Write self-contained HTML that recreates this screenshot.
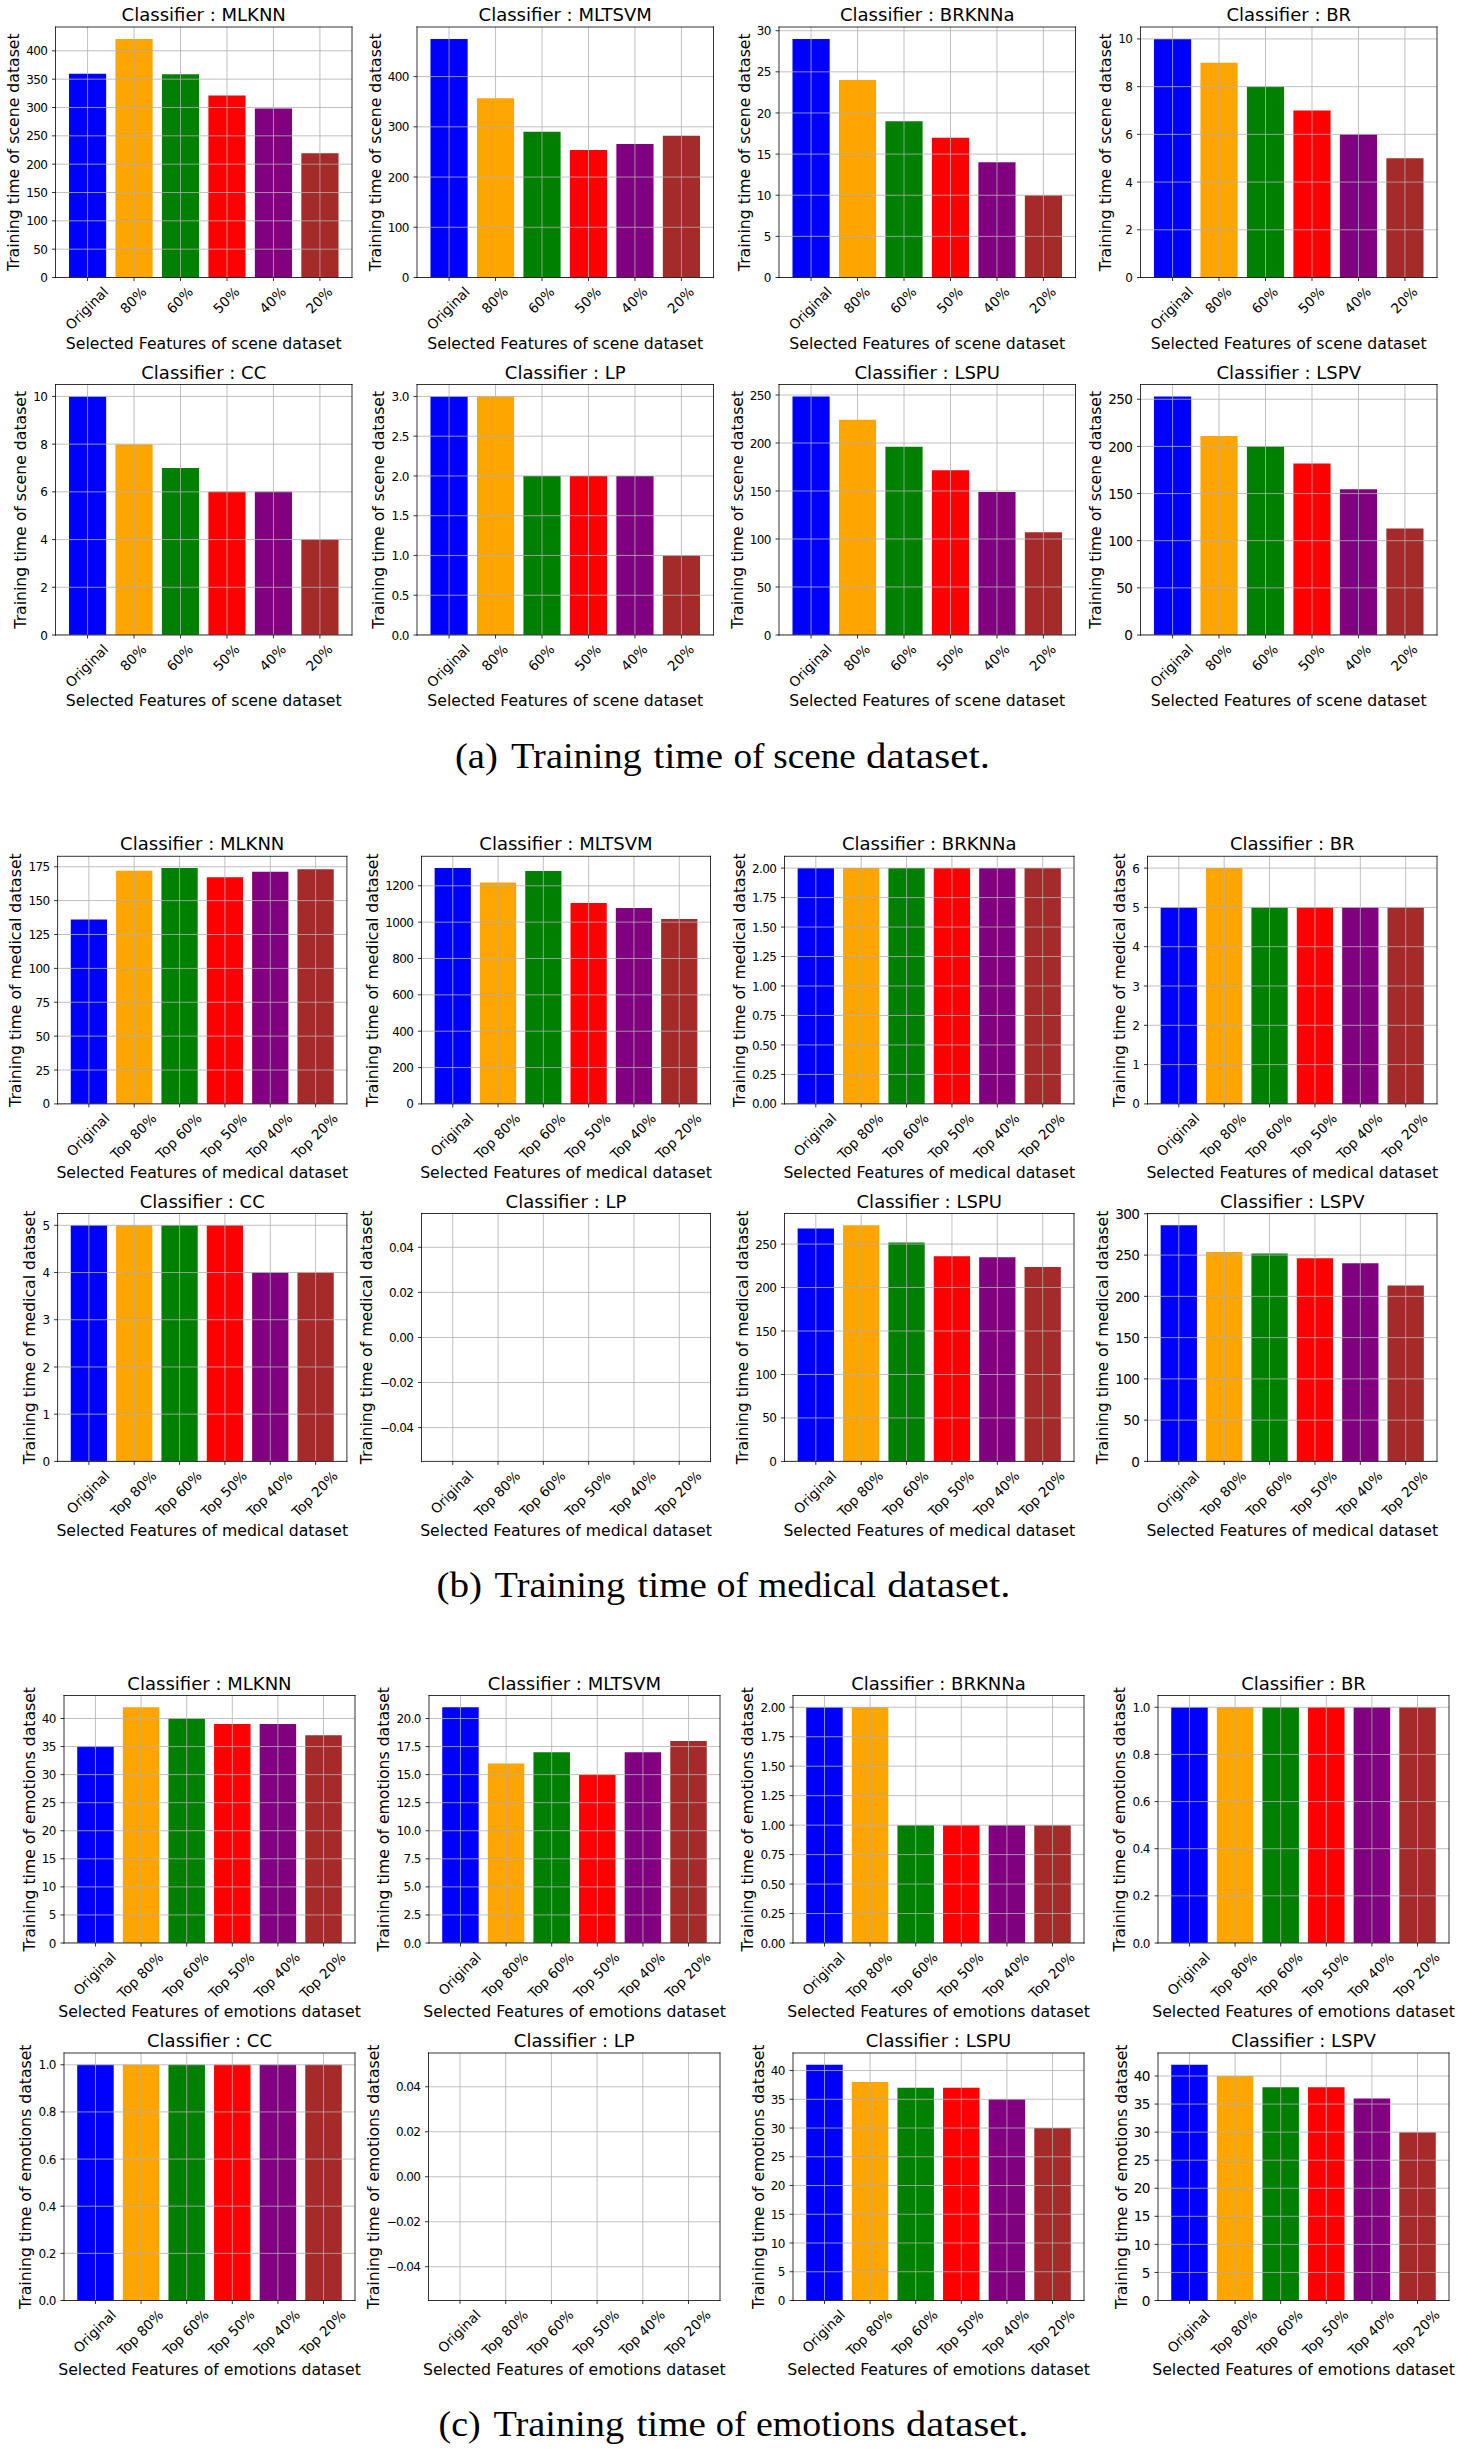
<!DOCTYPE html>
<html><head><meta charset="utf-8"><title>Training time</title>
<style>html,body{margin:0;padding:0;background:#fff;}svg{display:block;}</style>
</head><body>
<svg width="1458" height="2450" viewBox="0 0 1458 2450" version="1.1">
 
 <defs>
  <style type="text/css">*{stroke-linejoin: round; stroke-linecap: butt}</style>
 </defs>
 <g id="figure_1">
  <g id="patch_1">
   <path d="M 0 2450 
L 1458 2450 
L 1458 0 
L 0 0 
z
" style="fill: #ffffff"/>
  </g>
  <g id="axes_1">
   <g id="patch_2">
    <path d="M 55.5 277.5 
L 352 277.5 
L 352 27 
L 55.5 27 
z
" style="fill: #ffffff"/>
   </g>
   <g id="patch_3">
    <path d="M 68.977273 277.5 
L 106.155956 277.5 
L 106.155956 73.722599 
L 68.977273 73.722599 
z
" clip-path="url(#p2f9ace0a03)" style="fill: #0000ff"/>
   </g>
   <g id="patch_4">
    <path d="M 115.450627 277.5 
L 152.62931 277.5 
L 152.62931 38.928571 
L 115.450627 38.928571 
z
" clip-path="url(#p2f9ace0a03)" style="fill: #ffa500"/>
   </g>
   <g id="patch_5">
    <path d="M 161.923981 277.5 
L 199.102665 277.5 
L 199.102665 74.345945 
L 161.923981 74.345945 
z
" clip-path="url(#p2f9ace0a03)" style="fill: #008000"/>
   </g>
   <g id="patch_6">
    <path d="M 208.397335 277.5 
L 245.576019 277.5 
L 245.576019 95.483034 
L 208.397335 95.483034 
z
" clip-path="url(#p2f9ace0a03)" style="fill: #ff0000"/>
   </g>
   <g id="patch_7">
    <path d="M 254.87069 277.5 
L 292.049373 277.5 
L 292.049373 108.573295 
L 254.87069 108.573295 
z
" clip-path="url(#p2f9ace0a03)" style="fill: #800080"/>
   </g>
   <g id="patch_8">
    <path d="M 301.344044 277.5 
L 338.522727 277.5 
L 338.522727 153.340855 
L 301.344044 153.340855 
z
" clip-path="url(#p2f9ace0a03)" style="fill: #a52a2a"/>
   </g>
   <g id="matplotlib.axis_1">
    <g id="xtick_1">
     <g id="line2d_1">
      <path d="M 87.566614 277.5 
L 87.566614 27 
" clip-path="url(#p2f9ace0a03)" style="fill: none; stroke: #b0b0b0; stroke-width: 0.8; stroke-linecap: square"/>
     </g>
     <g id="line2d_2">
      
      <g>
       <path d="M 0 0 
L 0 3.5 
" transform="translate(87.566614 277.5)" style="stroke: #000000; stroke-width: 0.8"/>
      </g>
     </g>
     <g id="text_1">
      <text style="font-size: 13.7px; font-family: 'DejaVu Sans', sans-serif" transform="translate(71.28579 330.768744) rotate(-45)">Original</text>
     </g>
    </g>
    <g id="xtick_2">
     <g id="line2d_3">
      <path d="M 134.039969 277.5 
L 134.039969 27 
" clip-path="url(#p2f9ace0a03)" style="fill: none; stroke: #b0b0b0; stroke-width: 0.8; stroke-linecap: square"/>
     </g>
     <g id="line2d_4">
      <g>
       <path d="M 0 0 
L 0 3.5 
" transform="translate(134.039969 277.5)" style="stroke: #000000; stroke-width: 0.8"/>
      </g>
     </g>
     <g id="text_2">
      <text style="font-size: 13.7px; font-family: 'DejaVu Sans', sans-serif" transform="translate(125.947237 314.39256) rotate(-45)">80%</text>
     </g>
    </g>
    <g id="xtick_3">
     <g id="line2d_5">
      <path d="M 180.513323 277.5 
L 180.513323 27 
" clip-path="url(#p2f9ace0a03)" style="fill: none; stroke: #b0b0b0; stroke-width: 0.8; stroke-linecap: square"/>
     </g>
     <g id="line2d_6">
      <g>
       <path d="M 0 0 
L 0 3.5 
" transform="translate(180.513323 277.5)" style="stroke: #000000; stroke-width: 0.8"/>
      </g>
     </g>
     <g id="text_3">
      <text style="font-size: 13.7px; font-family: 'DejaVu Sans', sans-serif" transform="translate(172.420591 314.39256) rotate(-45)">60%</text>
     </g>
    </g>
    <g id="xtick_4">
     <g id="line2d_7">
      <path d="M 226.986677 277.5 
L 226.986677 27 
" clip-path="url(#p2f9ace0a03)" style="fill: none; stroke: #b0b0b0; stroke-width: 0.8; stroke-linecap: square"/>
     </g>
     <g id="line2d_8">
      <g>
       <path d="M 0 0 
L 0 3.5 
" transform="translate(226.986677 277.5)" style="stroke: #000000; stroke-width: 0.8"/>
      </g>
     </g>
     <g id="text_4">
      <text style="font-size: 13.7px; font-family: 'DejaVu Sans', sans-serif" transform="translate(218.893945 314.39256) rotate(-45)">50%</text>
     </g>
    </g>
    <g id="xtick_5">
     <g id="line2d_9">
      <path d="M 273.460031 277.5 
L 273.460031 27 
" clip-path="url(#p2f9ace0a03)" style="fill: none; stroke: #b0b0b0; stroke-width: 0.8; stroke-linecap: square"/>
     </g>
     <g id="line2d_10">
      <g>
       <path d="M 0 0 
L 0 3.5 
" transform="translate(273.460031 277.5)" style="stroke: #000000; stroke-width: 0.8"/>
      </g>
     </g>
     <g id="text_5">
      <text style="font-size: 13.7px; font-family: 'DejaVu Sans', sans-serif" transform="translate(265.367299 314.39256) rotate(-45)">40%</text>
     </g>
    </g>
    <g id="xtick_6">
     <g id="line2d_11">
      <path d="M 319.933386 277.5 
L 319.933386 27 
" clip-path="url(#p2f9ace0a03)" style="fill: none; stroke: #b0b0b0; stroke-width: 0.8; stroke-linecap: square"/>
     </g>
     <g id="line2d_12">
      <g>
       <path d="M 0 0 
L 0 3.5 
" transform="translate(319.933386 277.5)" style="stroke: #000000; stroke-width: 0.8"/>
      </g>
     </g>
     <g id="text_6">
      <text style="font-size: 13.7px; font-family: 'DejaVu Sans', sans-serif" transform="translate(311.840653 314.39256) rotate(-45)">20%</text>
     </g>
    </g>
    <g id="text_7">
     <text style="font-size: 15.7px; font-family: 'DejaVu Sans', sans-serif; text-anchor: middle" x="203.75" y="348.71296" transform="rotate(-0 203.75 348.71296)">Selected Features of scene dataset</text>
    </g>
   </g>
   <g id="matplotlib.axis_2">
    <g id="ytick_1">
     <g id="line2d_13">
      <path d="M 55.5 277.5 
L 352 277.5 
" clip-path="url(#p2f9ace0a03)" style="fill: none; stroke: #b0b0b0; stroke-width: 0.8; stroke-linecap: square"/>
     </g>
     <g id="line2d_14">
      
      <g>
       <path d="M 0 0 
L -3.5 0 
" transform="translate(55.5 277.5)" style="stroke: #000000; stroke-width: 0.8"/>
      </g>
     </g>
     <g id="text_8">
      <text style="font-size: 12px; font-family: 'DejaVu Sans', sans-serif; text-anchor: end" x="48" y="282.059062" transform="rotate(-0 48 282.059062)">0</text>
     </g>
    </g>
    <g id="ytick_2">
     <g id="line2d_15">
      <path d="M 55.5 249.166101 
L 352 249.166101 
" clip-path="url(#p2f9ace0a03)" style="fill: none; stroke: #b0b0b0; stroke-width: 0.8; stroke-linecap: square"/>
     </g>
     <g id="line2d_16">
      <g>
       <path d="M 0 0 
L -3.5 0 
" transform="translate(55.5 249.166101)" style="stroke: #000000; stroke-width: 0.8"/>
      </g>
     </g>
     <g id="text_9">
      <text style="font-size: 12px; font-family: 'DejaVu Sans', sans-serif; text-anchor: end" x="48" y="253.725164" transform="rotate(-0 48 253.725164)" textLength="14.67" lengthAdjust="spacing">50</text>
     </g>
    </g>
    <g id="ytick_3">
     <g id="line2d_17">
      <path d="M 55.5 220.832202 
L 352 220.832202 
" clip-path="url(#p2f9ace0a03)" style="fill: none; stroke: #b0b0b0; stroke-width: 0.8; stroke-linecap: square"/>
     </g>
     <g id="line2d_18">
      <g>
       <path d="M 0 0 
L -3.5 0 
" transform="translate(55.5 220.832202)" style="stroke: #000000; stroke-width: 0.8"/>
      </g>
     </g>
     <g id="text_10">
      <text style="font-size: 12px; font-family: 'DejaVu Sans', sans-serif; text-anchor: end" x="48" y="225.391265" transform="rotate(-0 48 225.391265)" textLength="21.70" lengthAdjust="spacing">100</text>
     </g>
    </g>
    <g id="ytick_4">
     <g id="line2d_19">
      <path d="M 55.5 192.498303 
L 352 192.498303 
" clip-path="url(#p2f9ace0a03)" style="fill: none; stroke: #b0b0b0; stroke-width: 0.8; stroke-linecap: square"/>
     </g>
     <g id="line2d_20">
      <g>
       <path d="M 0 0 
L -3.5 0 
" transform="translate(55.5 192.498303)" style="stroke: #000000; stroke-width: 0.8"/>
      </g>
     </g>
     <g id="text_11">
      <text style="font-size: 12px; font-family: 'DejaVu Sans', sans-serif; text-anchor: end" x="48" y="197.057366" transform="rotate(-0 48 197.057366)" textLength="21.70" lengthAdjust="spacing">150</text>
     </g>
    </g>
    <g id="ytick_5">
     <g id="line2d_21">
      <path d="M 55.5 164.164404 
L 352 164.164404 
" clip-path="url(#p2f9ace0a03)" style="fill: none; stroke: #b0b0b0; stroke-width: 0.8; stroke-linecap: square"/>
     </g>
     <g id="line2d_22">
      <g>
       <path d="M 0 0 
L -3.5 0 
" transform="translate(55.5 164.164404)" style="stroke: #000000; stroke-width: 0.8"/>
      </g>
     </g>
     <g id="text_12">
      <text style="font-size: 12px; font-family: 'DejaVu Sans', sans-serif; text-anchor: end" x="48" y="168.723467" transform="rotate(-0 48 168.723467)" textLength="21.70" lengthAdjust="spacing">200</text>
     </g>
    </g>
    <g id="ytick_6">
     <g id="line2d_23">
      <path d="M 55.5 135.830506 
L 352 135.830506 
" clip-path="url(#p2f9ace0a03)" style="fill: none; stroke: #b0b0b0; stroke-width: 0.8; stroke-linecap: square"/>
     </g>
     <g id="line2d_24">
      <g>
       <path d="M 0 0 
L -3.5 0 
" transform="translate(55.5 135.830506)" style="stroke: #000000; stroke-width: 0.8"/>
      </g>
     </g>
     <g id="text_13">
      <text style="font-size: 12px; font-family: 'DejaVu Sans', sans-serif; text-anchor: end" x="48" y="140.389568" transform="rotate(-0 48 140.389568)" textLength="21.70" lengthAdjust="spacing">250</text>
     </g>
    </g>
    <g id="ytick_7">
     <g id="line2d_25">
      <path d="M 55.5 107.496607 
L 352 107.496607 
" clip-path="url(#p2f9ace0a03)" style="fill: none; stroke: #b0b0b0; stroke-width: 0.8; stroke-linecap: square"/>
     </g>
     <g id="line2d_26">
      <g>
       <path d="M 0 0 
L -3.5 0 
" transform="translate(55.5 107.496607)" style="stroke: #000000; stroke-width: 0.8"/>
      </g>
     </g>
     <g id="text_14">
      <text style="font-size: 12px; font-family: 'DejaVu Sans', sans-serif; text-anchor: end" x="48" y="112.055669" transform="rotate(-0 48 112.055669)" textLength="21.70" lengthAdjust="spacing">300</text>
     </g>
    </g>
    <g id="ytick_8">
     <g id="line2d_27">
      <path d="M 55.5 79.162708 
L 352 79.162708 
" clip-path="url(#p2f9ace0a03)" style="fill: none; stroke: #b0b0b0; stroke-width: 0.8; stroke-linecap: square"/>
     </g>
     <g id="line2d_28">
      <g>
       <path d="M 0 0 
L -3.5 0 
" transform="translate(55.5 79.162708)" style="stroke: #000000; stroke-width: 0.8"/>
      </g>
     </g>
     <g id="text_15">
      <text style="font-size: 12px; font-family: 'DejaVu Sans', sans-serif; text-anchor: end" x="48" y="83.72177" transform="rotate(-0 48 83.72177)" textLength="21.70" lengthAdjust="spacing">350</text>
     </g>
    </g>
    <g id="ytick_9">
     <g id="line2d_29">
      <path d="M 55.5 50.828809 
L 352 50.828809 
" clip-path="url(#p2f9ace0a03)" style="fill: none; stroke: #b0b0b0; stroke-width: 0.8; stroke-linecap: square"/>
     </g>
     <g id="line2d_30">
      <g>
       <path d="M 0 0 
L -3.5 0 
" transform="translate(55.5 50.828809)" style="stroke: #000000; stroke-width: 0.8"/>
      </g>
     </g>
     <g id="text_16">
      <text style="font-size: 12px; font-family: 'DejaVu Sans', sans-serif; text-anchor: end" x="48" y="55.387871" transform="rotate(-0 48 55.387871)" textLength="21.70" lengthAdjust="spacing">400</text>
     </g>
    </g>
    <g id="text_17">
     <text style="font-size: 15.7px; font-family: 'DejaVu Sans', sans-serif; text-anchor: middle" x="19.029891" y="152.25" transform="rotate(-90 19.029891 152.25)">Training time of scene dataset</text>
    </g>
   </g>
   <g id="patch_9">
    <path d="M 55.5 277.5 
L 55.5 27 
" style="fill: none; stroke: #000000; stroke-width: 0.8; stroke-linejoin: miter; stroke-linecap: square"/>
   </g>
   <g id="patch_10">
    <path d="M 352 277.5 
L 352 27 
" style="fill: none; stroke: #000000; stroke-width: 0.8; stroke-linejoin: miter; stroke-linecap: square"/>
   </g>
   <g id="patch_11">
    <path d="M 55.5 277.5 
L 352 277.5 
" style="fill: none; stroke: #000000; stroke-width: 0.8; stroke-linejoin: miter; stroke-linecap: square"/>
   </g>
   <g id="patch_12">
    <path d="M 55.5 27 
L 352 27 
" style="fill: none; stroke: #000000; stroke-width: 0.8; stroke-linejoin: miter; stroke-linecap: square"/>
   </g>
   <g id="text_18">
    <text style="font-size: 18.05px; font-family: 'DejaVu Sans', sans-serif; text-anchor: middle" x="203.75" y="21" transform="rotate(-0 203.75 21)">Classifier : MLKNN</text>
   </g>
  </g>
  <g id="axes_2">
   <g id="patch_13">
    <path d="M 417 277.5 
L 713.5 277.5 
L 713.5 27 
L 417 27 
z
" style="fill: #ffffff"/>
   </g>
   <g id="patch_14">
    <path d="M 430.477273 277.5 
L 467.655956 277.5 
L 467.655956 38.928571 
L 430.477273 38.928571 
z
" clip-path="url(#p5b43a1395b)" style="fill: #0000ff"/>
   </g>
   <g id="patch_15">
    <path d="M 476.950627 277.5 
L 514.12931 277.5 
L 514.12931 98.194737 
L 476.950627 98.194737 
z
" clip-path="url(#p5b43a1395b)" style="fill: #ffa500"/>
   </g>
   <g id="patch_16">
    <path d="M 523.423981 277.5 
L 560.602665 277.5 
L 560.602665 131.845865 
L 523.423981 131.845865 
z
" clip-path="url(#p5b43a1395b)" style="fill: #008000"/>
   </g>
   <g id="patch_17">
    <path d="M 569.897335 277.5 
L 607.076019 277.5 
L 607.076019 149.927068 
L 569.897335 149.927068 
z
" clip-path="url(#p5b43a1395b)" style="fill: #ff0000"/>
   </g>
   <g id="patch_18">
    <path d="M 616.37069 277.5 
L 653.549373 277.5 
L 653.549373 143.9 
L 616.37069 143.9 
z
" clip-path="url(#p5b43a1395b)" style="fill: #800080"/>
   </g>
   <g id="patch_19">
    <path d="M 662.844044 277.5 
L 700.022727 277.5 
L 700.022727 135.86391 
L 662.844044 135.86391 
z
" clip-path="url(#p5b43a1395b)" style="fill: #a52a2a"/>
   </g>
   <g id="matplotlib.axis_3">
    <g id="xtick_7">
     <g id="line2d_31">
      <path d="M 449.066614 277.5 
L 449.066614 27 
" clip-path="url(#p5b43a1395b)" style="fill: none; stroke: #b0b0b0; stroke-width: 0.8; stroke-linecap: square"/>
     </g>
     <g id="line2d_32">
      <g>
       <path d="M 0 0 
L 0 3.5 
" transform="translate(449.066614 277.5)" style="stroke: #000000; stroke-width: 0.8"/>
      </g>
     </g>
     <g id="text_19">
      <text style="font-size: 13.7px; font-family: 'DejaVu Sans', sans-serif" transform="translate(432.78579 330.768744) rotate(-45)">Original</text>
     </g>
    </g>
    <g id="xtick_8">
     <g id="line2d_33">
      <path d="M 495.539969 277.5 
L 495.539969 27 
" clip-path="url(#p5b43a1395b)" style="fill: none; stroke: #b0b0b0; stroke-width: 0.8; stroke-linecap: square"/>
     </g>
     <g id="line2d_34">
      <g>
       <path d="M 0 0 
L 0 3.5 
" transform="translate(495.539969 277.5)" style="stroke: #000000; stroke-width: 0.8"/>
      </g>
     </g>
     <g id="text_20">
      <text style="font-size: 13.7px; font-family: 'DejaVu Sans', sans-serif" transform="translate(487.447237 314.39256) rotate(-45)">80%</text>
     </g>
    </g>
    <g id="xtick_9">
     <g id="line2d_35">
      <path d="M 542.013323 277.5 
L 542.013323 27 
" clip-path="url(#p5b43a1395b)" style="fill: none; stroke: #b0b0b0; stroke-width: 0.8; stroke-linecap: square"/>
     </g>
     <g id="line2d_36">
      <g>
       <path d="M 0 0 
L 0 3.5 
" transform="translate(542.013323 277.5)" style="stroke: #000000; stroke-width: 0.8"/>
      </g>
     </g>
     <g id="text_21">
      <text style="font-size: 13.7px; font-family: 'DejaVu Sans', sans-serif" transform="translate(533.920591 314.39256) rotate(-45)">60%</text>
     </g>
    </g>
    <g id="xtick_10">
     <g id="line2d_37">
      <path d="M 588.486677 277.5 
L 588.486677 27 
" clip-path="url(#p5b43a1395b)" style="fill: none; stroke: #b0b0b0; stroke-width: 0.8; stroke-linecap: square"/>
     </g>
     <g id="line2d_38">
      <g>
       <path d="M 0 0 
L 0 3.5 
" transform="translate(588.486677 277.5)" style="stroke: #000000; stroke-width: 0.8"/>
      </g>
     </g>
     <g id="text_22">
      <text style="font-size: 13.7px; font-family: 'DejaVu Sans', sans-serif" transform="translate(580.393945 314.39256) rotate(-45)">50%</text>
     </g>
    </g>
    <g id="xtick_11">
     <g id="line2d_39">
      <path d="M 634.960031 277.5 
L 634.960031 27 
" clip-path="url(#p5b43a1395b)" style="fill: none; stroke: #b0b0b0; stroke-width: 0.8; stroke-linecap: square"/>
     </g>
     <g id="line2d_40">
      <g>
       <path d="M 0 0 
L 0 3.5 
" transform="translate(634.960031 277.5)" style="stroke: #000000; stroke-width: 0.8"/>
      </g>
     </g>
     <g id="text_23">
      <text style="font-size: 13.7px; font-family: 'DejaVu Sans', sans-serif" transform="translate(626.867299 314.39256) rotate(-45)">40%</text>
     </g>
    </g>
    <g id="xtick_12">
     <g id="line2d_41">
      <path d="M 681.433386 277.5 
L 681.433386 27 
" clip-path="url(#p5b43a1395b)" style="fill: none; stroke: #b0b0b0; stroke-width: 0.8; stroke-linecap: square"/>
     </g>
     <g id="line2d_42">
      <g>
       <path d="M 0 0 
L 0 3.5 
" transform="translate(681.433386 277.5)" style="stroke: #000000; stroke-width: 0.8"/>
      </g>
     </g>
     <g id="text_24">
      <text style="font-size: 13.7px; font-family: 'DejaVu Sans', sans-serif" transform="translate(673.340653 314.39256) rotate(-45)">20%</text>
     </g>
    </g>
    <g id="text_25">
     <text style="font-size: 15.7px; font-family: 'DejaVu Sans', sans-serif; text-anchor: middle" x="565.25" y="348.71296" transform="rotate(-0 565.25 348.71296)">Selected Features of scene dataset</text>
    </g>
   </g>
   <g id="matplotlib.axis_4">
    <g id="ytick_10">
     <g id="line2d_43">
      <path d="M 417 277.5 
L 713.5 277.5 
" clip-path="url(#p5b43a1395b)" style="fill: none; stroke: #b0b0b0; stroke-width: 0.8; stroke-linecap: square"/>
     </g>
     <g id="line2d_44">
      <g>
       <path d="M 0 0 
L -3.5 0 
" transform="translate(417 277.5)" style="stroke: #000000; stroke-width: 0.8"/>
      </g>
     </g>
     <g id="text_26">
      <text style="font-size: 12px; font-family: 'DejaVu Sans', sans-serif; text-anchor: end" x="409.5" y="282.059062" transform="rotate(-0 409.5 282.059062)">0</text>
     </g>
    </g>
    <g id="ytick_11">
     <g id="line2d_45">
      <path d="M 417 227.274436 
L 713.5 227.274436 
" clip-path="url(#p5b43a1395b)" style="fill: none; stroke: #b0b0b0; stroke-width: 0.8; stroke-linecap: square"/>
     </g>
     <g id="line2d_46">
      <g>
       <path d="M 0 0 
L -3.5 0 
" transform="translate(417 227.274436)" style="stroke: #000000; stroke-width: 0.8"/>
      </g>
     </g>
     <g id="text_27">
      <text style="font-size: 12px; font-family: 'DejaVu Sans', sans-serif; text-anchor: end" x="409.5" y="231.833499" transform="rotate(-0 409.5 231.833499)" textLength="21.70" lengthAdjust="spacing">100</text>
     </g>
    </g>
    <g id="ytick_12">
     <g id="line2d_47">
      <path d="M 417 177.048872 
L 713.5 177.048872 
" clip-path="url(#p5b43a1395b)" style="fill: none; stroke: #b0b0b0; stroke-width: 0.8; stroke-linecap: square"/>
     </g>
     <g id="line2d_48">
      <g>
       <path d="M 0 0 
L -3.5 0 
" transform="translate(417 177.048872)" style="stroke: #000000; stroke-width: 0.8"/>
      </g>
     </g>
     <g id="text_28">
      <text style="font-size: 12px; font-family: 'DejaVu Sans', sans-serif; text-anchor: end" x="409.5" y="181.607935" transform="rotate(-0 409.5 181.607935)" textLength="21.70" lengthAdjust="spacing">200</text>
     </g>
    </g>
    <g id="ytick_13">
     <g id="line2d_49">
      <path d="M 417 126.823308 
L 713.5 126.823308 
" clip-path="url(#p5b43a1395b)" style="fill: none; stroke: #b0b0b0; stroke-width: 0.8; stroke-linecap: square"/>
     </g>
     <g id="line2d_50">
      <g>
       <path d="M 0 0 
L -3.5 0 
" transform="translate(417 126.823308)" style="stroke: #000000; stroke-width: 0.8"/>
      </g>
     </g>
     <g id="text_29">
      <text style="font-size: 12px; font-family: 'DejaVu Sans', sans-serif; text-anchor: end" x="409.5" y="131.382371" transform="rotate(-0 409.5 131.382371)" textLength="21.70" lengthAdjust="spacing">300</text>
     </g>
    </g>
    <g id="ytick_14">
     <g id="line2d_51">
      <path d="M 417 76.597744 
L 713.5 76.597744 
" clip-path="url(#p5b43a1395b)" style="fill: none; stroke: #b0b0b0; stroke-width: 0.8; stroke-linecap: square"/>
     </g>
     <g id="line2d_52">
      <g>
       <path d="M 0 0 
L -3.5 0 
" transform="translate(417 76.597744)" style="stroke: #000000; stroke-width: 0.8"/>
      </g>
     </g>
     <g id="text_30">
      <text style="font-size: 12px; font-family: 'DejaVu Sans', sans-serif; text-anchor: end" x="409.5" y="81.156807" transform="rotate(-0 409.5 81.156807)" textLength="21.70" lengthAdjust="spacing">400</text>
     </g>
    </g>
    <g id="text_31">
     <text style="font-size: 15.7px; font-family: 'DejaVu Sans', sans-serif; text-anchor: middle" x="380.529891" y="152.25" transform="rotate(-90 380.529891 152.25)">Training time of scene dataset</text>
    </g>
   </g>
   <g id="patch_20">
    <path d="M 417 277.5 
L 417 27 
" style="fill: none; stroke: #000000; stroke-width: 0.8; stroke-linejoin: miter; stroke-linecap: square"/>
   </g>
   <g id="patch_21">
    <path d="M 713.5 277.5 
L 713.5 27 
" style="fill: none; stroke: #000000; stroke-width: 0.8; stroke-linejoin: miter; stroke-linecap: square"/>
   </g>
   <g id="patch_22">
    <path d="M 417 277.5 
L 713.5 277.5 
" style="fill: none; stroke: #000000; stroke-width: 0.8; stroke-linejoin: miter; stroke-linecap: square"/>
   </g>
   <g id="patch_23">
    <path d="M 417 27 
L 713.5 27 
" style="fill: none; stroke: #000000; stroke-width: 0.8; stroke-linejoin: miter; stroke-linecap: square"/>
   </g>
   <g id="text_32">
    <text style="font-size: 18.05px; font-family: 'DejaVu Sans', sans-serif; text-anchor: middle" x="565.25" y="21" transform="rotate(-0 565.25 21)">Classifier : MLTSVM</text>
   </g>
  </g>
  <g id="axes_3">
   <g id="patch_24">
    <path d="M 779 277.5 
L 1075.5 277.5 
L 1075.5 27 
L 779 27 
z
" style="fill: #ffffff"/>
   </g>
   <g id="patch_25">
    <path d="M 792.477273 277.5 
L 829.655956 277.5 
L 829.655956 38.928571 
L 792.477273 38.928571 
z
" clip-path="url(#p67e2372275)" style="fill: #0000ff"/>
   </g>
   <g id="patch_26">
    <path d="M 838.950627 277.5 
L 876.12931 277.5 
L 876.12931 80.061576 
L 838.950627 80.061576 
z
" clip-path="url(#p67e2372275)" style="fill: #ffa500"/>
   </g>
   <g id="patch_27">
    <path d="M 885.423981 277.5 
L 922.602665 277.5 
L 922.602665 121.194581 
L 885.423981 121.194581 
z
" clip-path="url(#p67e2372275)" style="fill: #008000"/>
   </g>
   <g id="patch_28">
    <path d="M 931.897335 277.5 
L 969.076019 277.5 
L 969.076019 137.647783 
L 931.897335 137.647783 
z
" clip-path="url(#p67e2372275)" style="fill: #ff0000"/>
   </g>
   <g id="patch_29">
    <path d="M 978.37069 277.5 
L 1015.549373 277.5 
L 1015.549373 162.327586 
L 978.37069 162.327586 
z
" clip-path="url(#p67e2372275)" style="fill: #800080"/>
   </g>
   <g id="patch_30">
    <path d="M 1024.844044 277.5 
L 1062.022727 277.5 
L 1062.022727 195.23399 
L 1024.844044 195.23399 
z
" clip-path="url(#p67e2372275)" style="fill: #a52a2a"/>
   </g>
   <g id="matplotlib.axis_5">
    <g id="xtick_13">
     <g id="line2d_53">
      <path d="M 811.066614 277.5 
L 811.066614 27 
" clip-path="url(#p67e2372275)" style="fill: none; stroke: #b0b0b0; stroke-width: 0.8; stroke-linecap: square"/>
     </g>
     <g id="line2d_54">
      <g>
       <path d="M 0 0 
L 0 3.5 
" transform="translate(811.066614 277.5)" style="stroke: #000000; stroke-width: 0.8"/>
      </g>
     </g>
     <g id="text_33">
      <text style="font-size: 13.7px; font-family: 'DejaVu Sans', sans-serif" transform="translate(794.78579 330.768744) rotate(-45)">Original</text>
     </g>
    </g>
    <g id="xtick_14">
     <g id="line2d_55">
      <path d="M 857.539969 277.5 
L 857.539969 27 
" clip-path="url(#p67e2372275)" style="fill: none; stroke: #b0b0b0; stroke-width: 0.8; stroke-linecap: square"/>
     </g>
     <g id="line2d_56">
      <g>
       <path d="M 0 0 
L 0 3.5 
" transform="translate(857.539969 277.5)" style="stroke: #000000; stroke-width: 0.8"/>
      </g>
     </g>
     <g id="text_34">
      <text style="font-size: 13.7px; font-family: 'DejaVu Sans', sans-serif" transform="translate(849.447237 314.39256) rotate(-45)">80%</text>
     </g>
    </g>
    <g id="xtick_15">
     <g id="line2d_57">
      <path d="M 904.013323 277.5 
L 904.013323 27 
" clip-path="url(#p67e2372275)" style="fill: none; stroke: #b0b0b0; stroke-width: 0.8; stroke-linecap: square"/>
     </g>
     <g id="line2d_58">
      <g>
       <path d="M 0 0 
L 0 3.5 
" transform="translate(904.013323 277.5)" style="stroke: #000000; stroke-width: 0.8"/>
      </g>
     </g>
     <g id="text_35">
      <text style="font-size: 13.7px; font-family: 'DejaVu Sans', sans-serif" transform="translate(895.920591 314.39256) rotate(-45)">60%</text>
     </g>
    </g>
    <g id="xtick_16">
     <g id="line2d_59">
      <path d="M 950.486677 277.5 
L 950.486677 27 
" clip-path="url(#p67e2372275)" style="fill: none; stroke: #b0b0b0; stroke-width: 0.8; stroke-linecap: square"/>
     </g>
     <g id="line2d_60">
      <g>
       <path d="M 0 0 
L 0 3.5 
" transform="translate(950.486677 277.5)" style="stroke: #000000; stroke-width: 0.8"/>
      </g>
     </g>
     <g id="text_36">
      <text style="font-size: 13.7px; font-family: 'DejaVu Sans', sans-serif" transform="translate(942.393945 314.39256) rotate(-45)">50%</text>
     </g>
    </g>
    <g id="xtick_17">
     <g id="line2d_61">
      <path d="M 996.960031 277.5 
L 996.960031 27 
" clip-path="url(#p67e2372275)" style="fill: none; stroke: #b0b0b0; stroke-width: 0.8; stroke-linecap: square"/>
     </g>
     <g id="line2d_62">
      <g>
       <path d="M 0 0 
L 0 3.5 
" transform="translate(996.960031 277.5)" style="stroke: #000000; stroke-width: 0.8"/>
      </g>
     </g>
     <g id="text_37">
      <text style="font-size: 13.7px; font-family: 'DejaVu Sans', sans-serif" transform="translate(988.867299 314.39256) rotate(-45)">40%</text>
     </g>
    </g>
    <g id="xtick_18">
     <g id="line2d_63">
      <path d="M 1043.433386 277.5 
L 1043.433386 27 
" clip-path="url(#p67e2372275)" style="fill: none; stroke: #b0b0b0; stroke-width: 0.8; stroke-linecap: square"/>
     </g>
     <g id="line2d_64">
      <g>
       <path d="M 0 0 
L 0 3.5 
" transform="translate(1043.433386 277.5)" style="stroke: #000000; stroke-width: 0.8"/>
      </g>
     </g>
     <g id="text_38">
      <text style="font-size: 13.7px; font-family: 'DejaVu Sans', sans-serif" transform="translate(1035.340653 314.39256) rotate(-45)">20%</text>
     </g>
    </g>
    <g id="text_39">
     <text style="font-size: 15.7px; font-family: 'DejaVu Sans', sans-serif; text-anchor: middle" x="927.25" y="348.71296" transform="rotate(-0 927.25 348.71296)">Selected Features of scene dataset</text>
    </g>
   </g>
   <g id="matplotlib.axis_6">
    <g id="ytick_15">
     <g id="line2d_65">
      <path d="M 779 277.5 
L 1075.5 277.5 
" clip-path="url(#p67e2372275)" style="fill: none; stroke: #b0b0b0; stroke-width: 0.8; stroke-linecap: square"/>
     </g>
     <g id="line2d_66">
      <g>
       <path d="M 0 0 
L -3.5 0 
" transform="translate(779 277.5)" style="stroke: #000000; stroke-width: 0.8"/>
      </g>
     </g>
     <g id="text_40">
      <text style="font-size: 12px; font-family: 'DejaVu Sans', sans-serif; text-anchor: end" x="771.5" y="282.059062" transform="rotate(-0 771.5 282.059062)">0</text>
     </g>
    </g>
    <g id="ytick_16">
     <g id="line2d_67">
      <path d="M 779 236.366995 
L 1075.5 236.366995 
" clip-path="url(#p67e2372275)" style="fill: none; stroke: #b0b0b0; stroke-width: 0.8; stroke-linecap: square"/>
     </g>
     <g id="line2d_68">
      <g>
       <path d="M 0 0 
L -3.5 0 
" transform="translate(779 236.366995)" style="stroke: #000000; stroke-width: 0.8"/>
      </g>
     </g>
     <g id="text_41">
      <text style="font-size: 12px; font-family: 'DejaVu Sans', sans-serif; text-anchor: end" x="771.5" y="240.926058" transform="rotate(-0 771.5 240.926058)">5</text>
     </g>
    </g>
    <g id="ytick_17">
     <g id="line2d_69">
      <path d="M 779 195.23399 
L 1075.5 195.23399 
" clip-path="url(#p67e2372275)" style="fill: none; stroke: #b0b0b0; stroke-width: 0.8; stroke-linecap: square"/>
     </g>
     <g id="line2d_70">
      <g>
       <path d="M 0 0 
L -3.5 0 
" transform="translate(779 195.23399)" style="stroke: #000000; stroke-width: 0.8"/>
      </g>
     </g>
     <g id="text_42">
      <text style="font-size: 12px; font-family: 'DejaVu Sans', sans-serif; text-anchor: end" x="771.5" y="199.793053" transform="rotate(-0 771.5 199.793053)" textLength="14.67" lengthAdjust="spacing">10</text>
     </g>
    </g>
    <g id="ytick_18">
     <g id="line2d_71">
      <path d="M 779 154.100985 
L 1075.5 154.100985 
" clip-path="url(#p67e2372275)" style="fill: none; stroke: #b0b0b0; stroke-width: 0.8; stroke-linecap: square"/>
     </g>
     <g id="line2d_72">
      <g>
       <path d="M 0 0 
L -3.5 0 
" transform="translate(779 154.100985)" style="stroke: #000000; stroke-width: 0.8"/>
      </g>
     </g>
     <g id="text_43">
      <text style="font-size: 12px; font-family: 'DejaVu Sans', sans-serif; text-anchor: end" x="771.5" y="158.660048" transform="rotate(-0 771.5 158.660048)" textLength="14.67" lengthAdjust="spacing">15</text>
     </g>
    </g>
    <g id="ytick_19">
     <g id="line2d_73">
      <path d="M 779 112.96798 
L 1075.5 112.96798 
" clip-path="url(#p67e2372275)" style="fill: none; stroke: #b0b0b0; stroke-width: 0.8; stroke-linecap: square"/>
     </g>
     <g id="line2d_74">
      <g>
       <path d="M 0 0 
L -3.5 0 
" transform="translate(779 112.96798)" style="stroke: #000000; stroke-width: 0.8"/>
      </g>
     </g>
     <g id="text_44">
      <text style="font-size: 12px; font-family: 'DejaVu Sans', sans-serif; text-anchor: end" x="771.5" y="117.527043" transform="rotate(-0 771.5 117.527043)" textLength="14.67" lengthAdjust="spacing">20</text>
     </g>
    </g>
    <g id="ytick_20">
     <g id="line2d_75">
      <path d="M 779 71.834975 
L 1075.5 71.834975 
" clip-path="url(#p67e2372275)" style="fill: none; stroke: #b0b0b0; stroke-width: 0.8; stroke-linecap: square"/>
     </g>
     <g id="line2d_76">
      <g>
       <path d="M 0 0 
L -3.5 0 
" transform="translate(779 71.834975)" style="stroke: #000000; stroke-width: 0.8"/>
      </g>
     </g>
     <g id="text_45">
      <text style="font-size: 12px; font-family: 'DejaVu Sans', sans-serif; text-anchor: end" x="771.5" y="76.394038" transform="rotate(-0 771.5 76.394038)" textLength="14.67" lengthAdjust="spacing">25</text>
     </g>
    </g>
    <g id="ytick_21">
     <g id="line2d_77">
      <path d="M 779 30.70197 
L 1075.5 30.70197 
" clip-path="url(#p67e2372275)" style="fill: none; stroke: #b0b0b0; stroke-width: 0.8; stroke-linecap: square"/>
     </g>
     <g id="line2d_78">
      <g>
       <path d="M 0 0 
L -3.5 0 
" transform="translate(779 30.70197)" style="stroke: #000000; stroke-width: 0.8"/>
      </g>
     </g>
     <g id="text_46">
      <text style="font-size: 12px; font-family: 'DejaVu Sans', sans-serif; text-anchor: end" x="771.5" y="35.261033" transform="rotate(-0 771.5 35.261033)" textLength="14.67" lengthAdjust="spacing">30</text>
     </g>
    </g>
    <g id="text_47">
     <text style="font-size: 15.7px; font-family: 'DejaVu Sans', sans-serif; text-anchor: middle" x="749.564891" y="152.25" transform="rotate(-90 749.564891 152.25)">Training time of scene dataset</text>
    </g>
   </g>
   <g id="patch_31">
    <path d="M 779 277.5 
L 779 27 
" style="fill: none; stroke: #000000; stroke-width: 0.8; stroke-linejoin: miter; stroke-linecap: square"/>
   </g>
   <g id="patch_32">
    <path d="M 1075.5 277.5 
L 1075.5 27 
" style="fill: none; stroke: #000000; stroke-width: 0.8; stroke-linejoin: miter; stroke-linecap: square"/>
   </g>
   <g id="patch_33">
    <path d="M 779 277.5 
L 1075.5 277.5 
" style="fill: none; stroke: #000000; stroke-width: 0.8; stroke-linejoin: miter; stroke-linecap: square"/>
   </g>
   <g id="patch_34">
    <path d="M 779 27 
L 1075.5 27 
" style="fill: none; stroke: #000000; stroke-width: 0.8; stroke-linejoin: miter; stroke-linecap: square"/>
   </g>
   <g id="text_48">
    <text style="font-size: 18.05px; font-family: 'DejaVu Sans', sans-serif; text-anchor: middle" x="927.25" y="21" transform="rotate(-0 927.25 21)">Classifier : BRKNNa</text>
   </g>
  </g>
  <g id="axes_4">
   <g id="patch_35">
    <path d="M 1140.5 277.5 
L 1437 277.5 
L 1437 27 
L 1140.5 27 
z
" style="fill: #ffffff"/>
   </g>
   <g id="patch_36">
    <path d="M 1153.977273 277.5 
L 1191.155956 277.5 
L 1191.155956 38.928571 
L 1153.977273 38.928571 
z
" clip-path="url(#pfdc6907113)" style="fill: #0000ff"/>
   </g>
   <g id="patch_37">
    <path d="M 1200.450627 277.5 
L 1237.62931 277.5 
L 1237.62931 62.785714 
L 1200.450627 62.785714 
z
" clip-path="url(#pfdc6907113)" style="fill: #ffa500"/>
   </g>
   <g id="patch_38">
    <path d="M 1246.923981 277.5 
L 1284.102665 277.5 
L 1284.102665 86.642857 
L 1246.923981 86.642857 
z
" clip-path="url(#pfdc6907113)" style="fill: #008000"/>
   </g>
   <g id="patch_39">
    <path d="M 1293.397335 277.5 
L 1330.576019 277.5 
L 1330.576019 110.5 
L 1293.397335 110.5 
z
" clip-path="url(#pfdc6907113)" style="fill: #ff0000"/>
   </g>
   <g id="patch_40">
    <path d="M 1339.87069 277.5 
L 1377.049373 277.5 
L 1377.049373 134.357143 
L 1339.87069 134.357143 
z
" clip-path="url(#pfdc6907113)" style="fill: #800080"/>
   </g>
   <g id="patch_41">
    <path d="M 1386.344044 277.5 
L 1423.522727 277.5 
L 1423.522727 158.214286 
L 1386.344044 158.214286 
z
" clip-path="url(#pfdc6907113)" style="fill: #a52a2a"/>
   </g>
   <g id="matplotlib.axis_7">
    <g id="xtick_19">
     <g id="line2d_79">
      <path d="M 1172.566614 277.5 
L 1172.566614 27 
" clip-path="url(#pfdc6907113)" style="fill: none; stroke: #b0b0b0; stroke-width: 0.8; stroke-linecap: square"/>
     </g>
     <g id="line2d_80">
      <g>
       <path d="M 0 0 
L 0 3.5 
" transform="translate(1172.566614 277.5)" style="stroke: #000000; stroke-width: 0.8"/>
      </g>
     </g>
     <g id="text_49">
      <text style="font-size: 13.7px; font-family: 'DejaVu Sans', sans-serif" transform="translate(1156.28579 330.768744) rotate(-45)">Original</text>
     </g>
    </g>
    <g id="xtick_20">
     <g id="line2d_81">
      <path d="M 1219.039969 277.5 
L 1219.039969 27 
" clip-path="url(#pfdc6907113)" style="fill: none; stroke: #b0b0b0; stroke-width: 0.8; stroke-linecap: square"/>
     </g>
     <g id="line2d_82">
      <g>
       <path d="M 0 0 
L 0 3.5 
" transform="translate(1219.039969 277.5)" style="stroke: #000000; stroke-width: 0.8"/>
      </g>
     </g>
     <g id="text_50">
      <text style="font-size: 13.7px; font-family: 'DejaVu Sans', sans-serif" transform="translate(1210.947237 314.39256) rotate(-45)">80%</text>
     </g>
    </g>
    <g id="xtick_21">
     <g id="line2d_83">
      <path d="M 1265.513323 277.5 
L 1265.513323 27 
" clip-path="url(#pfdc6907113)" style="fill: none; stroke: #b0b0b0; stroke-width: 0.8; stroke-linecap: square"/>
     </g>
     <g id="line2d_84">
      <g>
       <path d="M 0 0 
L 0 3.5 
" transform="translate(1265.513323 277.5)" style="stroke: #000000; stroke-width: 0.8"/>
      </g>
     </g>
     <g id="text_51">
      <text style="font-size: 13.7px; font-family: 'DejaVu Sans', sans-serif" transform="translate(1257.420591 314.39256) rotate(-45)">60%</text>
     </g>
    </g>
    <g id="xtick_22">
     <g id="line2d_85">
      <path d="M 1311.986677 277.5 
L 1311.986677 27 
" clip-path="url(#pfdc6907113)" style="fill: none; stroke: #b0b0b0; stroke-width: 0.8; stroke-linecap: square"/>
     </g>
     <g id="line2d_86">
      <g>
       <path d="M 0 0 
L 0 3.5 
" transform="translate(1311.986677 277.5)" style="stroke: #000000; stroke-width: 0.8"/>
      </g>
     </g>
     <g id="text_52">
      <text style="font-size: 13.7px; font-family: 'DejaVu Sans', sans-serif" transform="translate(1303.893945 314.39256) rotate(-45)">50%</text>
     </g>
    </g>
    <g id="xtick_23">
     <g id="line2d_87">
      <path d="M 1358.460031 277.5 
L 1358.460031 27 
" clip-path="url(#pfdc6907113)" style="fill: none; stroke: #b0b0b0; stroke-width: 0.8; stroke-linecap: square"/>
     </g>
     <g id="line2d_88">
      <g>
       <path d="M 0 0 
L 0 3.5 
" transform="translate(1358.460031 277.5)" style="stroke: #000000; stroke-width: 0.8"/>
      </g>
     </g>
     <g id="text_53">
      <text style="font-size: 13.7px; font-family: 'DejaVu Sans', sans-serif" transform="translate(1350.367299 314.39256) rotate(-45)">40%</text>
     </g>
    </g>
    <g id="xtick_24">
     <g id="line2d_89">
      <path d="M 1404.933386 277.5 
L 1404.933386 27 
" clip-path="url(#pfdc6907113)" style="fill: none; stroke: #b0b0b0; stroke-width: 0.8; stroke-linecap: square"/>
     </g>
     <g id="line2d_90">
      <g>
       <path d="M 0 0 
L 0 3.5 
" transform="translate(1404.933386 277.5)" style="stroke: #000000; stroke-width: 0.8"/>
      </g>
     </g>
     <g id="text_54">
      <text style="font-size: 13.7px; font-family: 'DejaVu Sans', sans-serif" transform="translate(1396.840653 314.39256) rotate(-45)">20%</text>
     </g>
    </g>
    <g id="text_55">
     <text style="font-size: 15.7px; font-family: 'DejaVu Sans', sans-serif; text-anchor: middle" x="1288.75" y="348.71296" transform="rotate(-0 1288.75 348.71296)">Selected Features of scene dataset</text>
    </g>
   </g>
   <g id="matplotlib.axis_8">
    <g id="ytick_22">
     <g id="line2d_91">
      <path d="M 1140.5 277.5 
L 1437 277.5 
" clip-path="url(#pfdc6907113)" style="fill: none; stroke: #b0b0b0; stroke-width: 0.8; stroke-linecap: square"/>
     </g>
     <g id="line2d_92">
      <g>
       <path d="M 0 0 
L -3.5 0 
" transform="translate(1140.5 277.5)" style="stroke: #000000; stroke-width: 0.8"/>
      </g>
     </g>
     <g id="text_56">
      <text style="font-size: 12px; font-family: 'DejaVu Sans', sans-serif; text-anchor: end" x="1133" y="282.059062" transform="rotate(-0 1133 282.059062)">0</text>
     </g>
    </g>
    <g id="ytick_23">
     <g id="line2d_93">
      <path d="M 1140.5 229.785714 
L 1437 229.785714 
" clip-path="url(#pfdc6907113)" style="fill: none; stroke: #b0b0b0; stroke-width: 0.8; stroke-linecap: square"/>
     </g>
     <g id="line2d_94">
      <g>
       <path d="M 0 0 
L -3.5 0 
" transform="translate(1140.5 229.785714)" style="stroke: #000000; stroke-width: 0.8"/>
      </g>
     </g>
     <g id="text_57">
      <text style="font-size: 12px; font-family: 'DejaVu Sans', sans-serif; text-anchor: end" x="1133" y="234.344777" transform="rotate(-0 1133 234.344777)">2</text>
     </g>
    </g>
    <g id="ytick_24">
     <g id="line2d_95">
      <path d="M 1140.5 182.071429 
L 1437 182.071429 
" clip-path="url(#pfdc6907113)" style="fill: none; stroke: #b0b0b0; stroke-width: 0.8; stroke-linecap: square"/>
     </g>
     <g id="line2d_96">
      <g>
       <path d="M 0 0 
L -3.5 0 
" transform="translate(1140.5 182.071429)" style="stroke: #000000; stroke-width: 0.8"/>
      </g>
     </g>
     <g id="text_58">
      <text style="font-size: 12px; font-family: 'DejaVu Sans', sans-serif; text-anchor: end" x="1133" y="186.630491" transform="rotate(-0 1133 186.630491)">4</text>
     </g>
    </g>
    <g id="ytick_25">
     <g id="line2d_97">
      <path d="M 1140.5 134.357143 
L 1437 134.357143 
" clip-path="url(#pfdc6907113)" style="fill: none; stroke: #b0b0b0; stroke-width: 0.8; stroke-linecap: square"/>
     </g>
     <g id="line2d_98">
      <g>
       <path d="M 0 0 
L -3.5 0 
" transform="translate(1140.5 134.357143)" style="stroke: #000000; stroke-width: 0.8"/>
      </g>
     </g>
     <g id="text_59">
      <text style="font-size: 12px; font-family: 'DejaVu Sans', sans-serif; text-anchor: end" x="1133" y="138.916205" transform="rotate(-0 1133 138.916205)">6</text>
     </g>
    </g>
    <g id="ytick_26">
     <g id="line2d_99">
      <path d="M 1140.5 86.642857 
L 1437 86.642857 
" clip-path="url(#pfdc6907113)" style="fill: none; stroke: #b0b0b0; stroke-width: 0.8; stroke-linecap: square"/>
     </g>
     <g id="line2d_100">
      <g>
       <path d="M 0 0 
L -3.5 0 
" transform="translate(1140.5 86.642857)" style="stroke: #000000; stroke-width: 0.8"/>
      </g>
     </g>
     <g id="text_60">
      <text style="font-size: 12px; font-family: 'DejaVu Sans', sans-serif; text-anchor: end" x="1133" y="91.20192" transform="rotate(-0 1133 91.20192)">8</text>
     </g>
    </g>
    <g id="ytick_27">
     <g id="line2d_101">
      <path d="M 1140.5 38.928571 
L 1437 38.928571 
" clip-path="url(#pfdc6907113)" style="fill: none; stroke: #b0b0b0; stroke-width: 0.8; stroke-linecap: square"/>
     </g>
     <g id="line2d_102">
      <g>
       <path d="M 0 0 
L -3.5 0 
" transform="translate(1140.5 38.928571)" style="stroke: #000000; stroke-width: 0.8"/>
      </g>
     </g>
     <g id="text_61">
      <text style="font-size: 12px; font-family: 'DejaVu Sans', sans-serif; text-anchor: end" x="1133" y="43.487634" transform="rotate(-0 1133 43.487634)" textLength="14.67" lengthAdjust="spacing">10</text>
     </g>
    </g>
    <g id="text_62">
     <text style="font-size: 15.7px; font-family: 'DejaVu Sans', sans-serif; text-anchor: middle" x="1111.064891" y="152.25" transform="rotate(-90 1111.064891 152.25)">Training time of scene dataset</text>
    </g>
   </g>
   <g id="patch_42">
    <path d="M 1140.5 277.5 
L 1140.5 27 
" style="fill: none; stroke: #000000; stroke-width: 0.8; stroke-linejoin: miter; stroke-linecap: square"/>
   </g>
   <g id="patch_43">
    <path d="M 1437 277.5 
L 1437 27 
" style="fill: none; stroke: #000000; stroke-width: 0.8; stroke-linejoin: miter; stroke-linecap: square"/>
   </g>
   <g id="patch_44">
    <path d="M 1140.5 277.5 
L 1437 277.5 
" style="fill: none; stroke: #000000; stroke-width: 0.8; stroke-linejoin: miter; stroke-linecap: square"/>
   </g>
   <g id="patch_45">
    <path d="M 1140.5 27 
L 1437 27 
" style="fill: none; stroke: #000000; stroke-width: 0.8; stroke-linejoin: miter; stroke-linecap: square"/>
   </g>
   <g id="text_63">
    <text style="font-size: 18.05px; font-family: 'DejaVu Sans', sans-serif; text-anchor: middle" x="1288.75" y="21" transform="rotate(-0 1288.75 21)">Classifier : BR</text>
   </g>
  </g>
  <g id="axes_5">
   <g id="patch_46">
    <path d="M 55.5 635 
L 352 635 
L 352 384.5 
L 55.5 384.5 
z
" style="fill: #ffffff"/>
   </g>
   <g id="patch_47">
    <path d="M 68.977273 635 
L 106.155956 635 
L 106.155956 396.428571 
L 68.977273 396.428571 
z
" clip-path="url(#pc8a797bce1)" style="fill: #0000ff"/>
   </g>
   <g id="patch_48">
    <path d="M 115.450627 635 
L 152.62931 635 
L 152.62931 444.142857 
L 115.450627 444.142857 
z
" clip-path="url(#pc8a797bce1)" style="fill: #ffa500"/>
   </g>
   <g id="patch_49">
    <path d="M 161.923981 635 
L 199.102665 635 
L 199.102665 468 
L 161.923981 468 
z
" clip-path="url(#pc8a797bce1)" style="fill: #008000"/>
   </g>
   <g id="patch_50">
    <path d="M 208.397335 635 
L 245.576019 635 
L 245.576019 491.857143 
L 208.397335 491.857143 
z
" clip-path="url(#pc8a797bce1)" style="fill: #ff0000"/>
   </g>
   <g id="patch_51">
    <path d="M 254.87069 635 
L 292.049373 635 
L 292.049373 491.857143 
L 254.87069 491.857143 
z
" clip-path="url(#pc8a797bce1)" style="fill: #800080"/>
   </g>
   <g id="patch_52">
    <path d="M 301.344044 635 
L 338.522727 635 
L 338.522727 539.571429 
L 301.344044 539.571429 
z
" clip-path="url(#pc8a797bce1)" style="fill: #a52a2a"/>
   </g>
   <g id="matplotlib.axis_9">
    <g id="xtick_25">
     <g id="line2d_103">
      <path d="M 87.566614 635 
L 87.566614 384.5 
" clip-path="url(#pc8a797bce1)" style="fill: none; stroke: #b0b0b0; stroke-width: 0.8; stroke-linecap: square"/>
     </g>
     <g id="line2d_104">
      <g>
       <path d="M 0 0 
L 0 3.5 
" transform="translate(87.566614 635)" style="stroke: #000000; stroke-width: 0.8"/>
      </g>
     </g>
     <g id="text_64">
      <text style="font-size: 13.7px; font-family: 'DejaVu Sans', sans-serif" transform="translate(71.28579 688.268744) rotate(-45)">Original</text>
     </g>
    </g>
    <g id="xtick_26">
     <g id="line2d_105">
      <path d="M 134.039969 635 
L 134.039969 384.5 
" clip-path="url(#pc8a797bce1)" style="fill: none; stroke: #b0b0b0; stroke-width: 0.8; stroke-linecap: square"/>
     </g>
     <g id="line2d_106">
      <g>
       <path d="M 0 0 
L 0 3.5 
" transform="translate(134.039969 635)" style="stroke: #000000; stroke-width: 0.8"/>
      </g>
     </g>
     <g id="text_65">
      <text style="font-size: 13.7px; font-family: 'DejaVu Sans', sans-serif" transform="translate(125.947237 671.89256) rotate(-45)">80%</text>
     </g>
    </g>
    <g id="xtick_27">
     <g id="line2d_107">
      <path d="M 180.513323 635 
L 180.513323 384.5 
" clip-path="url(#pc8a797bce1)" style="fill: none; stroke: #b0b0b0; stroke-width: 0.8; stroke-linecap: square"/>
     </g>
     <g id="line2d_108">
      <g>
       <path d="M 0 0 
L 0 3.5 
" transform="translate(180.513323 635)" style="stroke: #000000; stroke-width: 0.8"/>
      </g>
     </g>
     <g id="text_66">
      <text style="font-size: 13.7px; font-family: 'DejaVu Sans', sans-serif" transform="translate(172.420591 671.89256) rotate(-45)">60%</text>
     </g>
    </g>
    <g id="xtick_28">
     <g id="line2d_109">
      <path d="M 226.986677 635 
L 226.986677 384.5 
" clip-path="url(#pc8a797bce1)" style="fill: none; stroke: #b0b0b0; stroke-width: 0.8; stroke-linecap: square"/>
     </g>
     <g id="line2d_110">
      <g>
       <path d="M 0 0 
L 0 3.5 
" transform="translate(226.986677 635)" style="stroke: #000000; stroke-width: 0.8"/>
      </g>
     </g>
     <g id="text_67">
      <text style="font-size: 13.7px; font-family: 'DejaVu Sans', sans-serif" transform="translate(218.893945 671.89256) rotate(-45)">50%</text>
     </g>
    </g>
    <g id="xtick_29">
     <g id="line2d_111">
      <path d="M 273.460031 635 
L 273.460031 384.5 
" clip-path="url(#pc8a797bce1)" style="fill: none; stroke: #b0b0b0; stroke-width: 0.8; stroke-linecap: square"/>
     </g>
     <g id="line2d_112">
      <g>
       <path d="M 0 0 
L 0 3.5 
" transform="translate(273.460031 635)" style="stroke: #000000; stroke-width: 0.8"/>
      </g>
     </g>
     <g id="text_68">
      <text style="font-size: 13.7px; font-family: 'DejaVu Sans', sans-serif" transform="translate(265.367299 671.89256) rotate(-45)">40%</text>
     </g>
    </g>
    <g id="xtick_30">
     <g id="line2d_113">
      <path d="M 319.933386 635 
L 319.933386 384.5 
" clip-path="url(#pc8a797bce1)" style="fill: none; stroke: #b0b0b0; stroke-width: 0.8; stroke-linecap: square"/>
     </g>
     <g id="line2d_114">
      <g>
       <path d="M 0 0 
L 0 3.5 
" transform="translate(319.933386 635)" style="stroke: #000000; stroke-width: 0.8"/>
      </g>
     </g>
     <g id="text_69">
      <text style="font-size: 13.7px; font-family: 'DejaVu Sans', sans-serif" transform="translate(311.840653 671.89256) rotate(-45)">20%</text>
     </g>
    </g>
    <g id="text_70">
     <text style="font-size: 15.7px; font-family: 'DejaVu Sans', sans-serif; text-anchor: middle" x="203.75" y="706.21296" transform="rotate(-0 203.75 706.21296)">Selected Features of scene dataset</text>
    </g>
   </g>
   <g id="matplotlib.axis_10">
    <g id="ytick_28">
     <g id="line2d_115">
      <path d="M 55.5 635 
L 352 635 
" clip-path="url(#pc8a797bce1)" style="fill: none; stroke: #b0b0b0; stroke-width: 0.8; stroke-linecap: square"/>
     </g>
     <g id="line2d_116">
      <g>
       <path d="M 0 0 
L -3.5 0 
" transform="translate(55.5 635)" style="stroke: #000000; stroke-width: 0.8"/>
      </g>
     </g>
     <g id="text_71">
      <text style="font-size: 12px; font-family: 'DejaVu Sans', sans-serif; text-anchor: end" x="48" y="639.559062" transform="rotate(-0 48 639.559062)">0</text>
     </g>
    </g>
    <g id="ytick_29">
     <g id="line2d_117">
      <path d="M 55.5 587.285714 
L 352 587.285714 
" clip-path="url(#pc8a797bce1)" style="fill: none; stroke: #b0b0b0; stroke-width: 0.8; stroke-linecap: square"/>
     </g>
     <g id="line2d_118">
      <g>
       <path d="M 0 0 
L -3.5 0 
" transform="translate(55.5 587.285714)" style="stroke: #000000; stroke-width: 0.8"/>
      </g>
     </g>
     <g id="text_72">
      <text style="font-size: 12px; font-family: 'DejaVu Sans', sans-serif; text-anchor: end" x="48" y="591.844777" transform="rotate(-0 48 591.844777)">2</text>
     </g>
    </g>
    <g id="ytick_30">
     <g id="line2d_119">
      <path d="M 55.5 539.571429 
L 352 539.571429 
" clip-path="url(#pc8a797bce1)" style="fill: none; stroke: #b0b0b0; stroke-width: 0.8; stroke-linecap: square"/>
     </g>
     <g id="line2d_120">
      <g>
       <path d="M 0 0 
L -3.5 0 
" transform="translate(55.5 539.571429)" style="stroke: #000000; stroke-width: 0.8"/>
      </g>
     </g>
     <g id="text_73">
      <text style="font-size: 12px; font-family: 'DejaVu Sans', sans-serif; text-anchor: end" x="48" y="544.130491" transform="rotate(-0 48 544.130491)">4</text>
     </g>
    </g>
    <g id="ytick_31">
     <g id="line2d_121">
      <path d="M 55.5 491.857143 
L 352 491.857143 
" clip-path="url(#pc8a797bce1)" style="fill: none; stroke: #b0b0b0; stroke-width: 0.8; stroke-linecap: square"/>
     </g>
     <g id="line2d_122">
      <g>
       <path d="M 0 0 
L -3.5 0 
" transform="translate(55.5 491.857143)" style="stroke: #000000; stroke-width: 0.8"/>
      </g>
     </g>
     <g id="text_74">
      <text style="font-size: 12px; font-family: 'DejaVu Sans', sans-serif; text-anchor: end" x="48" y="496.416205" transform="rotate(-0 48 496.416205)">6</text>
     </g>
    </g>
    <g id="ytick_32">
     <g id="line2d_123">
      <path d="M 55.5 444.142857 
L 352 444.142857 
" clip-path="url(#pc8a797bce1)" style="fill: none; stroke: #b0b0b0; stroke-width: 0.8; stroke-linecap: square"/>
     </g>
     <g id="line2d_124">
      <g>
       <path d="M 0 0 
L -3.5 0 
" transform="translate(55.5 444.142857)" style="stroke: #000000; stroke-width: 0.8"/>
      </g>
     </g>
     <g id="text_75">
      <text style="font-size: 12px; font-family: 'DejaVu Sans', sans-serif; text-anchor: end" x="48" y="448.70192" transform="rotate(-0 48 448.70192)">8</text>
     </g>
    </g>
    <g id="ytick_33">
     <g id="line2d_125">
      <path d="M 55.5 396.428571 
L 352 396.428571 
" clip-path="url(#pc8a797bce1)" style="fill: none; stroke: #b0b0b0; stroke-width: 0.8; stroke-linecap: square"/>
     </g>
     <g id="line2d_126">
      <g>
       <path d="M 0 0 
L -3.5 0 
" transform="translate(55.5 396.428571)" style="stroke: #000000; stroke-width: 0.8"/>
      </g>
     </g>
     <g id="text_76">
      <text style="font-size: 12px; font-family: 'DejaVu Sans', sans-serif; text-anchor: end" x="48" y="400.987634" transform="rotate(-0 48 400.987634)" textLength="14.67" lengthAdjust="spacing">10</text>
     </g>
    </g>
    <g id="text_77">
     <text style="font-size: 15.7px; font-family: 'DejaVu Sans', sans-serif; text-anchor: middle" x="26.064891" y="509.75" transform="rotate(-90 26.064891 509.75)">Training time of scene dataset</text>
    </g>
   </g>
   <g id="patch_53">
    <path d="M 55.5 635 
L 55.5 384.5 
" style="fill: none; stroke: #000000; stroke-width: 0.8; stroke-linejoin: miter; stroke-linecap: square"/>
   </g>
   <g id="patch_54">
    <path d="M 352 635 
L 352 384.5 
" style="fill: none; stroke: #000000; stroke-width: 0.8; stroke-linejoin: miter; stroke-linecap: square"/>
   </g>
   <g id="patch_55">
    <path d="M 55.5 635 
L 352 635 
" style="fill: none; stroke: #000000; stroke-width: 0.8; stroke-linejoin: miter; stroke-linecap: square"/>
   </g>
   <g id="patch_56">
    <path d="M 55.5 384.5 
L 352 384.5 
" style="fill: none; stroke: #000000; stroke-width: 0.8; stroke-linejoin: miter; stroke-linecap: square"/>
   </g>
   <g id="text_78">
    <text style="font-size: 18.05px; font-family: 'DejaVu Sans', sans-serif; text-anchor: middle" x="203.75" y="378.5" transform="rotate(-0 203.75 378.5)">Classifier : CC</text>
   </g>
  </g>
  <g id="axes_6">
   <g id="patch_57">
    <path d="M 417 635 
L 713.5 635 
L 713.5 384.5 
L 417 384.5 
z
" style="fill: #ffffff"/>
   </g>
   <g id="patch_58">
    <path d="M 430.477273 635 
L 467.655956 635 
L 467.655956 396.428571 
L 430.477273 396.428571 
z
" clip-path="url(#pc3d3b605e2)" style="fill: #0000ff"/>
   </g>
   <g id="patch_59">
    <path d="M 476.950627 635 
L 514.12931 635 
L 514.12931 396.428571 
L 476.950627 396.428571 
z
" clip-path="url(#pc3d3b605e2)" style="fill: #ffa500"/>
   </g>
   <g id="patch_60">
    <path d="M 523.423981 635 
L 560.602665 635 
L 560.602665 475.952381 
L 523.423981 475.952381 
z
" clip-path="url(#pc3d3b605e2)" style="fill: #008000"/>
   </g>
   <g id="patch_61">
    <path d="M 569.897335 635 
L 607.076019 635 
L 607.076019 475.952381 
L 569.897335 475.952381 
z
" clip-path="url(#pc3d3b605e2)" style="fill: #ff0000"/>
   </g>
   <g id="patch_62">
    <path d="M 616.37069 635 
L 653.549373 635 
L 653.549373 475.952381 
L 616.37069 475.952381 
z
" clip-path="url(#pc3d3b605e2)" style="fill: #800080"/>
   </g>
   <g id="patch_63">
    <path d="M 662.844044 635 
L 700.022727 635 
L 700.022727 555.47619 
L 662.844044 555.47619 
z
" clip-path="url(#pc3d3b605e2)" style="fill: #a52a2a"/>
   </g>
   <g id="matplotlib.axis_11">
    <g id="xtick_31">
     <g id="line2d_127">
      <path d="M 449.066614 635 
L 449.066614 384.5 
" clip-path="url(#pc3d3b605e2)" style="fill: none; stroke: #b0b0b0; stroke-width: 0.8; stroke-linecap: square"/>
     </g>
     <g id="line2d_128">
      <g>
       <path d="M 0 0 
L 0 3.5 
" transform="translate(449.066614 635)" style="stroke: #000000; stroke-width: 0.8"/>
      </g>
     </g>
     <g id="text_79">
      <text style="font-size: 13.7px; font-family: 'DejaVu Sans', sans-serif" transform="translate(432.78579 688.268744) rotate(-45)">Original</text>
     </g>
    </g>
    <g id="xtick_32">
     <g id="line2d_129">
      <path d="M 495.539969 635 
L 495.539969 384.5 
" clip-path="url(#pc3d3b605e2)" style="fill: none; stroke: #b0b0b0; stroke-width: 0.8; stroke-linecap: square"/>
     </g>
     <g id="line2d_130">
      <g>
       <path d="M 0 0 
L 0 3.5 
" transform="translate(495.539969 635)" style="stroke: #000000; stroke-width: 0.8"/>
      </g>
     </g>
     <g id="text_80">
      <text style="font-size: 13.7px; font-family: 'DejaVu Sans', sans-serif" transform="translate(487.447237 671.89256) rotate(-45)">80%</text>
     </g>
    </g>
    <g id="xtick_33">
     <g id="line2d_131">
      <path d="M 542.013323 635 
L 542.013323 384.5 
" clip-path="url(#pc3d3b605e2)" style="fill: none; stroke: #b0b0b0; stroke-width: 0.8; stroke-linecap: square"/>
     </g>
     <g id="line2d_132">
      <g>
       <path d="M 0 0 
L 0 3.5 
" transform="translate(542.013323 635)" style="stroke: #000000; stroke-width: 0.8"/>
      </g>
     </g>
     <g id="text_81">
      <text style="font-size: 13.7px; font-family: 'DejaVu Sans', sans-serif" transform="translate(533.920591 671.89256) rotate(-45)">60%</text>
     </g>
    </g>
    <g id="xtick_34">
     <g id="line2d_133">
      <path d="M 588.486677 635 
L 588.486677 384.5 
" clip-path="url(#pc3d3b605e2)" style="fill: none; stroke: #b0b0b0; stroke-width: 0.8; stroke-linecap: square"/>
     </g>
     <g id="line2d_134">
      <g>
       <path d="M 0 0 
L 0 3.5 
" transform="translate(588.486677 635)" style="stroke: #000000; stroke-width: 0.8"/>
      </g>
     </g>
     <g id="text_82">
      <text style="font-size: 13.7px; font-family: 'DejaVu Sans', sans-serif" transform="translate(580.393945 671.89256) rotate(-45)">50%</text>
     </g>
    </g>
    <g id="xtick_35">
     <g id="line2d_135">
      <path d="M 634.960031 635 
L 634.960031 384.5 
" clip-path="url(#pc3d3b605e2)" style="fill: none; stroke: #b0b0b0; stroke-width: 0.8; stroke-linecap: square"/>
     </g>
     <g id="line2d_136">
      <g>
       <path d="M 0 0 
L 0 3.5 
" transform="translate(634.960031 635)" style="stroke: #000000; stroke-width: 0.8"/>
      </g>
     </g>
     <g id="text_83">
      <text style="font-size: 13.7px; font-family: 'DejaVu Sans', sans-serif" transform="translate(626.867299 671.89256) rotate(-45)">40%</text>
     </g>
    </g>
    <g id="xtick_36">
     <g id="line2d_137">
      <path d="M 681.433386 635 
L 681.433386 384.5 
" clip-path="url(#pc3d3b605e2)" style="fill: none; stroke: #b0b0b0; stroke-width: 0.8; stroke-linecap: square"/>
     </g>
     <g id="line2d_138">
      <g>
       <path d="M 0 0 
L 0 3.5 
" transform="translate(681.433386 635)" style="stroke: #000000; stroke-width: 0.8"/>
      </g>
     </g>
     <g id="text_84">
      <text style="font-size: 13.7px; font-family: 'DejaVu Sans', sans-serif" transform="translate(673.340653 671.89256) rotate(-45)">20%</text>
     </g>
    </g>
    <g id="text_85">
     <text style="font-size: 15.7px; font-family: 'DejaVu Sans', sans-serif; text-anchor: middle" x="565.25" y="706.21296" transform="rotate(-0 565.25 706.21296)">Selected Features of scene dataset</text>
    </g>
   </g>
   <g id="matplotlib.axis_12">
    <g id="ytick_34">
     <g id="line2d_139">
      <path d="M 417 635 
L 713.5 635 
" clip-path="url(#pc3d3b605e2)" style="fill: none; stroke: #b0b0b0; stroke-width: 0.8; stroke-linecap: square"/>
     </g>
     <g id="line2d_140">
      <g>
       <path d="M 0 0 
L -3.5 0 
" transform="translate(417 635)" style="stroke: #000000; stroke-width: 0.8"/>
      </g>
     </g>
     <g id="text_86">
      <text style="font-size: 12px; font-family: 'DejaVu Sans', sans-serif; text-anchor: end" x="409.5" y="639.559062" transform="rotate(-0 409.5 639.559062)" textLength="17.88" lengthAdjust="spacing">0.0</text>
     </g>
    </g>
    <g id="ytick_35">
     <g id="line2d_141">
      <path d="M 417 595.238095 
L 713.5 595.238095 
" clip-path="url(#pc3d3b605e2)" style="fill: none; stroke: #b0b0b0; stroke-width: 0.8; stroke-linecap: square"/>
     </g>
     <g id="line2d_142">
      <g>
       <path d="M 0 0 
L -3.5 0 
" transform="translate(417 595.238095)" style="stroke: #000000; stroke-width: 0.8"/>
      </g>
     </g>
     <g id="text_87">
      <text style="font-size: 12px; font-family: 'DejaVu Sans', sans-serif; text-anchor: end" x="409.5" y="599.797158" transform="rotate(-0 409.5 599.797158)" textLength="17.88" lengthAdjust="spacing">0.5</text>
     </g>
    </g>
    <g id="ytick_36">
     <g id="line2d_143">
      <path d="M 417 555.47619 
L 713.5 555.47619 
" clip-path="url(#pc3d3b605e2)" style="fill: none; stroke: #b0b0b0; stroke-width: 0.8; stroke-linecap: square"/>
     </g>
     <g id="line2d_144">
      <g>
       <path d="M 0 0 
L -3.5 0 
" transform="translate(417 555.47619)" style="stroke: #000000; stroke-width: 0.8"/>
      </g>
     </g>
     <g id="text_88">
      <text style="font-size: 12px; font-family: 'DejaVu Sans', sans-serif; text-anchor: end" x="409.5" y="560.035253" transform="rotate(-0 409.5 560.035253)" textLength="17.88" lengthAdjust="spacing">1.0</text>
     </g>
    </g>
    <g id="ytick_37">
     <g id="line2d_145">
      <path d="M 417 515.714286 
L 713.5 515.714286 
" clip-path="url(#pc3d3b605e2)" style="fill: none; stroke: #b0b0b0; stroke-width: 0.8; stroke-linecap: square"/>
     </g>
     <g id="line2d_146">
      <g>
       <path d="M 0 0 
L -3.5 0 
" transform="translate(417 515.714286)" style="stroke: #000000; stroke-width: 0.8"/>
      </g>
     </g>
     <g id="text_89">
      <text style="font-size: 12px; font-family: 'DejaVu Sans', sans-serif; text-anchor: end" x="409.5" y="520.273348" transform="rotate(-0 409.5 520.273348)" textLength="17.88" lengthAdjust="spacing">1.5</text>
     </g>
    </g>
    <g id="ytick_38">
     <g id="line2d_147">
      <path d="M 417 475.952381 
L 713.5 475.952381 
" clip-path="url(#pc3d3b605e2)" style="fill: none; stroke: #b0b0b0; stroke-width: 0.8; stroke-linecap: square"/>
     </g>
     <g id="line2d_148">
      <g>
       <path d="M 0 0 
L -3.5 0 
" transform="translate(417 475.952381)" style="stroke: #000000; stroke-width: 0.8"/>
      </g>
     </g>
     <g id="text_90">
      <text style="font-size: 12px; font-family: 'DejaVu Sans', sans-serif; text-anchor: end" x="409.5" y="480.511443" transform="rotate(-0 409.5 480.511443)" textLength="17.88" lengthAdjust="spacing">2.0</text>
     </g>
    </g>
    <g id="ytick_39">
     <g id="line2d_149">
      <path d="M 417 436.190476 
L 713.5 436.190476 
" clip-path="url(#pc3d3b605e2)" style="fill: none; stroke: #b0b0b0; stroke-width: 0.8; stroke-linecap: square"/>
     </g>
     <g id="line2d_150">
      <g>
       <path d="M 0 0 
L -3.5 0 
" transform="translate(417 436.190476)" style="stroke: #000000; stroke-width: 0.8"/>
      </g>
     </g>
     <g id="text_91">
      <text style="font-size: 12px; font-family: 'DejaVu Sans', sans-serif; text-anchor: end" x="409.5" y="440.749539" transform="rotate(-0 409.5 440.749539)" textLength="17.88" lengthAdjust="spacing">2.5</text>
     </g>
    </g>
    <g id="ytick_40">
     <g id="line2d_151">
      <path d="M 417 396.428571 
L 713.5 396.428571 
" clip-path="url(#pc3d3b605e2)" style="fill: none; stroke: #b0b0b0; stroke-width: 0.8; stroke-linecap: square"/>
     </g>
     <g id="line2d_152">
      <g>
       <path d="M 0 0 
L -3.5 0 
" transform="translate(417 396.428571)" style="stroke: #000000; stroke-width: 0.8"/>
      </g>
     </g>
     <g id="text_92">
      <text style="font-size: 12px; font-family: 'DejaVu Sans', sans-serif; text-anchor: end" x="409.5" y="400.987634" transform="rotate(-0 409.5 400.987634)" textLength="17.88" lengthAdjust="spacing">3.0</text>
     </g>
    </g>
    <g id="text_93">
     <text style="font-size: 15.7px; font-family: 'DejaVu Sans', sans-serif; text-anchor: middle" x="384.351141" y="509.75" transform="rotate(-90 384.351141 509.75)">Training time of scene dataset</text>
    </g>
   </g>
   <g id="patch_64">
    <path d="M 417 635 
L 417 384.5 
" style="fill: none; stroke: #000000; stroke-width: 0.8; stroke-linejoin: miter; stroke-linecap: square"/>
   </g>
   <g id="patch_65">
    <path d="M 713.5 635 
L 713.5 384.5 
" style="fill: none; stroke: #000000; stroke-width: 0.8; stroke-linejoin: miter; stroke-linecap: square"/>
   </g>
   <g id="patch_66">
    <path d="M 417 635 
L 713.5 635 
" style="fill: none; stroke: #000000; stroke-width: 0.8; stroke-linejoin: miter; stroke-linecap: square"/>
   </g>
   <g id="patch_67">
    <path d="M 417 384.5 
L 713.5 384.5 
" style="fill: none; stroke: #000000; stroke-width: 0.8; stroke-linejoin: miter; stroke-linecap: square"/>
   </g>
   <g id="text_94">
    <text style="font-size: 18.05px; font-family: 'DejaVu Sans', sans-serif; text-anchor: middle" x="565.25" y="378.5" transform="rotate(-0 565.25 378.5)">Classifier : LP</text>
   </g>
  </g>
  <g id="axes_7">
   <g id="patch_68">
    <path d="M 779 635 
L 1075.5 635 
L 1075.5 384.5 
L 779 384.5 
z
" style="fill: #ffffff"/>
   </g>
   <g id="patch_69">
    <path d="M 792.477273 635 
L 829.655956 635 
L 829.655956 396.428571 
L 792.477273 396.428571 
z
" clip-path="url(#p0c5371c3d8)" style="fill: #0000ff"/>
   </g>
   <g id="patch_70">
    <path d="M 838.950627 635 
L 876.12931 635 
L 876.12931 419.757689 
L 838.950627 419.757689 
z
" clip-path="url(#p0c5371c3d8)" style="fill: #ffa500"/>
   </g>
   <g id="patch_71">
    <path d="M 885.423981 635 
L 922.602665 635 
L 922.602665 446.830986 
L 885.423981 446.830986 
z
" clip-path="url(#p0c5371c3d8)" style="fill: #008000"/>
   </g>
   <g id="patch_72">
    <path d="M 931.897335 635 
L 969.076019 635 
L 969.076019 470.352113 
L 931.897335 470.352113 
z
" clip-path="url(#p0c5371c3d8)" style="fill: #ff0000"/>
   </g>
   <g id="patch_73">
    <path d="M 978.37069 635 
L 1015.549373 635 
L 1015.549373 491.953147 
L 978.37069 491.953147 
z
" clip-path="url(#p0c5371c3d8)" style="fill: #800080"/>
   </g>
   <g id="patch_74">
    <path d="M 1024.844044 635 
L 1062.022727 635 
L 1062.022727 532.371084 
L 1024.844044 532.371084 
z
" clip-path="url(#p0c5371c3d8)" style="fill: #a52a2a"/>
   </g>
   <g id="matplotlib.axis_13">
    <g id="xtick_37">
     <g id="line2d_153">
      <path d="M 811.066614 635 
L 811.066614 384.5 
" clip-path="url(#p0c5371c3d8)" style="fill: none; stroke: #b0b0b0; stroke-width: 0.8; stroke-linecap: square"/>
     </g>
     <g id="line2d_154">
      <g>
       <path d="M 0 0 
L 0 3.5 
" transform="translate(811.066614 635)" style="stroke: #000000; stroke-width: 0.8"/>
      </g>
     </g>
     <g id="text_95">
      <text style="font-size: 13.7px; font-family: 'DejaVu Sans', sans-serif" transform="translate(794.78579 688.268744) rotate(-45)">Original</text>
     </g>
    </g>
    <g id="xtick_38">
     <g id="line2d_155">
      <path d="M 857.539969 635 
L 857.539969 384.5 
" clip-path="url(#p0c5371c3d8)" style="fill: none; stroke: #b0b0b0; stroke-width: 0.8; stroke-linecap: square"/>
     </g>
     <g id="line2d_156">
      <g>
       <path d="M 0 0 
L 0 3.5 
" transform="translate(857.539969 635)" style="stroke: #000000; stroke-width: 0.8"/>
      </g>
     </g>
     <g id="text_96">
      <text style="font-size: 13.7px; font-family: 'DejaVu Sans', sans-serif" transform="translate(849.447237 671.89256) rotate(-45)">80%</text>
     </g>
    </g>
    <g id="xtick_39">
     <g id="line2d_157">
      <path d="M 904.013323 635 
L 904.013323 384.5 
" clip-path="url(#p0c5371c3d8)" style="fill: none; stroke: #b0b0b0; stroke-width: 0.8; stroke-linecap: square"/>
     </g>
     <g id="line2d_158">
      <g>
       <path d="M 0 0 
L 0 3.5 
" transform="translate(904.013323 635)" style="stroke: #000000; stroke-width: 0.8"/>
      </g>
     </g>
     <g id="text_97">
      <text style="font-size: 13.7px; font-family: 'DejaVu Sans', sans-serif" transform="translate(895.920591 671.89256) rotate(-45)">60%</text>
     </g>
    </g>
    <g id="xtick_40">
     <g id="line2d_159">
      <path d="M 950.486677 635 
L 950.486677 384.5 
" clip-path="url(#p0c5371c3d8)" style="fill: none; stroke: #b0b0b0; stroke-width: 0.8; stroke-linecap: square"/>
     </g>
     <g id="line2d_160">
      <g>
       <path d="M 0 0 
L 0 3.5 
" transform="translate(950.486677 635)" style="stroke: #000000; stroke-width: 0.8"/>
      </g>
     </g>
     <g id="text_98">
      <text style="font-size: 13.7px; font-family: 'DejaVu Sans', sans-serif" transform="translate(942.393945 671.89256) rotate(-45)">50%</text>
     </g>
    </g>
    <g id="xtick_41">
     <g id="line2d_161">
      <path d="M 996.960031 635 
L 996.960031 384.5 
" clip-path="url(#p0c5371c3d8)" style="fill: none; stroke: #b0b0b0; stroke-width: 0.8; stroke-linecap: square"/>
     </g>
     <g id="line2d_162">
      <g>
       <path d="M 0 0 
L 0 3.5 
" transform="translate(996.960031 635)" style="stroke: #000000; stroke-width: 0.8"/>
      </g>
     </g>
     <g id="text_99">
      <text style="font-size: 13.7px; font-family: 'DejaVu Sans', sans-serif" transform="translate(988.867299 671.89256) rotate(-45)">40%</text>
     </g>
    </g>
    <g id="xtick_42">
     <g id="line2d_163">
      <path d="M 1043.433386 635 
L 1043.433386 384.5 
" clip-path="url(#p0c5371c3d8)" style="fill: none; stroke: #b0b0b0; stroke-width: 0.8; stroke-linecap: square"/>
     </g>
     <g id="line2d_164">
      <g>
       <path d="M 0 0 
L 0 3.5 
" transform="translate(1043.433386 635)" style="stroke: #000000; stroke-width: 0.8"/>
      </g>
     </g>
     <g id="text_100">
      <text style="font-size: 13.7px; font-family: 'DejaVu Sans', sans-serif" transform="translate(1035.340653 671.89256) rotate(-45)">20%</text>
     </g>
    </g>
    <g id="text_101">
     <text style="font-size: 15.7px; font-family: 'DejaVu Sans', sans-serif; text-anchor: middle" x="927.25" y="706.21296" transform="rotate(-0 927.25 706.21296)">Selected Features of scene dataset</text>
    </g>
   </g>
   <g id="matplotlib.axis_14">
    <g id="ytick_41">
     <g id="line2d_165">
      <path d="M 779 635 
L 1075.5 635 
" clip-path="url(#p0c5371c3d8)" style="fill: none; stroke: #b0b0b0; stroke-width: 0.8; stroke-linecap: square"/>
     </g>
     <g id="line2d_166">
      <g>
       <path d="M 0 0 
L -3.5 0 
" transform="translate(779 635)" style="stroke: #000000; stroke-width: 0.8"/>
      </g>
     </g>
     <g id="text_102">
      <text style="font-size: 12px; font-family: 'DejaVu Sans', sans-serif; text-anchor: end" x="771.5" y="639.559062" transform="rotate(-0 771.5 639.559062)">0</text>
     </g>
    </g>
    <g id="ytick_42">
     <g id="line2d_167">
      <path d="M 779 586.9977 
L 1075.5 586.9977 
" clip-path="url(#p0c5371c3d8)" style="fill: none; stroke: #b0b0b0; stroke-width: 0.8; stroke-linecap: square"/>
     </g>
     <g id="line2d_168">
      <g>
       <path d="M 0 0 
L -3.5 0 
" transform="translate(779 586.9977)" style="stroke: #000000; stroke-width: 0.8"/>
      </g>
     </g>
     <g id="text_103">
      <text style="font-size: 12px; font-family: 'DejaVu Sans', sans-serif; text-anchor: end" x="771.5" y="591.556763" transform="rotate(-0 771.5 591.556763)" textLength="14.67" lengthAdjust="spacing">50</text>
     </g>
    </g>
    <g id="ytick_43">
     <g id="line2d_169">
      <path d="M 779 538.995401 
L 1075.5 538.995401 
" clip-path="url(#p0c5371c3d8)" style="fill: none; stroke: #b0b0b0; stroke-width: 0.8; stroke-linecap: square"/>
     </g>
     <g id="line2d_170">
      <g>
       <path d="M 0 0 
L -3.5 0 
" transform="translate(779 538.995401)" style="stroke: #000000; stroke-width: 0.8"/>
      </g>
     </g>
     <g id="text_104">
      <text style="font-size: 12px; font-family: 'DejaVu Sans', sans-serif; text-anchor: end" x="771.5" y="543.554463" transform="rotate(-0 771.5 543.554463)" textLength="21.70" lengthAdjust="spacing">100</text>
     </g>
    </g>
    <g id="ytick_44">
     <g id="line2d_171">
      <path d="M 779 490.993101 
L 1075.5 490.993101 
" clip-path="url(#p0c5371c3d8)" style="fill: none; stroke: #b0b0b0; stroke-width: 0.8; stroke-linecap: square"/>
     </g>
     <g id="line2d_172">
      <g>
       <path d="M 0 0 
L -3.5 0 
" transform="translate(779 490.993101)" style="stroke: #000000; stroke-width: 0.8"/>
      </g>
     </g>
     <g id="text_105">
      <text style="font-size: 12px; font-family: 'DejaVu Sans', sans-serif; text-anchor: end" x="771.5" y="495.552164" transform="rotate(-0 771.5 495.552164)" textLength="21.70" lengthAdjust="spacing">150</text>
     </g>
    </g>
    <g id="ytick_45">
     <g id="line2d_173">
      <path d="M 779 442.990802 
L 1075.5 442.990802 
" clip-path="url(#p0c5371c3d8)" style="fill: none; stroke: #b0b0b0; stroke-width: 0.8; stroke-linecap: square"/>
     </g>
     <g id="line2d_174">
      <g>
       <path d="M 0 0 
L -3.5 0 
" transform="translate(779 442.990802)" style="stroke: #000000; stroke-width: 0.8"/>
      </g>
     </g>
     <g id="text_106">
      <text style="font-size: 12px; font-family: 'DejaVu Sans', sans-serif; text-anchor: end" x="771.5" y="447.549864" transform="rotate(-0 771.5 447.549864)" textLength="21.70" lengthAdjust="spacing">200</text>
     </g>
    </g>
    <g id="ytick_46">
     <g id="line2d_175">
      <path d="M 779 394.988502 
L 1075.5 394.988502 
" clip-path="url(#p0c5371c3d8)" style="fill: none; stroke: #b0b0b0; stroke-width: 0.8; stroke-linecap: square"/>
     </g>
     <g id="line2d_176">
      <g>
       <path d="M 0 0 
L -3.5 0 
" transform="translate(779 394.988502)" style="stroke: #000000; stroke-width: 0.8"/>
      </g>
     </g>
     <g id="text_107">
      <text style="font-size: 12px; font-family: 'DejaVu Sans', sans-serif; text-anchor: end" x="771.5" y="399.547565" transform="rotate(-0 771.5 399.547565)" textLength="21.70" lengthAdjust="spacing">250</text>
     </g>
    </g>
    <g id="text_108">
     <text style="font-size: 15.7px; font-family: 'DejaVu Sans', sans-serif; text-anchor: middle" x="742.529891" y="509.75" transform="rotate(-90 742.529891 509.75)">Training time of scene dataset</text>
    </g>
   </g>
   <g id="patch_75">
    <path d="M 779 635 
L 779 384.5 
" style="fill: none; stroke: #000000; stroke-width: 0.8; stroke-linejoin: miter; stroke-linecap: square"/>
   </g>
   <g id="patch_76">
    <path d="M 1075.5 635 
L 1075.5 384.5 
" style="fill: none; stroke: #000000; stroke-width: 0.8; stroke-linejoin: miter; stroke-linecap: square"/>
   </g>
   <g id="patch_77">
    <path d="M 779 635 
L 1075.5 635 
" style="fill: none; stroke: #000000; stroke-width: 0.8; stroke-linejoin: miter; stroke-linecap: square"/>
   </g>
   <g id="patch_78">
    <path d="M 779 384.5 
L 1075.5 384.5 
" style="fill: none; stroke: #000000; stroke-width: 0.8; stroke-linejoin: miter; stroke-linecap: square"/>
   </g>
   <g id="text_109">
    <text style="font-size: 18.05px; font-family: 'DejaVu Sans', sans-serif; text-anchor: middle" x="927.25" y="378.5" transform="rotate(-0 927.25 378.5)">Classifier : LSPU</text>
   </g>
  </g>
  <g id="axes_8">
   <g id="patch_79">
    <path d="M 1140.5 635 
L 1437 635 
L 1437 384.5 
L 1140.5 384.5 
z
" style="fill: #ffffff"/>
   </g>
   <g id="patch_80">
    <path d="M 1153.977273 635 
L 1191.155956 635 
L 1191.155956 396.428571 
L 1153.977273 396.428571 
z
" clip-path="url(#pc8f1f481cc)" style="fill: #0000ff"/>
   </g>
   <g id="patch_81">
    <path d="M 1200.450627 635 
L 1237.62931 635 
L 1237.62931 436.033315 
L 1200.450627 436.033315 
z
" clip-path="url(#pc8f1f481cc)" style="fill: #ffa500"/>
   </g>
   <g id="patch_82">
    <path d="M 1246.923981 635 
L 1284.102665 635 
L 1284.102665 446.405985 
L 1246.923981 446.405985 
z
" clip-path="url(#pc8f1f481cc)" style="fill: #008000"/>
   </g>
   <g id="patch_83">
    <path d="M 1293.397335 635 
L 1330.576019 635 
L 1330.576019 463.379447 
L 1293.397335 463.379447 
z
" clip-path="url(#pc8f1f481cc)" style="fill: #ff0000"/>
   </g>
   <g id="patch_84">
    <path d="M 1339.87069 635 
L 1377.049373 635 
L 1377.049373 489.311124 
L 1339.87069 489.311124 
z
" clip-path="url(#pc8f1f481cc)" style="fill: #800080"/>
   </g>
   <g id="patch_85">
    <path d="M 1386.344044 635 
L 1423.522727 635 
L 1423.522727 528.444382 
L 1386.344044 528.444382 
z
" clip-path="url(#pc8f1f481cc)" style="fill: #a52a2a"/>
   </g>
   <g id="matplotlib.axis_15">
    <g id="xtick_43">
     <g id="line2d_177">
      <path d="M 1172.566614 635 
L 1172.566614 384.5 
" clip-path="url(#pc8f1f481cc)" style="fill: none; stroke: #b0b0b0; stroke-width: 0.8; stroke-linecap: square"/>
     </g>
     <g id="line2d_178">
      <g>
       <path d="M 0 0 
L 0 3.5 
" transform="translate(1172.566614 635)" style="stroke: #000000; stroke-width: 0.8"/>
      </g>
     </g>
     <g id="text_110">
      <text style="font-size: 13.7px; font-family: 'DejaVu Sans', sans-serif" transform="translate(1156.28579 688.268744) rotate(-45)">Original</text>
     </g>
    </g>
    <g id="xtick_44">
     <g id="line2d_179">
      <path d="M 1219.039969 635 
L 1219.039969 384.5 
" clip-path="url(#pc8f1f481cc)" style="fill: none; stroke: #b0b0b0; stroke-width: 0.8; stroke-linecap: square"/>
     </g>
     <g id="line2d_180">
      <g>
       <path d="M 0 0 
L 0 3.5 
" transform="translate(1219.039969 635)" style="stroke: #000000; stroke-width: 0.8"/>
      </g>
     </g>
     <g id="text_111">
      <text style="font-size: 13.7px; font-family: 'DejaVu Sans', sans-serif" transform="translate(1210.947237 671.89256) rotate(-45)">80%</text>
     </g>
    </g>
    <g id="xtick_45">
     <g id="line2d_181">
      <path d="M 1265.513323 635 
L 1265.513323 384.5 
" clip-path="url(#pc8f1f481cc)" style="fill: none; stroke: #b0b0b0; stroke-width: 0.8; stroke-linecap: square"/>
     </g>
     <g id="line2d_182">
      <g>
       <path d="M 0 0 
L 0 3.5 
" transform="translate(1265.513323 635)" style="stroke: #000000; stroke-width: 0.8"/>
      </g>
     </g>
     <g id="text_112">
      <text style="font-size: 13.7px; font-family: 'DejaVu Sans', sans-serif" transform="translate(1257.420591 671.89256) rotate(-45)">60%</text>
     </g>
    </g>
    <g id="xtick_46">
     <g id="line2d_183">
      <path d="M 1311.986677 635 
L 1311.986677 384.5 
" clip-path="url(#pc8f1f481cc)" style="fill: none; stroke: #b0b0b0; stroke-width: 0.8; stroke-linecap: square"/>
     </g>
     <g id="line2d_184">
      <g>
       <path d="M 0 0 
L 0 3.5 
" transform="translate(1311.986677 635)" style="stroke: #000000; stroke-width: 0.8"/>
      </g>
     </g>
     <g id="text_113">
      <text style="font-size: 13.7px; font-family: 'DejaVu Sans', sans-serif" transform="translate(1303.893945 671.89256) rotate(-45)">50%</text>
     </g>
    </g>
    <g id="xtick_47">
     <g id="line2d_185">
      <path d="M 1358.460031 635 
L 1358.460031 384.5 
" clip-path="url(#pc8f1f481cc)" style="fill: none; stroke: #b0b0b0; stroke-width: 0.8; stroke-linecap: square"/>
     </g>
     <g id="line2d_186">
      <g>
       <path d="M 0 0 
L 0 3.5 
" transform="translate(1358.460031 635)" style="stroke: #000000; stroke-width: 0.8"/>
      </g>
     </g>
     <g id="text_114">
      <text style="font-size: 13.7px; font-family: 'DejaVu Sans', sans-serif" transform="translate(1350.367299 671.89256) rotate(-45)">40%</text>
     </g>
    </g>
    <g id="xtick_48">
     <g id="line2d_187">
      <path d="M 1404.933386 635 
L 1404.933386 384.5 
" clip-path="url(#pc8f1f481cc)" style="fill: none; stroke: #b0b0b0; stroke-width: 0.8; stroke-linecap: square"/>
     </g>
     <g id="line2d_188">
      <g>
       <path d="M 0 0 
L 0 3.5 
" transform="translate(1404.933386 635)" style="stroke: #000000; stroke-width: 0.8"/>
      </g>
     </g>
     <g id="text_115">
      <text style="font-size: 13.7px; font-family: 'DejaVu Sans', sans-serif" transform="translate(1396.840653 671.89256) rotate(-45)">20%</text>
     </g>
    </g>
    <g id="text_116">
     <text style="font-size: 15.7px; font-family: 'DejaVu Sans', sans-serif; text-anchor: middle" x="1288.75" y="706.21296" transform="rotate(-0 1288.75 706.21296)">Selected Features of scene dataset</text>
    </g>
   </g>
   <g id="matplotlib.axis_16">
    <g id="ytick_47">
     <g id="line2d_189">
      <path d="M 1140.5 635 
L 1437 635 
" clip-path="url(#pc8f1f481cc)" style="fill: none; stroke: #b0b0b0; stroke-width: 0.8; stroke-linecap: square"/>
     </g>
     <g id="line2d_190">
      <g>
       <path d="M 0 0 
L -3.5 0 
" transform="translate(1140.5 635)" style="stroke: #000000; stroke-width: 0.8"/>
      </g>
     </g>
     <g id="text_117">
      <text style="font-size: 13.6px; font-family: 'DejaVu Sans', sans-serif; text-anchor: end" x="1133" y="640.166937" transform="rotate(-0 1133 640.166937)">0</text>
     </g>
    </g>
    <g id="ytick_48">
     <g id="line2d_191">
      <path d="M 1140.5 587.851496 
L 1437 587.851496 
" clip-path="url(#pc8f1f481cc)" style="fill: none; stroke: #b0b0b0; stroke-width: 0.8; stroke-linecap: square"/>
     </g>
     <g id="line2d_192">
      <g>
       <path d="M 0 0 
L -3.5 0 
" transform="translate(1140.5 587.851496)" style="stroke: #000000; stroke-width: 0.8"/>
      </g>
     </g>
     <g id="text_118">
      <text style="font-size: 13.6px; font-family: 'DejaVu Sans', sans-serif; text-anchor: end" x="1133" y="593.018434" transform="rotate(-0 1133 593.018434)" textLength="16.71" lengthAdjust="spacing">50</text>
     </g>
    </g>
    <g id="ytick_49">
     <g id="line2d_193">
      <path d="M 1140.5 540.702993 
L 1437 540.702993 
" clip-path="url(#pc8f1f481cc)" style="fill: none; stroke: #b0b0b0; stroke-width: 0.8; stroke-linecap: square"/>
     </g>
     <g id="line2d_194">
      <g>
       <path d="M 0 0 
L -3.5 0 
" transform="translate(1140.5 540.702993)" style="stroke: #000000; stroke-width: 0.8"/>
      </g>
     </g>
     <g id="text_119">
      <text style="font-size: 13.6px; font-family: 'DejaVu Sans', sans-serif; text-anchor: end" x="1133" y="545.86993" transform="rotate(-0 1133 545.86993)" textLength="24.76" lengthAdjust="spacing">100</text>
     </g>
    </g>
    <g id="ytick_50">
     <g id="line2d_195">
      <path d="M 1140.5 493.554489 
L 1437 493.554489 
" clip-path="url(#pc8f1f481cc)" style="fill: none; stroke: #b0b0b0; stroke-width: 0.8; stroke-linecap: square"/>
     </g>
     <g id="line2d_196">
      <g>
       <path d="M 0 0 
L -3.5 0 
" transform="translate(1140.5 493.554489)" style="stroke: #000000; stroke-width: 0.8"/>
      </g>
     </g>
     <g id="text_120">
      <text style="font-size: 13.6px; font-family: 'DejaVu Sans', sans-serif; text-anchor: end" x="1133" y="498.721426" transform="rotate(-0 1133 498.721426)" textLength="24.76" lengthAdjust="spacing">150</text>
     </g>
    </g>
    <g id="ytick_51">
     <g id="line2d_197">
      <path d="M 1140.5 446.405985 
L 1437 446.405985 
" clip-path="url(#pc8f1f481cc)" style="fill: none; stroke: #b0b0b0; stroke-width: 0.8; stroke-linecap: square"/>
     </g>
     <g id="line2d_198">
      <g>
       <path d="M 0 0 
L -3.5 0 
" transform="translate(1140.5 446.405985)" style="stroke: #000000; stroke-width: 0.8"/>
      </g>
     </g>
     <g id="text_121">
      <text style="font-size: 13.6px; font-family: 'DejaVu Sans', sans-serif; text-anchor: end" x="1133" y="451.572923" transform="rotate(-0 1133 451.572923)" textLength="24.76" lengthAdjust="spacing">200</text>
     </g>
    </g>
    <g id="ytick_52">
     <g id="line2d_199">
      <path d="M 1140.5 399.257482 
L 1437 399.257482 
" clip-path="url(#pc8f1f481cc)" style="fill: none; stroke: #b0b0b0; stroke-width: 0.8; stroke-linecap: square"/>
     </g>
     <g id="line2d_200">
      <g>
       <path d="M 0 0 
L -3.5 0 
" transform="translate(1140.5 399.257482)" style="stroke: #000000; stroke-width: 0.8"/>
      </g>
     </g>
     <g id="text_122">
      <text style="font-size: 13.6px; font-family: 'DejaVu Sans', sans-serif; text-anchor: end" x="1133" y="404.424419" transform="rotate(-0 1133 404.424419)" textLength="24.76" lengthAdjust="spacing">250</text>
     </g>
    </g>
    <g id="text_123">
     <text style="font-size: 15.7px; font-family: 'DejaVu Sans', sans-serif; text-anchor: middle" x="1100.975891" y="509.75" transform="rotate(-90 1100.975891 509.75)">Training time of scene dataset</text>
    </g>
   </g>
   <g id="patch_86">
    <path d="M 1140.5 635 
L 1140.5 384.5 
" style="fill: none; stroke: #000000; stroke-width: 0.8; stroke-linejoin: miter; stroke-linecap: square"/>
   </g>
   <g id="patch_87">
    <path d="M 1437 635 
L 1437 384.5 
" style="fill: none; stroke: #000000; stroke-width: 0.8; stroke-linejoin: miter; stroke-linecap: square"/>
   </g>
   <g id="patch_88">
    <path d="M 1140.5 635 
L 1437 635 
" style="fill: none; stroke: #000000; stroke-width: 0.8; stroke-linejoin: miter; stroke-linecap: square"/>
   </g>
   <g id="patch_89">
    <path d="M 1140.5 384.5 
L 1437 384.5 
" style="fill: none; stroke: #000000; stroke-width: 0.8; stroke-linejoin: miter; stroke-linecap: square"/>
   </g>
   <g id="text_124">
    <text style="font-size: 18.05px; font-family: 'DejaVu Sans', sans-serif; text-anchor: middle" x="1288.75" y="378.5" transform="rotate(-0 1288.75 378.5)">Classifier : LSPV</text>
   </g>
  </g>
  <g id="axes_9">
   <g id="patch_90">
    <path d="M 57.6 1103.9 
L 346.9 1103.9 
L 346.9 856.3 
L 57.6 856.3 
z
" style="fill: #ffffff"/>
   </g>
   <g id="patch_91">
    <path d="M 70.75 1103.9 
L 107.025862 1103.9 
L 107.025862 919.453585 
L 70.75 919.453585 
z
" clip-path="url(#p3e0d250ede)" style="fill: #0000ff"/>
   </g>
   <g id="patch_92">
    <path d="M 116.094828 1103.9 
L 152.37069 1103.9 
L 152.37069 870.80093 
L 116.094828 870.80093 
z
" clip-path="url(#p3e0d250ede)" style="fill: #ffa500"/>
   </g>
   <g id="patch_93">
    <path d="M 161.439655 1103.9 
L 197.715517 1103.9 
L 197.715517 868.090476 
L 161.439655 868.090476 
z
" clip-path="url(#p3e0d250ede)" style="fill: #008000"/>
   </g>
   <g id="patch_94">
    <path d="M 206.784483 1103.9 
L 243.060345 1103.9 
L 243.060345 877.306021 
L 206.784483 877.306021 
z
" clip-path="url(#p3e0d250ede)" style="fill: #ff0000"/>
   </g>
   <g id="patch_95">
    <path d="M 252.12931 1103.9 
L 288.405172 1103.9 
L 288.405172 871.749589 
L 252.12931 871.749589 
z
" clip-path="url(#p3e0d250ede)" style="fill: #800080"/>
   </g>
   <g id="patch_96">
    <path d="M 297.474138 1103.9 
L 333.75 1103.9 
L 333.75 869.310181 
L 297.474138 869.310181 
z
" clip-path="url(#p3e0d250ede)" style="fill: #a52a2a"/>
   </g>
   <g id="matplotlib.axis_17">
    <g id="xtick_49">
     <g id="line2d_201">
      <path d="M 88.887931 1103.9 
L 88.887931 856.3 
" clip-path="url(#p3e0d250ede)" style="fill: none; stroke: #b0b0b0; stroke-width: 0.8; stroke-linecap: square"/>
     </g>
     <g id="line2d_202">
      <g>
       <path d="M 0 0 
L 0 3.5 
" transform="translate(88.887931 1103.9)" style="stroke: #000000; stroke-width: 0.8"/>
      </g>
     </g>
     <g id="text_125">
      <text style="font-size: 13.7px; font-family: 'DejaVu Sans', sans-serif" transform="translate(72.607107 1157.168744) rotate(-45)">Original</text>
     </g>
    </g>
    <g id="xtick_50">
     <g id="line2d_203">
      <path d="M 134.232759 1103.9 
L 134.232759 856.3 
" clip-path="url(#p3e0d250ede)" style="fill: none; stroke: #b0b0b0; stroke-width: 0.8; stroke-linecap: square"/>
     </g>
     <g id="line2d_204">
      <g>
       <path d="M 0 0 
L 0 3.5 
" transform="translate(134.232759 1103.9)" style="stroke: #000000; stroke-width: 0.8"/>
      </g>
     </g>
     <g id="text_126">
      <text style="font-size: 13.7px; font-family: 'DejaVu Sans', sans-serif" transform="translate(116.426932 1160.21875) rotate(-45)">Top 80%</text>
     </g>
    </g>
    <g id="xtick_51">
     <g id="line2d_205">
      <path d="M 179.577586 1103.9 
L 179.577586 856.3 
" clip-path="url(#p3e0d250ede)" style="fill: none; stroke: #b0b0b0; stroke-width: 0.8; stroke-linecap: square"/>
     </g>
     <g id="line2d_206">
      <g>
       <path d="M 0 0 
L 0 3.5 
" transform="translate(179.577586 1103.9)" style="stroke: #000000; stroke-width: 0.8"/>
      </g>
     </g>
     <g id="text_127">
      <text style="font-size: 13.7px; font-family: 'DejaVu Sans', sans-serif" transform="translate(161.771759 1160.21875) rotate(-45)">Top 60%</text>
     </g>
    </g>
    <g id="xtick_52">
     <g id="line2d_207">
      <path d="M 224.922414 1103.9 
L 224.922414 856.3 
" clip-path="url(#p3e0d250ede)" style="fill: none; stroke: #b0b0b0; stroke-width: 0.8; stroke-linecap: square"/>
     </g>
     <g id="line2d_208">
      <g>
       <path d="M 0 0 
L 0 3.5 
" transform="translate(224.922414 1103.9)" style="stroke: #000000; stroke-width: 0.8"/>
      </g>
     </g>
     <g id="text_128">
      <text style="font-size: 13.7px; font-family: 'DejaVu Sans', sans-serif" transform="translate(207.116587 1160.21875) rotate(-45)">Top 50%</text>
     </g>
    </g>
    <g id="xtick_53">
     <g id="line2d_209">
      <path d="M 270.267241 1103.9 
L 270.267241 856.3 
" clip-path="url(#p3e0d250ede)" style="fill: none; stroke: #b0b0b0; stroke-width: 0.8; stroke-linecap: square"/>
     </g>
     <g id="line2d_210">
      <g>
       <path d="M 0 0 
L 0 3.5 
" transform="translate(270.267241 1103.9)" style="stroke: #000000; stroke-width: 0.8"/>
      </g>
     </g>
     <g id="text_129">
      <text style="font-size: 13.7px; font-family: 'DejaVu Sans', sans-serif" transform="translate(252.461414 1160.21875) rotate(-45)">Top 40%</text>
     </g>
    </g>
    <g id="xtick_54">
     <g id="line2d_211">
      <path d="M 315.612069 1103.9 
L 315.612069 856.3 
" clip-path="url(#p3e0d250ede)" style="fill: none; stroke: #b0b0b0; stroke-width: 0.8; stroke-linecap: square"/>
     </g>
     <g id="line2d_212">
      <g>
       <path d="M 0 0 
L 0 3.5 
" transform="translate(315.612069 1103.9)" style="stroke: #000000; stroke-width: 0.8"/>
      </g>
     </g>
     <g id="text_130">
      <text style="font-size: 13.7px; font-family: 'DejaVu Sans', sans-serif" transform="translate(297.806242 1160.21875) rotate(-45)">Top 20%</text>
     </g>
    </g>
    <g id="text_131">
     <text style="font-size: 15.7px; font-family: 'DejaVu Sans', sans-serif; text-anchor: middle" x="202.25" y="1178.162965" transform="rotate(-0 202.25 1178.162965)">Selected Features of medical dataset</text>
    </g>
   </g>
   <g id="matplotlib.axis_18">
    <g id="ytick_53">
     <g id="line2d_213">
      <path d="M 57.6 1103.9 
L 346.9 1103.9 
" clip-path="url(#p3e0d250ede)" style="fill: none; stroke: #b0b0b0; stroke-width: 0.8; stroke-linecap: square"/>
     </g>
     <g id="line2d_214">
      <g>
       <path d="M 0 0 
L -3.5 0 
" transform="translate(57.6 1103.9)" style="stroke: #000000; stroke-width: 0.8"/>
      </g>
     </g>
     <g id="text_132">
      <text style="font-size: 12px; font-family: 'DejaVu Sans', sans-serif; text-anchor: end" x="50.1" y="1108.459063" transform="rotate(-0 50.1 1108.459063)">0</text>
     </g>
    </g>
    <g id="ytick_54">
     <g id="line2d_215">
      <path d="M 57.6 1070.019321 
L 346.9 1070.019321 
" clip-path="url(#p3e0d250ede)" style="fill: none; stroke: #b0b0b0; stroke-width: 0.8; stroke-linecap: square"/>
     </g>
     <g id="line2d_216">
      <g>
       <path d="M 0 0 
L -3.5 0 
" transform="translate(57.6 1070.019321)" style="stroke: #000000; stroke-width: 0.8"/>
      </g>
     </g>
     <g id="text_133">
      <text style="font-size: 12px; font-family: 'DejaVu Sans', sans-serif; text-anchor: end" x="50.1" y="1074.578384" transform="rotate(-0 50.1 1074.578384)" textLength="14.67" lengthAdjust="spacing">25</text>
     </g>
    </g>
    <g id="ytick_55">
     <g id="line2d_217">
      <path d="M 57.6 1036.138643 
L 346.9 1036.138643 
" clip-path="url(#p3e0d250ede)" style="fill: none; stroke: #b0b0b0; stroke-width: 0.8; stroke-linecap: square"/>
     </g>
     <g id="line2d_218">
      <g>
       <path d="M 0 0 
L -3.5 0 
" transform="translate(57.6 1036.138643)" style="stroke: #000000; stroke-width: 0.8"/>
      </g>
     </g>
     <g id="text_134">
      <text style="font-size: 12px; font-family: 'DejaVu Sans', sans-serif; text-anchor: end" x="50.1" y="1040.697705" transform="rotate(-0 50.1 1040.697705)" textLength="14.67" lengthAdjust="spacing">50</text>
     </g>
    </g>
    <g id="ytick_56">
     <g id="line2d_219">
      <path d="M 57.6 1002.257964 
L 346.9 1002.257964 
" clip-path="url(#p3e0d250ede)" style="fill: none; stroke: #b0b0b0; stroke-width: 0.8; stroke-linecap: square"/>
     </g>
     <g id="line2d_220">
      <g>
       <path d="M 0 0 
L -3.5 0 
" transform="translate(57.6 1002.257964)" style="stroke: #000000; stroke-width: 0.8"/>
      </g>
     </g>
     <g id="text_135">
      <text style="font-size: 12px; font-family: 'DejaVu Sans', sans-serif; text-anchor: end" x="50.1" y="1006.817026" transform="rotate(-0 50.1 1006.817026)" textLength="14.67" lengthAdjust="spacing">75</text>
     </g>
    </g>
    <g id="ytick_57">
     <g id="line2d_221">
      <path d="M 57.6 968.377285 
L 346.9 968.377285 
" clip-path="url(#p3e0d250ede)" style="fill: none; stroke: #b0b0b0; stroke-width: 0.8; stroke-linecap: square"/>
     </g>
     <g id="line2d_222">
      <g>
       <path d="M 0 0 
L -3.5 0 
" transform="translate(57.6 968.377285)" style="stroke: #000000; stroke-width: 0.8"/>
      </g>
     </g>
     <g id="text_136">
      <text style="font-size: 12px; font-family: 'DejaVu Sans', sans-serif; text-anchor: end" x="50.1" y="972.936348" transform="rotate(-0 50.1 972.936348)" textLength="21.70" lengthAdjust="spacing">100</text>
     </g>
    </g>
    <g id="ytick_58">
     <g id="line2d_223">
      <path d="M 57.6 934.496606 
L 346.9 934.496606 
" clip-path="url(#p3e0d250ede)" style="fill: none; stroke: #b0b0b0; stroke-width: 0.8; stroke-linecap: square"/>
     </g>
     <g id="line2d_224">
      <g>
       <path d="M 0 0 
L -3.5 0 
" transform="translate(57.6 934.496606)" style="stroke: #000000; stroke-width: 0.8"/>
      </g>
     </g>
     <g id="text_137">
      <text style="font-size: 12px; font-family: 'DejaVu Sans', sans-serif; text-anchor: end" x="50.1" y="939.055669" transform="rotate(-0 50.1 939.055669)" textLength="21.70" lengthAdjust="spacing">125</text>
     </g>
    </g>
    <g id="ytick_59">
     <g id="line2d_225">
      <path d="M 57.6 900.615928 
L 346.9 900.615928 
" clip-path="url(#p3e0d250ede)" style="fill: none; stroke: #b0b0b0; stroke-width: 0.8; stroke-linecap: square"/>
     </g>
     <g id="line2d_226">
      <g>
       <path d="M 0 0 
L -3.5 0 
" transform="translate(57.6 900.615928)" style="stroke: #000000; stroke-width: 0.8"/>
      </g>
     </g>
     <g id="text_138">
      <text style="font-size: 12px; font-family: 'DejaVu Sans', sans-serif; text-anchor: end" x="50.1" y="905.17499" transform="rotate(-0 50.1 905.17499)" textLength="21.70" lengthAdjust="spacing">150</text>
     </g>
    </g>
    <g id="ytick_60">
     <g id="line2d_227">
      <path d="M 57.6 866.735249 
L 346.9 866.735249 
" clip-path="url(#p3e0d250ede)" style="fill: none; stroke: #b0b0b0; stroke-width: 0.8; stroke-linecap: square"/>
     </g>
     <g id="line2d_228">
      <g>
       <path d="M 0 0 
L -3.5 0 
" transform="translate(57.6 866.735249)" style="stroke: #000000; stroke-width: 0.8"/>
      </g>
     </g>
     <g id="text_139">
      <text style="font-size: 12px; font-family: 'DejaVu Sans', sans-serif; text-anchor: end" x="50.1" y="871.294312" transform="rotate(-0 50.1 871.294312)" textLength="21.70" lengthAdjust="spacing">175</text>
     </g>
    </g>
    <g id="text_140">
     <text style="font-size: 15.7px; font-family: 'DejaVu Sans', sans-serif; text-anchor: middle" x="21.129891" y="980.1" transform="rotate(-90 21.129891 980.1)">Training time of medical dataset</text>
    </g>
   </g>
   <g id="patch_97">
    <path d="M 57.6 1103.9 
L 57.6 856.3 
" style="fill: none; stroke: #000000; stroke-width: 0.8; stroke-linejoin: miter; stroke-linecap: square"/>
   </g>
   <g id="patch_98">
    <path d="M 346.9 1103.9 
L 346.9 856.3 
" style="fill: none; stroke: #000000; stroke-width: 0.8; stroke-linejoin: miter; stroke-linecap: square"/>
   </g>
   <g id="patch_99">
    <path d="M 57.6 1103.9 
L 346.9 1103.9 
" style="fill: none; stroke: #000000; stroke-width: 0.8; stroke-linejoin: miter; stroke-linecap: square"/>
   </g>
   <g id="patch_100">
    <path d="M 57.6 856.3 
L 346.9 856.3 
" style="fill: none; stroke: #000000; stroke-width: 0.8; stroke-linejoin: miter; stroke-linecap: square"/>
   </g>
   <g id="text_141">
    <text style="font-size: 18.05px; font-family: 'DejaVu Sans', sans-serif; text-anchor: middle" x="202.25" y="850.3" transform="rotate(-0 202.25 850.3)">Classifier : MLKNN</text>
   </g>
  </g>
  <g id="axes_10">
   <g id="patch_101">
    <path d="M 421.5 1103.9 
L 710.5 1103.9 
L 710.5 856.3 
L 421.5 856.3 
z
" style="fill: #ffffff"/>
   </g>
   <g id="patch_102">
    <path d="M 434.636364 1103.9 
L 470.874608 1103.9 
L 470.874608 868.090476 
L 434.636364 868.090476 
z
" clip-path="url(#pe4eb801323)" style="fill: #0000ff"/>
   </g>
   <g id="patch_103">
    <path d="M 479.934169 1103.9 
L 516.172414 1103.9 
L 516.172414 882.485508 
L 479.934169 882.485508 
z
" clip-path="url(#pe4eb801323)" style="fill: #ffa500"/>
   </g>
   <g id="patch_104">
    <path d="M 525.231975 1103.9 
L 561.470219 1103.9 
L 561.470219 870.998563 
L 525.231975 870.998563 
z
" clip-path="url(#pe4eb801323)" style="fill: #008000"/>
   </g>
   <g id="patch_105">
    <path d="M 570.529781 1103.9 
L 606.768025 1103.9 
L 606.768025 903.096576 
L 570.529781 903.096576 
z
" clip-path="url(#pe4eb801323)" style="fill: #ff0000"/>
   </g>
   <g id="patch_106">
    <path d="M 615.827586 1103.9 
L 652.065831 1103.9 
L 652.065831 907.985798 
L 615.827586 907.985798 
z
" clip-path="url(#pe4eb801323)" style="fill: #800080"/>
   </g>
   <g id="patch_107">
    <path d="M 661.125392 1103.9 
L 697.363636 1103.9 
L 697.363636 919.091056 
L 661.125392 919.091056 
z
" clip-path="url(#pe4eb801323)" style="fill: #a52a2a"/>
   </g>
   <g id="matplotlib.axis_19">
    <g id="xtick_55">
     <g id="line2d_229">
      <path d="M 452.755486 1103.9 
L 452.755486 856.3 
" clip-path="url(#pe4eb801323)" style="fill: none; stroke: #b0b0b0; stroke-width: 0.8; stroke-linecap: square"/>
     </g>
     <g id="line2d_230">
      <g>
       <path d="M 0 0 
L 0 3.5 
" transform="translate(452.755486 1103.9)" style="stroke: #000000; stroke-width: 0.8"/>
      </g>
     </g>
     <g id="text_142">
      <text style="font-size: 13.7px; font-family: 'DejaVu Sans', sans-serif" transform="translate(436.474662 1157.168744) rotate(-45)">Original</text>
     </g>
    </g>
    <g id="xtick_56">
     <g id="line2d_231">
      <path d="M 498.053292 1103.9 
L 498.053292 856.3 
" clip-path="url(#pe4eb801323)" style="fill: none; stroke: #b0b0b0; stroke-width: 0.8; stroke-linecap: square"/>
     </g>
     <g id="line2d_232">
      <g>
       <path d="M 0 0 
L 0 3.5 
" transform="translate(498.053292 1103.9)" style="stroke: #000000; stroke-width: 0.8"/>
      </g>
     </g>
     <g id="text_143">
      <text style="font-size: 13.7px; font-family: 'DejaVu Sans', sans-serif" transform="translate(480.247464 1160.21875) rotate(-45)">Top 80%</text>
     </g>
    </g>
    <g id="xtick_57">
     <g id="line2d_233">
      <path d="M 543.351097 1103.9 
L 543.351097 856.3 
" clip-path="url(#pe4eb801323)" style="fill: none; stroke: #b0b0b0; stroke-width: 0.8; stroke-linecap: square"/>
     </g>
     <g id="line2d_234">
      <g>
       <path d="M 0 0 
L 0 3.5 
" transform="translate(543.351097 1103.9)" style="stroke: #000000; stroke-width: 0.8"/>
      </g>
     </g>
     <g id="text_144">
      <text style="font-size: 13.7px; font-family: 'DejaVu Sans', sans-serif" transform="translate(525.54527 1160.21875) rotate(-45)">Top 60%</text>
     </g>
    </g>
    <g id="xtick_58">
     <g id="line2d_235">
      <path d="M 588.648903 1103.9 
L 588.648903 856.3 
" clip-path="url(#pe4eb801323)" style="fill: none; stroke: #b0b0b0; stroke-width: 0.8; stroke-linecap: square"/>
     </g>
     <g id="line2d_236">
      <g>
       <path d="M 0 0 
L 0 3.5 
" transform="translate(588.648903 1103.9)" style="stroke: #000000; stroke-width: 0.8"/>
      </g>
     </g>
     <g id="text_145">
      <text style="font-size: 13.7px; font-family: 'DejaVu Sans', sans-serif" transform="translate(570.843076 1160.21875) rotate(-45)">Top 50%</text>
     </g>
    </g>
    <g id="xtick_59">
     <g id="line2d_237">
      <path d="M 633.946708 1103.9 
L 633.946708 856.3 
" clip-path="url(#pe4eb801323)" style="fill: none; stroke: #b0b0b0; stroke-width: 0.8; stroke-linecap: square"/>
     </g>
     <g id="line2d_238">
      <g>
       <path d="M 0 0 
L 0 3.5 
" transform="translate(633.946708 1103.9)" style="stroke: #000000; stroke-width: 0.8"/>
      </g>
     </g>
     <g id="text_146">
      <text style="font-size: 13.7px; font-family: 'DejaVu Sans', sans-serif" transform="translate(616.140881 1160.21875) rotate(-45)">Top 40%</text>
     </g>
    </g>
    <g id="xtick_60">
     <g id="line2d_239">
      <path d="M 679.244514 1103.9 
L 679.244514 856.3 
" clip-path="url(#pe4eb801323)" style="fill: none; stroke: #b0b0b0; stroke-width: 0.8; stroke-linecap: square"/>
     </g>
     <g id="line2d_240">
      <g>
       <path d="M 0 0 
L 0 3.5 
" transform="translate(679.244514 1103.9)" style="stroke: #000000; stroke-width: 0.8"/>
      </g>
     </g>
     <g id="text_147">
      <text style="font-size: 13.7px; font-family: 'DejaVu Sans', sans-serif" transform="translate(661.438687 1160.21875) rotate(-45)">Top 20%</text>
     </g>
    </g>
    <g id="text_148">
     <text style="font-size: 15.7px; font-family: 'DejaVu Sans', sans-serif; text-anchor: middle" x="566" y="1178.162965" transform="rotate(-0 566 1178.162965)">Selected Features of medical dataset</text>
    </g>
   </g>
   <g id="matplotlib.axis_20">
    <g id="ytick_61">
     <g id="line2d_241">
      <path d="M 421.5 1103.9 
L 710.5 1103.9 
" clip-path="url(#pe4eb801323)" style="fill: none; stroke: #b0b0b0; stroke-width: 0.8; stroke-linecap: square"/>
     </g>
     <g id="line2d_242">
      <g>
       <path d="M 0 0 
L -3.5 0 
" transform="translate(421.5 1103.9)" style="stroke: #000000; stroke-width: 0.8"/>
      </g>
     </g>
     <g id="text_149">
      <text style="font-size: 12px; font-family: 'DejaVu Sans', sans-serif; text-anchor: end" x="414" y="1108.459063" transform="rotate(-0 414 1108.459063)">0</text>
     </g>
    </g>
    <g id="ytick_62">
     <g id="line2d_243">
      <path d="M 421.5 1067.54891 
L 710.5 1067.54891 
" clip-path="url(#pe4eb801323)" style="fill: none; stroke: #b0b0b0; stroke-width: 0.8; stroke-linecap: square"/>
     </g>
     <g id="line2d_244">
      <g>
       <path d="M 0 0 
L -3.5 0 
" transform="translate(421.5 1067.54891)" style="stroke: #000000; stroke-width: 0.8"/>
      </g>
     </g>
     <g id="text_150">
      <text style="font-size: 12px; font-family: 'DejaVu Sans', sans-serif; text-anchor: end" x="414" y="1072.107972" transform="rotate(-0 414 1072.107972)" textLength="21.70" lengthAdjust="spacing">200</text>
     </g>
    </g>
    <g id="ytick_63">
     <g id="line2d_245">
      <path d="M 421.5 1031.197819 
L 710.5 1031.197819 
" clip-path="url(#pe4eb801323)" style="fill: none; stroke: #b0b0b0; stroke-width: 0.8; stroke-linecap: square"/>
     </g>
     <g id="line2d_246">
      <g>
       <path d="M 0 0 
L -3.5 0 
" transform="translate(421.5 1031.197819)" style="stroke: #000000; stroke-width: 0.8"/>
      </g>
     </g>
     <g id="text_151">
      <text style="font-size: 12px; font-family: 'DejaVu Sans', sans-serif; text-anchor: end" x="414" y="1035.756882" transform="rotate(-0 414 1035.756882)" textLength="21.70" lengthAdjust="spacing">400</text>
     </g>
    </g>
    <g id="ytick_64">
     <g id="line2d_247">
      <path d="M 421.5 994.846729 
L 710.5 994.846729 
" clip-path="url(#pe4eb801323)" style="fill: none; stroke: #b0b0b0; stroke-width: 0.8; stroke-linecap: square"/>
     </g>
     <g id="line2d_248">
      <g>
       <path d="M 0 0 
L -3.5 0 
" transform="translate(421.5 994.846729)" style="stroke: #000000; stroke-width: 0.8"/>
      </g>
     </g>
     <g id="text_152">
      <text style="font-size: 12px; font-family: 'DejaVu Sans', sans-serif; text-anchor: end" x="414" y="999.405791" transform="rotate(-0 414 999.405791)" textLength="21.70" lengthAdjust="spacing">600</text>
     </g>
    </g>
    <g id="ytick_65">
     <g id="line2d_249">
      <path d="M 421.5 958.495638 
L 710.5 958.495638 
" clip-path="url(#pe4eb801323)" style="fill: none; stroke: #b0b0b0; stroke-width: 0.8; stroke-linecap: square"/>
     </g>
     <g id="line2d_250">
      <g>
       <path d="M 0 0 
L -3.5 0 
" transform="translate(421.5 958.495638)" style="stroke: #000000; stroke-width: 0.8"/>
      </g>
     </g>
     <g id="text_153">
      <text style="font-size: 12px; font-family: 'DejaVu Sans', sans-serif; text-anchor: end" x="414" y="963.054701" transform="rotate(-0 414 963.054701)" textLength="21.70" lengthAdjust="spacing">800</text>
     </g>
    </g>
    <g id="ytick_66">
     <g id="line2d_251">
      <path d="M 421.5 922.144548 
L 710.5 922.144548 
" clip-path="url(#pe4eb801323)" style="fill: none; stroke: #b0b0b0; stroke-width: 0.8; stroke-linecap: square"/>
     </g>
     <g id="line2d_252">
      <g>
       <path d="M 0 0 
L -3.5 0 
" transform="translate(421.5 922.144548)" style="stroke: #000000; stroke-width: 0.8"/>
      </g>
     </g>
     <g id="text_154">
      <text style="font-size: 12px; font-family: 'DejaVu Sans', sans-serif; text-anchor: end" x="414" y="926.70361" transform="rotate(-0 414 926.70361)" textLength="28.74" lengthAdjust="spacing">1000</text>
     </g>
    </g>
    <g id="ytick_67">
     <g id="line2d_253">
      <path d="M 421.5 885.793457 
L 710.5 885.793457 
" clip-path="url(#pe4eb801323)" style="fill: none; stroke: #b0b0b0; stroke-width: 0.8; stroke-linecap: square"/>
     </g>
     <g id="line2d_254">
      <g>
       <path d="M 0 0 
L -3.5 0 
" transform="translate(421.5 885.793457)" style="stroke: #000000; stroke-width: 0.8"/>
      </g>
     </g>
     <g id="text_155">
      <text style="font-size: 12px; font-family: 'DejaVu Sans', sans-serif; text-anchor: end" x="414" y="890.35252" transform="rotate(-0 414 890.35252)" textLength="28.74" lengthAdjust="spacing">1200</text>
     </g>
    </g>
    <g id="text_156">
     <text style="font-size: 15.7px; font-family: 'DejaVu Sans', sans-serif; text-anchor: middle" x="377.994891" y="980.1" transform="rotate(-90 377.994891 980.1)">Training time of medical dataset</text>
    </g>
   </g>
   <g id="patch_108">
    <path d="M 421.5 1103.9 
L 421.5 856.3 
" style="fill: none; stroke: #000000; stroke-width: 0.8; stroke-linejoin: miter; stroke-linecap: square"/>
   </g>
   <g id="patch_109">
    <path d="M 710.5 1103.9 
L 710.5 856.3 
" style="fill: none; stroke: #000000; stroke-width: 0.8; stroke-linejoin: miter; stroke-linecap: square"/>
   </g>
   <g id="patch_110">
    <path d="M 421.5 1103.9 
L 710.5 1103.9 
" style="fill: none; stroke: #000000; stroke-width: 0.8; stroke-linejoin: miter; stroke-linecap: square"/>
   </g>
   <g id="patch_111">
    <path d="M 421.5 856.3 
L 710.5 856.3 
" style="fill: none; stroke: #000000; stroke-width: 0.8; stroke-linejoin: miter; stroke-linecap: square"/>
   </g>
   <g id="text_157">
    <text style="font-size: 18.05px; font-family: 'DejaVu Sans', sans-serif; text-anchor: middle" x="566" y="850.3" transform="rotate(-0 566 850.3)">Classifier : MLTSVM</text>
   </g>
  </g>
  <g id="axes_11">
   <g id="patch_112">
    <path d="M 784.5 1103.9 
L 1074 1103.9 
L 1074 856.3 
L 784.5 856.3 
z
" style="fill: #ffffff"/>
   </g>
   <g id="patch_113">
    <path d="M 797.659091 1103.9 
L 833.960031 1103.9 
L 833.960031 868.090476 
L 797.659091 868.090476 
z
" clip-path="url(#p4f16533582)" style="fill: #0000ff"/>
   </g>
   <g id="patch_114">
    <path d="M 843.035266 1103.9 
L 879.336207 1103.9 
L 879.336207 868.090476 
L 843.035266 868.090476 
z
" clip-path="url(#p4f16533582)" style="fill: #ffa500"/>
   </g>
   <g id="patch_115">
    <path d="M 888.411442 1103.9 
L 924.712382 1103.9 
L 924.712382 868.090476 
L 888.411442 868.090476 
z
" clip-path="url(#p4f16533582)" style="fill: #008000"/>
   </g>
   <g id="patch_116">
    <path d="M 933.787618 1103.9 
L 970.088558 1103.9 
L 970.088558 868.090476 
L 933.787618 868.090476 
z
" clip-path="url(#p4f16533582)" style="fill: #ff0000"/>
   </g>
   <g id="patch_117">
    <path d="M 979.163793 1103.9 
L 1015.464734 1103.9 
L 1015.464734 868.090476 
L 979.163793 868.090476 
z
" clip-path="url(#p4f16533582)" style="fill: #800080"/>
   </g>
   <g id="patch_118">
    <path d="M 1024.539969 1103.9 
L 1060.840909 1103.9 
L 1060.840909 868.090476 
L 1024.539969 868.090476 
z
" clip-path="url(#p4f16533582)" style="fill: #a52a2a"/>
   </g>
   <g id="matplotlib.axis_21">
    <g id="xtick_61">
     <g id="line2d_255">
      <path d="M 815.809561 1103.9 
L 815.809561 856.3 
" clip-path="url(#p4f16533582)" style="fill: none; stroke: #b0b0b0; stroke-width: 0.8; stroke-linecap: square"/>
     </g>
     <g id="line2d_256">
      <g>
       <path d="M 0 0 
L 0 3.5 
" transform="translate(815.809561 1103.9)" style="stroke: #000000; stroke-width: 0.8"/>
      </g>
     </g>
     <g id="text_158">
      <text style="font-size: 13.7px; font-family: 'DejaVu Sans', sans-serif" transform="translate(799.528737 1157.168744) rotate(-45)">Original</text>
     </g>
    </g>
    <g id="xtick_62">
     <g id="line2d_257">
      <path d="M 861.185737 1103.9 
L 861.185737 856.3 
" clip-path="url(#p4f16533582)" style="fill: none; stroke: #b0b0b0; stroke-width: 0.8; stroke-linecap: square"/>
     </g>
     <g id="line2d_258">
      <g>
       <path d="M 0 0 
L 0 3.5 
" transform="translate(861.185737 1103.9)" style="stroke: #000000; stroke-width: 0.8"/>
      </g>
     </g>
     <g id="text_159">
      <text style="font-size: 13.7px; font-family: 'DejaVu Sans', sans-serif" transform="translate(843.37991 1160.21875) rotate(-45)">Top 80%</text>
     </g>
    </g>
    <g id="xtick_63">
     <g id="line2d_259">
      <path d="M 906.561912 1103.9 
L 906.561912 856.3 
" clip-path="url(#p4f16533582)" style="fill: none; stroke: #b0b0b0; stroke-width: 0.8; stroke-linecap: square"/>
     </g>
     <g id="line2d_260">
      <g>
       <path d="M 0 0 
L 0 3.5 
" transform="translate(906.561912 1103.9)" style="stroke: #000000; stroke-width: 0.8"/>
      </g>
     </g>
     <g id="text_160">
      <text style="font-size: 13.7px; font-family: 'DejaVu Sans', sans-serif" transform="translate(888.756085 1160.21875) rotate(-45)">Top 60%</text>
     </g>
    </g>
    <g id="xtick_64">
     <g id="line2d_261">
      <path d="M 951.938088 1103.9 
L 951.938088 856.3 
" clip-path="url(#p4f16533582)" style="fill: none; stroke: #b0b0b0; stroke-width: 0.8; stroke-linecap: square"/>
     </g>
     <g id="line2d_262">
      <g>
       <path d="M 0 0 
L 0 3.5 
" transform="translate(951.938088 1103.9)" style="stroke: #000000; stroke-width: 0.8"/>
      </g>
     </g>
     <g id="text_161">
      <text style="font-size: 13.7px; font-family: 'DejaVu Sans', sans-serif" transform="translate(934.132261 1160.21875) rotate(-45)">Top 50%</text>
     </g>
    </g>
    <g id="xtick_65">
     <g id="line2d_263">
      <path d="M 997.314263 1103.9 
L 997.314263 856.3 
" clip-path="url(#p4f16533582)" style="fill: none; stroke: #b0b0b0; stroke-width: 0.8; stroke-linecap: square"/>
     </g>
     <g id="line2d_264">
      <g>
       <path d="M 0 0 
L 0 3.5 
" transform="translate(997.314263 1103.9)" style="stroke: #000000; stroke-width: 0.8"/>
      </g>
     </g>
     <g id="text_162">
      <text style="font-size: 13.7px; font-family: 'DejaVu Sans', sans-serif" transform="translate(979.508436 1160.21875) rotate(-45)">Top 40%</text>
     </g>
    </g>
    <g id="xtick_66">
     <g id="line2d_265">
      <path d="M 1042.690439 1103.9 
L 1042.690439 856.3 
" clip-path="url(#p4f16533582)" style="fill: none; stroke: #b0b0b0; stroke-width: 0.8; stroke-linecap: square"/>
     </g>
     <g id="line2d_266">
      <g>
       <path d="M 0 0 
L 0 3.5 
" transform="translate(1042.690439 1103.9)" style="stroke: #000000; stroke-width: 0.8"/>
      </g>
     </g>
     <g id="text_163">
      <text style="font-size: 13.7px; font-family: 'DejaVu Sans', sans-serif" transform="translate(1024.884612 1160.21875) rotate(-45)">Top 20%</text>
     </g>
    </g>
    <g id="text_164">
     <text style="font-size: 15.7px; font-family: 'DejaVu Sans', sans-serif; text-anchor: middle" x="929.25" y="1178.162965" transform="rotate(-0 929.25 1178.162965)">Selected Features of medical dataset</text>
    </g>
   </g>
   <g id="matplotlib.axis_22">
    <g id="ytick_68">
     <g id="line2d_267">
      <path d="M 784.5 1103.9 
L 1074 1103.9 
" clip-path="url(#p4f16533582)" style="fill: none; stroke: #b0b0b0; stroke-width: 0.8; stroke-linecap: square"/>
     </g>
     <g id="line2d_268">
      <g>
       <path d="M 0 0 
L -3.5 0 
" transform="translate(784.5 1103.9)" style="stroke: #000000; stroke-width: 0.8"/>
      </g>
     </g>
     <g id="text_165">
      <text style="font-size: 12px; font-family: 'DejaVu Sans', sans-serif; text-anchor: end" x="777" y="1108.459063" transform="rotate(-0 777 1108.459063)" textLength="24.92" lengthAdjust="spacing">0.00</text>
     </g>
    </g>
    <g id="ytick_69">
     <g id="line2d_269">
      <path d="M 784.5 1074.42381 
L 1074 1074.42381 
" clip-path="url(#p4f16533582)" style="fill: none; stroke: #b0b0b0; stroke-width: 0.8; stroke-linecap: square"/>
     </g>
     <g id="line2d_270">
      <g>
       <path d="M 0 0 
L -3.5 0 
" transform="translate(784.5 1074.42381)" style="stroke: #000000; stroke-width: 0.8"/>
      </g>
     </g>
     <g id="text_166">
      <text style="font-size: 12px; font-family: 'DejaVu Sans', sans-serif; text-anchor: end" x="777" y="1078.982872" transform="rotate(-0 777 1078.982872)" textLength="24.92" lengthAdjust="spacing">0.25</text>
     </g>
    </g>
    <g id="ytick_70">
     <g id="line2d_271">
      <path d="M 784.5 1044.947619 
L 1074 1044.947619 
" clip-path="url(#p4f16533582)" style="fill: none; stroke: #b0b0b0; stroke-width: 0.8; stroke-linecap: square"/>
     </g>
     <g id="line2d_272">
      <g>
       <path d="M 0 0 
L -3.5 0 
" transform="translate(784.5 1044.947619)" style="stroke: #000000; stroke-width: 0.8"/>
      </g>
     </g>
     <g id="text_167">
      <text style="font-size: 12px; font-family: 'DejaVu Sans', sans-serif; text-anchor: end" x="777" y="1049.506682" transform="rotate(-0 777 1049.506682)" textLength="24.92" lengthAdjust="spacing">0.50</text>
     </g>
    </g>
    <g id="ytick_71">
     <g id="line2d_273">
      <path d="M 784.5 1015.471429 
L 1074 1015.471429 
" clip-path="url(#p4f16533582)" style="fill: none; stroke: #b0b0b0; stroke-width: 0.8; stroke-linecap: square"/>
     </g>
     <g id="line2d_274">
      <g>
       <path d="M 0 0 
L -3.5 0 
" transform="translate(784.5 1015.471429)" style="stroke: #000000; stroke-width: 0.8"/>
      </g>
     </g>
     <g id="text_168">
      <text style="font-size: 12px; font-family: 'DejaVu Sans', sans-serif; text-anchor: end" x="777" y="1020.030491" transform="rotate(-0 777 1020.030491)" textLength="24.92" lengthAdjust="spacing">0.75</text>
     </g>
    </g>
    <g id="ytick_72">
     <g id="line2d_275">
      <path d="M 784.5 985.995238 
L 1074 985.995238 
" clip-path="url(#p4f16533582)" style="fill: none; stroke: #b0b0b0; stroke-width: 0.8; stroke-linecap: square"/>
     </g>
     <g id="line2d_276">
      <g>
       <path d="M 0 0 
L -3.5 0 
" transform="translate(784.5 985.995238)" style="stroke: #000000; stroke-width: 0.8"/>
      </g>
     </g>
     <g id="text_169">
      <text style="font-size: 12px; font-family: 'DejaVu Sans', sans-serif; text-anchor: end" x="777" y="990.554301" transform="rotate(-0 777 990.554301)" textLength="24.92" lengthAdjust="spacing">1.00</text>
     </g>
    </g>
    <g id="ytick_73">
     <g id="line2d_277">
      <path d="M 784.5 956.519048 
L 1074 956.519048 
" clip-path="url(#p4f16533582)" style="fill: none; stroke: #b0b0b0; stroke-width: 0.8; stroke-linecap: square"/>
     </g>
     <g id="line2d_278">
      <g>
       <path d="M 0 0 
L -3.5 0 
" transform="translate(784.5 956.519048)" style="stroke: #000000; stroke-width: 0.8"/>
      </g>
     </g>
     <g id="text_170">
      <text style="font-size: 12px; font-family: 'DejaVu Sans', sans-serif; text-anchor: end" x="777" y="961.07811" transform="rotate(-0 777 961.07811)" textLength="24.92" lengthAdjust="spacing">1.25</text>
     </g>
    </g>
    <g id="ytick_74">
     <g id="line2d_279">
      <path d="M 784.5 927.042857 
L 1074 927.042857 
" clip-path="url(#p4f16533582)" style="fill: none; stroke: #b0b0b0; stroke-width: 0.8; stroke-linecap: square"/>
     </g>
     <g id="line2d_280">
      <g>
       <path d="M 0 0 
L -3.5 0 
" transform="translate(784.5 927.042857)" style="stroke: #000000; stroke-width: 0.8"/>
      </g>
     </g>
     <g id="text_171">
      <text style="font-size: 12px; font-family: 'DejaVu Sans', sans-serif; text-anchor: end" x="777" y="931.60192" transform="rotate(-0 777 931.60192)" textLength="24.92" lengthAdjust="spacing">1.50</text>
     </g>
    </g>
    <g id="ytick_75">
     <g id="line2d_281">
      <path d="M 784.5 897.566667 
L 1074 897.566667 
" clip-path="url(#p4f16533582)" style="fill: none; stroke: #b0b0b0; stroke-width: 0.8; stroke-linecap: square"/>
     </g>
     <g id="line2d_282">
      <g>
       <path d="M 0 0 
L -3.5 0 
" transform="translate(784.5 897.566667)" style="stroke: #000000; stroke-width: 0.8"/>
      </g>
     </g>
     <g id="text_172">
      <text style="font-size: 12px; font-family: 'DejaVu Sans', sans-serif; text-anchor: end" x="777" y="902.125729" transform="rotate(-0 777 902.125729)" textLength="24.92" lengthAdjust="spacing">1.75</text>
     </g>
    </g>
    <g id="ytick_76">
     <g id="line2d_283">
      <path d="M 784.5 868.090476 
L 1074 868.090476 
" clip-path="url(#p4f16533582)" style="fill: none; stroke: #b0b0b0; stroke-width: 0.8; stroke-linecap: square"/>
     </g>
     <g id="line2d_284">
      <g>
       <path d="M 0 0 
L -3.5 0 
" transform="translate(784.5 868.090476)" style="stroke: #000000; stroke-width: 0.8"/>
      </g>
     </g>
     <g id="text_173">
      <text style="font-size: 12px; font-family: 'DejaVu Sans', sans-serif; text-anchor: end" x="777" y="872.649539" transform="rotate(-0 777 872.649539)" textLength="24.92" lengthAdjust="spacing">2.00</text>
     </g>
    </g>
    <g id="text_174">
     <text style="font-size: 15.7px; font-family: 'DejaVu Sans', sans-serif; text-anchor: middle" x="744.816141" y="980.1" transform="rotate(-90 744.816141 980.1)">Training time of medical dataset</text>
    </g>
   </g>
   <g id="patch_119">
    <path d="M 784.5 1103.9 
L 784.5 856.3 
" style="fill: none; stroke: #000000; stroke-width: 0.8; stroke-linejoin: miter; stroke-linecap: square"/>
   </g>
   <g id="patch_120">
    <path d="M 1074 1103.9 
L 1074 856.3 
" style="fill: none; stroke: #000000; stroke-width: 0.8; stroke-linejoin: miter; stroke-linecap: square"/>
   </g>
   <g id="patch_121">
    <path d="M 784.5 1103.9 
L 1074 1103.9 
" style="fill: none; stroke: #000000; stroke-width: 0.8; stroke-linejoin: miter; stroke-linecap: square"/>
   </g>
   <g id="patch_122">
    <path d="M 784.5 856.3 
L 1074 856.3 
" style="fill: none; stroke: #000000; stroke-width: 0.8; stroke-linejoin: miter; stroke-linecap: square"/>
   </g>
   <g id="text_175">
    <text style="font-size: 18.05px; font-family: 'DejaVu Sans', sans-serif; text-anchor: middle" x="929.25" y="850.3" transform="rotate(-0 929.25 850.3)">Classifier : BRKNNa</text>
   </g>
  </g>
  <g id="axes_12">
   <g id="patch_123">
    <path d="M 1147.5 1103.9 
L 1437 1103.9 
L 1437 856.3 
L 1147.5 856.3 
z
" style="fill: #ffffff"/>
   </g>
   <g id="patch_124">
    <path d="M 1160.659091 1103.9 
L 1196.960031 1103.9 
L 1196.960031 907.392063 
L 1160.659091 907.392063 
z
" clip-path="url(#p056c0e5ac6)" style="fill: #0000ff"/>
   </g>
   <g id="patch_125">
    <path d="M 1206.035266 1103.9 
L 1242.336207 1103.9 
L 1242.336207 868.090476 
L 1206.035266 868.090476 
z
" clip-path="url(#p056c0e5ac6)" style="fill: #ffa500"/>
   </g>
   <g id="patch_126">
    <path d="M 1251.411442 1103.9 
L 1287.712382 1103.9 
L 1287.712382 907.392063 
L 1251.411442 907.392063 
z
" clip-path="url(#p056c0e5ac6)" style="fill: #008000"/>
   </g>
   <g id="patch_127">
    <path d="M 1296.787618 1103.9 
L 1333.088558 1103.9 
L 1333.088558 907.392063 
L 1296.787618 907.392063 
z
" clip-path="url(#p056c0e5ac6)" style="fill: #ff0000"/>
   </g>
   <g id="patch_128">
    <path d="M 1342.163793 1103.9 
L 1378.464734 1103.9 
L 1378.464734 907.392063 
L 1342.163793 907.392063 
z
" clip-path="url(#p056c0e5ac6)" style="fill: #800080"/>
   </g>
   <g id="patch_129">
    <path d="M 1387.539969 1103.9 
L 1423.840909 1103.9 
L 1423.840909 907.392063 
L 1387.539969 907.392063 
z
" clip-path="url(#p056c0e5ac6)" style="fill: #a52a2a"/>
   </g>
   <g id="matplotlib.axis_23">
    <g id="xtick_67">
     <g id="line2d_285">
      <path d="M 1178.809561 1103.9 
L 1178.809561 856.3 
" clip-path="url(#p056c0e5ac6)" style="fill: none; stroke: #b0b0b0; stroke-width: 0.8; stroke-linecap: square"/>
     </g>
     <g id="line2d_286">
      <g>
       <path d="M 0 0 
L 0 3.5 
" transform="translate(1178.809561 1103.9)" style="stroke: #000000; stroke-width: 0.8"/>
      </g>
     </g>
     <g id="text_176">
      <text style="font-size: 13.7px; font-family: 'DejaVu Sans', sans-serif" transform="translate(1162.528737 1157.168744) rotate(-45)">Original</text>
     </g>
    </g>
    <g id="xtick_68">
     <g id="line2d_287">
      <path d="M 1224.185737 1103.9 
L 1224.185737 856.3 
" clip-path="url(#p056c0e5ac6)" style="fill: none; stroke: #b0b0b0; stroke-width: 0.8; stroke-linecap: square"/>
     </g>
     <g id="line2d_288">
      <g>
       <path d="M 0 0 
L 0 3.5 
" transform="translate(1224.185737 1103.9)" style="stroke: #000000; stroke-width: 0.8"/>
      </g>
     </g>
     <g id="text_177">
      <text style="font-size: 13.7px; font-family: 'DejaVu Sans', sans-serif" transform="translate(1206.37991 1160.21875) rotate(-45)">Top 80%</text>
     </g>
    </g>
    <g id="xtick_69">
     <g id="line2d_289">
      <path d="M 1269.561912 1103.9 
L 1269.561912 856.3 
" clip-path="url(#p056c0e5ac6)" style="fill: none; stroke: #b0b0b0; stroke-width: 0.8; stroke-linecap: square"/>
     </g>
     <g id="line2d_290">
      <g>
       <path d="M 0 0 
L 0 3.5 
" transform="translate(1269.561912 1103.9)" style="stroke: #000000; stroke-width: 0.8"/>
      </g>
     </g>
     <g id="text_178">
      <text style="font-size: 13.7px; font-family: 'DejaVu Sans', sans-serif" transform="translate(1251.756085 1160.21875) rotate(-45)">Top 60%</text>
     </g>
    </g>
    <g id="xtick_70">
     <g id="line2d_291">
      <path d="M 1314.938088 1103.9 
L 1314.938088 856.3 
" clip-path="url(#p056c0e5ac6)" style="fill: none; stroke: #b0b0b0; stroke-width: 0.8; stroke-linecap: square"/>
     </g>
     <g id="line2d_292">
      <g>
       <path d="M 0 0 
L 0 3.5 
" transform="translate(1314.938088 1103.9)" style="stroke: #000000; stroke-width: 0.8"/>
      </g>
     </g>
     <g id="text_179">
      <text style="font-size: 13.7px; font-family: 'DejaVu Sans', sans-serif" transform="translate(1297.132261 1160.21875) rotate(-45)">Top 50%</text>
     </g>
    </g>
    <g id="xtick_71">
     <g id="line2d_293">
      <path d="M 1360.314263 1103.9 
L 1360.314263 856.3 
" clip-path="url(#p056c0e5ac6)" style="fill: none; stroke: #b0b0b0; stroke-width: 0.8; stroke-linecap: square"/>
     </g>
     <g id="line2d_294">
      <g>
       <path d="M 0 0 
L 0 3.5 
" transform="translate(1360.314263 1103.9)" style="stroke: #000000; stroke-width: 0.8"/>
      </g>
     </g>
     <g id="text_180">
      <text style="font-size: 13.7px; font-family: 'DejaVu Sans', sans-serif" transform="translate(1342.508436 1160.21875) rotate(-45)">Top 40%</text>
     </g>
    </g>
    <g id="xtick_72">
     <g id="line2d_295">
      <path d="M 1405.690439 1103.9 
L 1405.690439 856.3 
" clip-path="url(#p056c0e5ac6)" style="fill: none; stroke: #b0b0b0; stroke-width: 0.8; stroke-linecap: square"/>
     </g>
     <g id="line2d_296">
      <g>
       <path d="M 0 0 
L 0 3.5 
" transform="translate(1405.690439 1103.9)" style="stroke: #000000; stroke-width: 0.8"/>
      </g>
     </g>
     <g id="text_181">
      <text style="font-size: 13.7px; font-family: 'DejaVu Sans', sans-serif" transform="translate(1387.884612 1160.21875) rotate(-45)">Top 20%</text>
     </g>
    </g>
    <g id="text_182">
     <text style="font-size: 15.7px; font-family: 'DejaVu Sans', sans-serif; text-anchor: middle" x="1292.25" y="1178.162965" transform="rotate(-0 1292.25 1178.162965)">Selected Features of medical dataset</text>
    </g>
   </g>
   <g id="matplotlib.axis_24">
    <g id="ytick_77">
     <g id="line2d_297">
      <path d="M 1147.5 1103.9 
L 1437 1103.9 
" clip-path="url(#p056c0e5ac6)" style="fill: none; stroke: #b0b0b0; stroke-width: 0.8; stroke-linecap: square"/>
     </g>
     <g id="line2d_298">
      <g>
       <path d="M 0 0 
L -3.5 0 
" transform="translate(1147.5 1103.9)" style="stroke: #000000; stroke-width: 0.8"/>
      </g>
     </g>
     <g id="text_183">
      <text style="font-size: 12px; font-family: 'DejaVu Sans', sans-serif; text-anchor: end" x="1140" y="1108.459063" transform="rotate(-0 1140 1108.459063)">0</text>
     </g>
    </g>
    <g id="ytick_78">
     <g id="line2d_299">
      <path d="M 1147.5 1064.598413 
L 1437 1064.598413 
" clip-path="url(#p056c0e5ac6)" style="fill: none; stroke: #b0b0b0; stroke-width: 0.8; stroke-linecap: square"/>
     </g>
     <g id="line2d_300">
      <g>
       <path d="M 0 0 
L -3.5 0 
" transform="translate(1147.5 1064.598413)" style="stroke: #000000; stroke-width: 0.8"/>
      </g>
     </g>
     <g id="text_184">
      <text style="font-size: 12px; font-family: 'DejaVu Sans', sans-serif; text-anchor: end" x="1140" y="1069.157475" transform="rotate(-0 1140 1069.157475)">1</text>
     </g>
    </g>
    <g id="ytick_79">
     <g id="line2d_301">
      <path d="M 1147.5 1025.296825 
L 1437 1025.296825 
" clip-path="url(#p056c0e5ac6)" style="fill: none; stroke: #b0b0b0; stroke-width: 0.8; stroke-linecap: square"/>
     </g>
     <g id="line2d_302">
      <g>
       <path d="M 0 0 
L -3.5 0 
" transform="translate(1147.5 1025.296825)" style="stroke: #000000; stroke-width: 0.8"/>
      </g>
     </g>
     <g id="text_185">
      <text style="font-size: 12px; font-family: 'DejaVu Sans', sans-serif; text-anchor: end" x="1140" y="1029.855888" transform="rotate(-0 1140 1029.855888)">2</text>
     </g>
    </g>
    <g id="ytick_80">
     <g id="line2d_303">
      <path d="M 1147.5 985.995238 
L 1437 985.995238 
" clip-path="url(#p056c0e5ac6)" style="fill: none; stroke: #b0b0b0; stroke-width: 0.8; stroke-linecap: square"/>
     </g>
     <g id="line2d_304">
      <g>
       <path d="M 0 0 
L -3.5 0 
" transform="translate(1147.5 985.995238)" style="stroke: #000000; stroke-width: 0.8"/>
      </g>
     </g>
     <g id="text_186">
      <text style="font-size: 12px; font-family: 'DejaVu Sans', sans-serif; text-anchor: end" x="1140" y="990.554301" transform="rotate(-0 1140 990.554301)">3</text>
     </g>
    </g>
    <g id="ytick_81">
     <g id="line2d_305">
      <path d="M 1147.5 946.693651 
L 1437 946.693651 
" clip-path="url(#p056c0e5ac6)" style="fill: none; stroke: #b0b0b0; stroke-width: 0.8; stroke-linecap: square"/>
     </g>
     <g id="line2d_306">
      <g>
       <path d="M 0 0 
L -3.5 0 
" transform="translate(1147.5 946.693651)" style="stroke: #000000; stroke-width: 0.8"/>
      </g>
     </g>
     <g id="text_187">
      <text style="font-size: 12px; font-family: 'DejaVu Sans', sans-serif; text-anchor: end" x="1140" y="951.252713" transform="rotate(-0 1140 951.252713)">4</text>
     </g>
    </g>
    <g id="ytick_82">
     <g id="line2d_307">
      <path d="M 1147.5 907.392063 
L 1437 907.392063 
" clip-path="url(#p056c0e5ac6)" style="fill: none; stroke: #b0b0b0; stroke-width: 0.8; stroke-linecap: square"/>
     </g>
     <g id="line2d_308">
      <g>
       <path d="M 0 0 
L -3.5 0 
" transform="translate(1147.5 907.392063)" style="stroke: #000000; stroke-width: 0.8"/>
      </g>
     </g>
     <g id="text_188">
      <text style="font-size: 12px; font-family: 'DejaVu Sans', sans-serif; text-anchor: end" x="1140" y="911.951126" transform="rotate(-0 1140 911.951126)">5</text>
     </g>
    </g>
    <g id="ytick_83">
     <g id="line2d_309">
      <path d="M 1147.5 868.090476 
L 1437 868.090476 
" clip-path="url(#p056c0e5ac6)" style="fill: none; stroke: #b0b0b0; stroke-width: 0.8; stroke-linecap: square"/>
     </g>
     <g id="line2d_310">
      <g>
       <path d="M 0 0 
L -3.5 0 
" transform="translate(1147.5 868.090476)" style="stroke: #000000; stroke-width: 0.8"/>
      </g>
     </g>
     <g id="text_189">
      <text style="font-size: 12px; font-family: 'DejaVu Sans', sans-serif; text-anchor: end" x="1140" y="872.649539" transform="rotate(-0 1140 872.649539)">6</text>
     </g>
    </g>
    <g id="text_190">
     <text style="font-size: 15.7px; font-family: 'DejaVu Sans', sans-serif; text-anchor: middle" x="1125.099891" y="980.1" transform="rotate(-90 1125.099891 980.1)">Training time of medical dataset</text>
    </g>
   </g>
   <g id="patch_130">
    <path d="M 1147.5 1103.9 
L 1147.5 856.3 
" style="fill: none; stroke: #000000; stroke-width: 0.8; stroke-linejoin: miter; stroke-linecap: square"/>
   </g>
   <g id="patch_131">
    <path d="M 1437 1103.9 
L 1437 856.3 
" style="fill: none; stroke: #000000; stroke-width: 0.8; stroke-linejoin: miter; stroke-linecap: square"/>
   </g>
   <g id="patch_132">
    <path d="M 1147.5 1103.9 
L 1437 1103.9 
" style="fill: none; stroke: #000000; stroke-width: 0.8; stroke-linejoin: miter; stroke-linecap: square"/>
   </g>
   <g id="patch_133">
    <path d="M 1147.5 856.3 
L 1437 856.3 
" style="fill: none; stroke: #000000; stroke-width: 0.8; stroke-linejoin: miter; stroke-linecap: square"/>
   </g>
   <g id="text_191">
    <text style="font-size: 18.05px; font-family: 'DejaVu Sans', sans-serif; text-anchor: middle" x="1292.25" y="850.3" transform="rotate(-0 1292.25 850.3)">Classifier : BR</text>
   </g>
  </g>
  <g id="axes_13">
   <g id="patch_134">
    <path d="M 57.6 1461.4 
L 346.9 1461.4 
L 346.9 1213.5 
L 57.6 1213.5 
z
" style="fill: #ffffff"/>
   </g>
   <g id="patch_135">
    <path d="M 70.75 1461.4 
L 107.025862 1461.4 
L 107.025862 1225.304762 
L 70.75 1225.304762 
z
" clip-path="url(#pebd58f57df)" style="fill: #0000ff"/>
   </g>
   <g id="patch_136">
    <path d="M 116.094828 1461.4 
L 152.37069 1461.4 
L 152.37069 1225.304762 
L 116.094828 1225.304762 
z
" clip-path="url(#pebd58f57df)" style="fill: #ffa500"/>
   </g>
   <g id="patch_137">
    <path d="M 161.439655 1461.4 
L 197.715517 1461.4 
L 197.715517 1225.304762 
L 161.439655 1225.304762 
z
" clip-path="url(#pebd58f57df)" style="fill: #008000"/>
   </g>
   <g id="patch_138">
    <path d="M 206.784483 1461.4 
L 243.060345 1461.4 
L 243.060345 1225.304762 
L 206.784483 1225.304762 
z
" clip-path="url(#pebd58f57df)" style="fill: #ff0000"/>
   </g>
   <g id="patch_139">
    <path d="M 252.12931 1461.4 
L 288.405172 1461.4 
L 288.405172 1272.52381 
L 252.12931 1272.52381 
z
" clip-path="url(#pebd58f57df)" style="fill: #800080"/>
   </g>
   <g id="patch_140">
    <path d="M 297.474138 1461.4 
L 333.75 1461.4 
L 333.75 1272.52381 
L 297.474138 1272.52381 
z
" clip-path="url(#pebd58f57df)" style="fill: #a52a2a"/>
   </g>
   <g id="matplotlib.axis_25">
    <g id="xtick_73">
     <g id="line2d_311">
      <path d="M 88.887931 1461.4 
L 88.887931 1213.5 
" clip-path="url(#pebd58f57df)" style="fill: none; stroke: #b0b0b0; stroke-width: 0.8; stroke-linecap: square"/>
     </g>
     <g id="line2d_312">
      <g>
       <path d="M 0 0 
L 0 3.5 
" transform="translate(88.887931 1461.4)" style="stroke: #000000; stroke-width: 0.8"/>
      </g>
     </g>
     <g id="text_192">
      <text style="font-size: 13.7px; font-family: 'DejaVu Sans', sans-serif" transform="translate(72.607107 1514.668744) rotate(-45)">Original</text>
     </g>
    </g>
    <g id="xtick_74">
     <g id="line2d_313">
      <path d="M 134.232759 1461.4 
L 134.232759 1213.5 
" clip-path="url(#pebd58f57df)" style="fill: none; stroke: #b0b0b0; stroke-width: 0.8; stroke-linecap: square"/>
     </g>
     <g id="line2d_314">
      <g>
       <path d="M 0 0 
L 0 3.5 
" transform="translate(134.232759 1461.4)" style="stroke: #000000; stroke-width: 0.8"/>
      </g>
     </g>
     <g id="text_193">
      <text style="font-size: 13.7px; font-family: 'DejaVu Sans', sans-serif" transform="translate(116.426932 1517.71875) rotate(-45)">Top 80%</text>
     </g>
    </g>
    <g id="xtick_75">
     <g id="line2d_315">
      <path d="M 179.577586 1461.4 
L 179.577586 1213.5 
" clip-path="url(#pebd58f57df)" style="fill: none; stroke: #b0b0b0; stroke-width: 0.8; stroke-linecap: square"/>
     </g>
     <g id="line2d_316">
      <g>
       <path d="M 0 0 
L 0 3.5 
" transform="translate(179.577586 1461.4)" style="stroke: #000000; stroke-width: 0.8"/>
      </g>
     </g>
     <g id="text_194">
      <text style="font-size: 13.7px; font-family: 'DejaVu Sans', sans-serif" transform="translate(161.771759 1517.71875) rotate(-45)">Top 60%</text>
     </g>
    </g>
    <g id="xtick_76">
     <g id="line2d_317">
      <path d="M 224.922414 1461.4 
L 224.922414 1213.5 
" clip-path="url(#pebd58f57df)" style="fill: none; stroke: #b0b0b0; stroke-width: 0.8; stroke-linecap: square"/>
     </g>
     <g id="line2d_318">
      <g>
       <path d="M 0 0 
L 0 3.5 
" transform="translate(224.922414 1461.4)" style="stroke: #000000; stroke-width: 0.8"/>
      </g>
     </g>
     <g id="text_195">
      <text style="font-size: 13.7px; font-family: 'DejaVu Sans', sans-serif" transform="translate(207.116587 1517.71875) rotate(-45)">Top 50%</text>
     </g>
    </g>
    <g id="xtick_77">
     <g id="line2d_319">
      <path d="M 270.267241 1461.4 
L 270.267241 1213.5 
" clip-path="url(#pebd58f57df)" style="fill: none; stroke: #b0b0b0; stroke-width: 0.8; stroke-linecap: square"/>
     </g>
     <g id="line2d_320">
      <g>
       <path d="M 0 0 
L 0 3.5 
" transform="translate(270.267241 1461.4)" style="stroke: #000000; stroke-width: 0.8"/>
      </g>
     </g>
     <g id="text_196">
      <text style="font-size: 13.7px; font-family: 'DejaVu Sans', sans-serif" transform="translate(252.461414 1517.71875) rotate(-45)">Top 40%</text>
     </g>
    </g>
    <g id="xtick_78">
     <g id="line2d_321">
      <path d="M 315.612069 1461.4 
L 315.612069 1213.5 
" clip-path="url(#pebd58f57df)" style="fill: none; stroke: #b0b0b0; stroke-width: 0.8; stroke-linecap: square"/>
     </g>
     <g id="line2d_322">
      <g>
       <path d="M 0 0 
L 0 3.5 
" transform="translate(315.612069 1461.4)" style="stroke: #000000; stroke-width: 0.8"/>
      </g>
     </g>
     <g id="text_197">
      <text style="font-size: 13.7px; font-family: 'DejaVu Sans', sans-serif" transform="translate(297.806242 1517.71875) rotate(-45)">Top 20%</text>
     </g>
    </g>
    <g id="text_198">
     <text style="font-size: 15.7px; font-family: 'DejaVu Sans', sans-serif; text-anchor: middle" x="202.25" y="1535.662965" transform="rotate(-0 202.25 1535.662965)">Selected Features of medical dataset</text>
    </g>
   </g>
   <g id="matplotlib.axis_26">
    <g id="ytick_84">
     <g id="line2d_323">
      <path d="M 57.6 1461.4 
L 346.9 1461.4 
" clip-path="url(#pebd58f57df)" style="fill: none; stroke: #b0b0b0; stroke-width: 0.8; stroke-linecap: square"/>
     </g>
     <g id="line2d_324">
      <g>
       <path d="M 0 0 
L -3.5 0 
" transform="translate(57.6 1461.4)" style="stroke: #000000; stroke-width: 0.8"/>
      </g>
     </g>
     <g id="text_199">
      <text style="font-size: 12px; font-family: 'DejaVu Sans', sans-serif; text-anchor: end" x="50.1" y="1465.959063" transform="rotate(-0 50.1 1465.959063)">0</text>
     </g>
    </g>
    <g id="ytick_85">
     <g id="line2d_325">
      <path d="M 57.6 1414.180952 
L 346.9 1414.180952 
" clip-path="url(#pebd58f57df)" style="fill: none; stroke: #b0b0b0; stroke-width: 0.8; stroke-linecap: square"/>
     </g>
     <g id="line2d_326">
      <g>
       <path d="M 0 0 
L -3.5 0 
" transform="translate(57.6 1414.180952)" style="stroke: #000000; stroke-width: 0.8"/>
      </g>
     </g>
     <g id="text_200">
      <text style="font-size: 12px; font-family: 'DejaVu Sans', sans-serif; text-anchor: end" x="50.1" y="1418.740015" transform="rotate(-0 50.1 1418.740015)">1</text>
     </g>
    </g>
    <g id="ytick_86">
     <g id="line2d_327">
      <path d="M 57.6 1366.961905 
L 346.9 1366.961905 
" clip-path="url(#pebd58f57df)" style="fill: none; stroke: #b0b0b0; stroke-width: 0.8; stroke-linecap: square"/>
     </g>
     <g id="line2d_328">
      <g>
       <path d="M 0 0 
L -3.5 0 
" transform="translate(57.6 1366.961905)" style="stroke: #000000; stroke-width: 0.8"/>
      </g>
     </g>
     <g id="text_201">
      <text style="font-size: 12px; font-family: 'DejaVu Sans', sans-serif; text-anchor: end" x="50.1" y="1371.520967" transform="rotate(-0 50.1 1371.520967)">2</text>
     </g>
    </g>
    <g id="ytick_87">
     <g id="line2d_329">
      <path d="M 57.6 1319.742857 
L 346.9 1319.742857 
" clip-path="url(#pebd58f57df)" style="fill: none; stroke: #b0b0b0; stroke-width: 0.8; stroke-linecap: square"/>
     </g>
     <g id="line2d_330">
      <g>
       <path d="M 0 0 
L -3.5 0 
" transform="translate(57.6 1319.742857)" style="stroke: #000000; stroke-width: 0.8"/>
      </g>
     </g>
     <g id="text_202">
      <text style="font-size: 12px; font-family: 'DejaVu Sans', sans-serif; text-anchor: end" x="50.1" y="1324.30192" transform="rotate(-0 50.1 1324.30192)">3</text>
     </g>
    </g>
    <g id="ytick_88">
     <g id="line2d_331">
      <path d="M 57.6 1272.52381 
L 346.9 1272.52381 
" clip-path="url(#pebd58f57df)" style="fill: none; stroke: #b0b0b0; stroke-width: 0.8; stroke-linecap: square"/>
     </g>
     <g id="line2d_332">
      <g>
       <path d="M 0 0 
L -3.5 0 
" transform="translate(57.6 1272.52381)" style="stroke: #000000; stroke-width: 0.8"/>
      </g>
     </g>
     <g id="text_203">
      <text style="font-size: 12px; font-family: 'DejaVu Sans', sans-serif; text-anchor: end" x="50.1" y="1277.082872" transform="rotate(-0 50.1 1277.082872)">4</text>
     </g>
    </g>
    <g id="ytick_89">
     <g id="line2d_333">
      <path d="M 57.6 1225.304762 
L 346.9 1225.304762 
" clip-path="url(#pebd58f57df)" style="fill: none; stroke: #b0b0b0; stroke-width: 0.8; stroke-linecap: square"/>
     </g>
     <g id="line2d_334">
      <g>
       <path d="M 0 0 
L -3.5 0 
" transform="translate(57.6 1225.304762)" style="stroke: #000000; stroke-width: 0.8"/>
      </g>
     </g>
     <g id="text_204">
      <text style="font-size: 12px; font-family: 'DejaVu Sans', sans-serif; text-anchor: end" x="50.1" y="1229.863824" transform="rotate(-0 50.1 1229.863824)">5</text>
     </g>
    </g>
    <g id="text_205">
     <text style="font-size: 15.7px; font-family: 'DejaVu Sans', sans-serif; text-anchor: middle" x="35.199891" y="1337.45" transform="rotate(-90 35.199891 1337.45)">Training time of medical dataset</text>
    </g>
   </g>
   <g id="patch_141">
    <path d="M 57.6 1461.4 
L 57.6 1213.5 
" style="fill: none; stroke: #000000; stroke-width: 0.8; stroke-linejoin: miter; stroke-linecap: square"/>
   </g>
   <g id="patch_142">
    <path d="M 346.9 1461.4 
L 346.9 1213.5 
" style="fill: none; stroke: #000000; stroke-width: 0.8; stroke-linejoin: miter; stroke-linecap: square"/>
   </g>
   <g id="patch_143">
    <path d="M 57.6 1461.4 
L 346.9 1461.4 
" style="fill: none; stroke: #000000; stroke-width: 0.8; stroke-linejoin: miter; stroke-linecap: square"/>
   </g>
   <g id="patch_144">
    <path d="M 57.6 1213.5 
L 346.9 1213.5 
" style="fill: none; stroke: #000000; stroke-width: 0.8; stroke-linejoin: miter; stroke-linecap: square"/>
   </g>
   <g id="text_206">
    <text style="font-size: 18.05px; font-family: 'DejaVu Sans', sans-serif; text-anchor: middle" x="202.25" y="1207.5" transform="rotate(-0 202.25 1207.5)">Classifier : CC</text>
   </g>
  </g>
  <g id="axes_14">
   <g id="patch_145">
    <path d="M 421.5 1461.4 
L 710.5 1461.4 
L 710.5 1213.5 
L 421.5 1213.5 
z
" style="fill: #ffffff"/>
   </g>
   <g id="patch_146">
    <path d="M 434.636364 1337.45 
L 470.874608 1337.45 
L 470.874608 1337.45 
L 434.636364 1337.45 
z
" clip-path="url(#p08f7154b19)" style="fill: #0000ff"/>
   </g>
   <g id="patch_147">
    <path d="M 479.934169 1337.45 
L 516.172414 1337.45 
L 516.172414 1337.45 
L 479.934169 1337.45 
z
" clip-path="url(#p08f7154b19)" style="fill: #ffa500"/>
   </g>
   <g id="patch_148">
    <path d="M 525.231975 1337.45 
L 561.470219 1337.45 
L 561.470219 1337.45 
L 525.231975 1337.45 
z
" clip-path="url(#p08f7154b19)" style="fill: #008000"/>
   </g>
   <g id="patch_149">
    <path d="M 570.529781 1337.45 
L 606.768025 1337.45 
L 606.768025 1337.45 
L 570.529781 1337.45 
z
" clip-path="url(#p08f7154b19)" style="fill: #ff0000"/>
   </g>
   <g id="patch_150">
    <path d="M 615.827586 1337.45 
L 652.065831 1337.45 
L 652.065831 1337.45 
L 615.827586 1337.45 
z
" clip-path="url(#p08f7154b19)" style="fill: #800080"/>
   </g>
   <g id="patch_151">
    <path d="M 661.125392 1337.45 
L 697.363636 1337.45 
L 697.363636 1337.45 
L 661.125392 1337.45 
z
" clip-path="url(#p08f7154b19)" style="fill: #a52a2a"/>
   </g>
   <g id="matplotlib.axis_27">
    <g id="xtick_79">
     <g id="line2d_335">
      <path d="M 452.755486 1461.4 
L 452.755486 1213.5 
" clip-path="url(#p08f7154b19)" style="fill: none; stroke: #b0b0b0; stroke-width: 0.8; stroke-linecap: square"/>
     </g>
     <g id="line2d_336">
      <g>
       <path d="M 0 0 
L 0 3.5 
" transform="translate(452.755486 1461.4)" style="stroke: #000000; stroke-width: 0.8"/>
      </g>
     </g>
     <g id="text_207">
      <text style="font-size: 13.7px; font-family: 'DejaVu Sans', sans-serif" transform="translate(436.474662 1514.668744) rotate(-45)">Original</text>
     </g>
    </g>
    <g id="xtick_80">
     <g id="line2d_337">
      <path d="M 498.053292 1461.4 
L 498.053292 1213.5 
" clip-path="url(#p08f7154b19)" style="fill: none; stroke: #b0b0b0; stroke-width: 0.8; stroke-linecap: square"/>
     </g>
     <g id="line2d_338">
      <g>
       <path d="M 0 0 
L 0 3.5 
" transform="translate(498.053292 1461.4)" style="stroke: #000000; stroke-width: 0.8"/>
      </g>
     </g>
     <g id="text_208">
      <text style="font-size: 13.7px; font-family: 'DejaVu Sans', sans-serif" transform="translate(480.247464 1517.71875) rotate(-45)">Top 80%</text>
     </g>
    </g>
    <g id="xtick_81">
     <g id="line2d_339">
      <path d="M 543.351097 1461.4 
L 543.351097 1213.5 
" clip-path="url(#p08f7154b19)" style="fill: none; stroke: #b0b0b0; stroke-width: 0.8; stroke-linecap: square"/>
     </g>
     <g id="line2d_340">
      <g>
       <path d="M 0 0 
L 0 3.5 
" transform="translate(543.351097 1461.4)" style="stroke: #000000; stroke-width: 0.8"/>
      </g>
     </g>
     <g id="text_209">
      <text style="font-size: 13.7px; font-family: 'DejaVu Sans', sans-serif" transform="translate(525.54527 1517.71875) rotate(-45)">Top 60%</text>
     </g>
    </g>
    <g id="xtick_82">
     <g id="line2d_341">
      <path d="M 588.648903 1461.4 
L 588.648903 1213.5 
" clip-path="url(#p08f7154b19)" style="fill: none; stroke: #b0b0b0; stroke-width: 0.8; stroke-linecap: square"/>
     </g>
     <g id="line2d_342">
      <g>
       <path d="M 0 0 
L 0 3.5 
" transform="translate(588.648903 1461.4)" style="stroke: #000000; stroke-width: 0.8"/>
      </g>
     </g>
     <g id="text_210">
      <text style="font-size: 13.7px; font-family: 'DejaVu Sans', sans-serif" transform="translate(570.843076 1517.71875) rotate(-45)">Top 50%</text>
     </g>
    </g>
    <g id="xtick_83">
     <g id="line2d_343">
      <path d="M 633.946708 1461.4 
L 633.946708 1213.5 
" clip-path="url(#p08f7154b19)" style="fill: none; stroke: #b0b0b0; stroke-width: 0.8; stroke-linecap: square"/>
     </g>
     <g id="line2d_344">
      <g>
       <path d="M 0 0 
L 0 3.5 
" transform="translate(633.946708 1461.4)" style="stroke: #000000; stroke-width: 0.8"/>
      </g>
     </g>
     <g id="text_211">
      <text style="font-size: 13.7px; font-family: 'DejaVu Sans', sans-serif" transform="translate(616.140881 1517.71875) rotate(-45)">Top 40%</text>
     </g>
    </g>
    <g id="xtick_84">
     <g id="line2d_345">
      <path d="M 679.244514 1461.4 
L 679.244514 1213.5 
" clip-path="url(#p08f7154b19)" style="fill: none; stroke: #b0b0b0; stroke-width: 0.8; stroke-linecap: square"/>
     </g>
     <g id="line2d_346">
      <g>
       <path d="M 0 0 
L 0 3.5 
" transform="translate(679.244514 1461.4)" style="stroke: #000000; stroke-width: 0.8"/>
      </g>
     </g>
     <g id="text_212">
      <text style="font-size: 13.7px; font-family: 'DejaVu Sans', sans-serif" transform="translate(661.438687 1517.71875) rotate(-45)">Top 20%</text>
     </g>
    </g>
    <g id="text_213">
     <text style="font-size: 15.7px; font-family: 'DejaVu Sans', sans-serif; text-anchor: middle" x="566" y="1535.662965" transform="rotate(-0 566 1535.662965)">Selected Features of medical dataset</text>
    </g>
   </g>
   <g id="matplotlib.axis_28">
    <g id="ytick_90">
     <g id="line2d_347">
      <path d="M 421.5 1427.595455 
L 710.5 1427.595455 
" clip-path="url(#p08f7154b19)" style="fill: none; stroke: #b0b0b0; stroke-width: 0.8; stroke-linecap: square"/>
     </g>
     <g id="line2d_348">
      <g>
       <path d="M 0 0 
L -3.5 0 
" transform="translate(421.5 1427.595455)" style="stroke: #000000; stroke-width: 0.8"/>
      </g>
     </g>
     <g id="text_214">
      <text style="font-size: 12px; font-family: 'DejaVu Sans', sans-serif; text-anchor: end" x="414" y="1432.154517" transform="rotate(-0 414 1432.154517)" textLength="34.37" lengthAdjust="spacing">−0.04</text>
     </g>
    </g>
    <g id="ytick_91">
     <g id="line2d_349">
      <path d="M 421.5 1382.522727 
L 710.5 1382.522727 
" clip-path="url(#p08f7154b19)" style="fill: none; stroke: #b0b0b0; stroke-width: 0.8; stroke-linecap: square"/>
     </g>
     <g id="line2d_350">
      <g>
       <path d="M 0 0 
L -3.5 0 
" transform="translate(421.5 1382.522727)" style="stroke: #000000; stroke-width: 0.8"/>
      </g>
     </g>
     <g id="text_215">
      <text style="font-size: 12px; font-family: 'DejaVu Sans', sans-serif; text-anchor: end" x="414" y="1387.08179" transform="rotate(-0 414 1387.08179)" textLength="34.37" lengthAdjust="spacing">−0.02</text>
     </g>
    </g>
    <g id="ytick_92">
     <g id="line2d_351">
      <path d="M 421.5 1337.45 
L 710.5 1337.45 
" clip-path="url(#p08f7154b19)" style="fill: none; stroke: #b0b0b0; stroke-width: 0.8; stroke-linecap: square"/>
     </g>
     <g id="line2d_352">
      <g>
       <path d="M 0 0 
L -3.5 0 
" transform="translate(421.5 1337.45)" style="stroke: #000000; stroke-width: 0.8"/>
      </g>
     </g>
     <g id="text_216">
      <text style="font-size: 12px; font-family: 'DejaVu Sans', sans-serif; text-anchor: end" x="414" y="1342.009062" transform="rotate(-0 414 1342.009062)" textLength="24.92" lengthAdjust="spacing">0.00</text>
     </g>
    </g>
    <g id="ytick_93">
     <g id="line2d_353">
      <path d="M 421.5 1292.377273 
L 710.5 1292.377273 
" clip-path="url(#p08f7154b19)" style="fill: none; stroke: #b0b0b0; stroke-width: 0.8; stroke-linecap: square"/>
     </g>
     <g id="line2d_354">
      <g>
       <path d="M 0 0 
L -3.5 0 
" transform="translate(421.5 1292.377273)" style="stroke: #000000; stroke-width: 0.8"/>
      </g>
     </g>
     <g id="text_217">
      <text style="font-size: 12px; font-family: 'DejaVu Sans', sans-serif; text-anchor: end" x="414" y="1296.936335" transform="rotate(-0 414 1296.936335)" textLength="24.92" lengthAdjust="spacing">0.02</text>
     </g>
    </g>
    <g id="ytick_94">
     <g id="line2d_355">
      <path d="M 421.5 1247.304545 
L 710.5 1247.304545 
" clip-path="url(#p08f7154b19)" style="fill: none; stroke: #b0b0b0; stroke-width: 0.8; stroke-linecap: square"/>
     </g>
     <g id="line2d_356">
      <g>
       <path d="M 0 0 
L -3.5 0 
" transform="translate(421.5 1247.304545)" style="stroke: #000000; stroke-width: 0.8"/>
      </g>
     </g>
     <g id="text_218">
      <text style="font-size: 12px; font-family: 'DejaVu Sans', sans-serif; text-anchor: end" x="414" y="1251.863608" transform="rotate(-0 414 1251.863608)" textLength="24.92" lengthAdjust="spacing">0.04</text>
     </g>
    </g>
    <g id="text_219">
     <text style="font-size: 15.7px; font-family: 'DejaVu Sans', sans-serif; text-anchor: middle" x="372.360516" y="1337.45" transform="rotate(-90 372.360516 1337.45)">Training time of medical dataset</text>
    </g>
   </g>
   <g id="patch_152">
    <path d="M 421.5 1461.4 
L 421.5 1213.5 
" style="fill: none; stroke: #000000; stroke-width: 0.8; stroke-linejoin: miter; stroke-linecap: square"/>
   </g>
   <g id="patch_153">
    <path d="M 710.5 1461.4 
L 710.5 1213.5 
" style="fill: none; stroke: #000000; stroke-width: 0.8; stroke-linejoin: miter; stroke-linecap: square"/>
   </g>
   <g id="patch_154">
    <path d="M 421.5 1461.4 
L 710.5 1461.4 
" style="fill: none; stroke: #000000; stroke-width: 0.8; stroke-linejoin: miter; stroke-linecap: square"/>
   </g>
   <g id="patch_155">
    <path d="M 421.5 1213.5 
L 710.5 1213.5 
" style="fill: none; stroke: #000000; stroke-width: 0.8; stroke-linejoin: miter; stroke-linecap: square"/>
   </g>
   <g id="text_220">
    <text style="font-size: 18.05px; font-family: 'DejaVu Sans', sans-serif; text-anchor: middle" x="566" y="1207.5" transform="rotate(-0 566 1207.5)">Classifier : LP</text>
   </g>
  </g>
  <g id="axes_15">
   <g id="patch_156">
    <path d="M 784.5 1461.4 
L 1074 1461.4 
L 1074 1213.5 
L 784.5 1213.5 
z
" style="fill: #ffffff"/>
   </g>
   <g id="patch_157">
    <path d="M 797.659091 1461.4 
L 833.960031 1461.4 
L 833.960031 1228.608009 
L 797.659091 1228.608009 
z
" clip-path="url(#pcec7f37543)" style="fill: #0000ff"/>
   </g>
   <g id="patch_158">
    <path d="M 843.035266 1461.4 
L 879.336207 1461.4 
L 879.336207 1225.304762 
L 843.035266 1225.304762 
z
" clip-path="url(#pcec7f37543)" style="fill: #ffa500"/>
   </g>
   <g id="patch_159">
    <path d="M 888.411442 1461.4 
L 924.712382 1461.4 
L 924.712382 1242.603345 
L 888.411442 1242.603345 
z
" clip-path="url(#pcec7f37543)" style="fill: #008000"/>
   </g>
   <g id="patch_160">
    <path d="M 933.787618 1461.4 
L 970.088558 1461.4 
L 970.088558 1256.337899 
L 933.787618 1256.337899 
z
" clip-path="url(#pcec7f37543)" style="fill: #ff0000"/>
   </g>
   <g id="patch_161">
    <path d="M 979.163793 1461.4 
L 1015.464734 1461.4 
L 1015.464734 1257.207174 
L 979.163793 1257.207174 
z
" clip-path="url(#pcec7f37543)" style="fill: #800080"/>
   </g>
   <g id="patch_162">
    <path d="M 1024.539969 1461.4 
L 1060.840909 1461.4 
L 1060.840909 1267.029988 
L 1024.539969 1267.029988 
z
" clip-path="url(#pcec7f37543)" style="fill: #a52a2a"/>
   </g>
   <g id="matplotlib.axis_29">
    <g id="xtick_85">
     <g id="line2d_357">
      <path d="M 815.809561 1461.4 
L 815.809561 1213.5 
" clip-path="url(#pcec7f37543)" style="fill: none; stroke: #b0b0b0; stroke-width: 0.8; stroke-linecap: square"/>
     </g>
     <g id="line2d_358">
      <g>
       <path d="M 0 0 
L 0 3.5 
" transform="translate(815.809561 1461.4)" style="stroke: #000000; stroke-width: 0.8"/>
      </g>
     </g>
     <g id="text_221">
      <text style="font-size: 13.7px; font-family: 'DejaVu Sans', sans-serif" transform="translate(799.528737 1514.668744) rotate(-45)">Original</text>
     </g>
    </g>
    <g id="xtick_86">
     <g id="line2d_359">
      <path d="M 861.185737 1461.4 
L 861.185737 1213.5 
" clip-path="url(#pcec7f37543)" style="fill: none; stroke: #b0b0b0; stroke-width: 0.8; stroke-linecap: square"/>
     </g>
     <g id="line2d_360">
      <g>
       <path d="M 0 0 
L 0 3.5 
" transform="translate(861.185737 1461.4)" style="stroke: #000000; stroke-width: 0.8"/>
      </g>
     </g>
     <g id="text_222">
      <text style="font-size: 13.7px; font-family: 'DejaVu Sans', sans-serif" transform="translate(843.37991 1517.71875) rotate(-45)">Top 80%</text>
     </g>
    </g>
    <g id="xtick_87">
     <g id="line2d_361">
      <path d="M 906.561912 1461.4 
L 906.561912 1213.5 
" clip-path="url(#pcec7f37543)" style="fill: none; stroke: #b0b0b0; stroke-width: 0.8; stroke-linecap: square"/>
     </g>
     <g id="line2d_362">
      <g>
       <path d="M 0 0 
L 0 3.5 
" transform="translate(906.561912 1461.4)" style="stroke: #000000; stroke-width: 0.8"/>
      </g>
     </g>
     <g id="text_223">
      <text style="font-size: 13.7px; font-family: 'DejaVu Sans', sans-serif" transform="translate(888.756085 1517.71875) rotate(-45)">Top 60%</text>
     </g>
    </g>
    <g id="xtick_88">
     <g id="line2d_363">
      <path d="M 951.938088 1461.4 
L 951.938088 1213.5 
" clip-path="url(#pcec7f37543)" style="fill: none; stroke: #b0b0b0; stroke-width: 0.8; stroke-linecap: square"/>
     </g>
     <g id="line2d_364">
      <g>
       <path d="M 0 0 
L 0 3.5 
" transform="translate(951.938088 1461.4)" style="stroke: #000000; stroke-width: 0.8"/>
      </g>
     </g>
     <g id="text_224">
      <text style="font-size: 13.7px; font-family: 'DejaVu Sans', sans-serif" transform="translate(934.132261 1517.71875) rotate(-45)">Top 50%</text>
     </g>
    </g>
    <g id="xtick_89">
     <g id="line2d_365">
      <path d="M 997.314263 1461.4 
L 997.314263 1213.5 
" clip-path="url(#pcec7f37543)" style="fill: none; stroke: #b0b0b0; stroke-width: 0.8; stroke-linecap: square"/>
     </g>
     <g id="line2d_366">
      <g>
       <path d="M 0 0 
L 0 3.5 
" transform="translate(997.314263 1461.4)" style="stroke: #000000; stroke-width: 0.8"/>
      </g>
     </g>
     <g id="text_225">
      <text style="font-size: 13.7px; font-family: 'DejaVu Sans', sans-serif" transform="translate(979.508436 1517.71875) rotate(-45)">Top 40%</text>
     </g>
    </g>
    <g id="xtick_90">
     <g id="line2d_367">
      <path d="M 1042.690439 1461.4 
L 1042.690439 1213.5 
" clip-path="url(#pcec7f37543)" style="fill: none; stroke: #b0b0b0; stroke-width: 0.8; stroke-linecap: square"/>
     </g>
     <g id="line2d_368">
      <g>
       <path d="M 0 0 
L 0 3.5 
" transform="translate(1042.690439 1461.4)" style="stroke: #000000; stroke-width: 0.8"/>
      </g>
     </g>
     <g id="text_226">
      <text style="font-size: 13.7px; font-family: 'DejaVu Sans', sans-serif" transform="translate(1024.884612 1517.71875) rotate(-45)">Top 20%</text>
     </g>
    </g>
    <g id="text_227">
     <text style="font-size: 15.7px; font-family: 'DejaVu Sans', sans-serif; text-anchor: middle" x="929.25" y="1535.662965" transform="rotate(-0 929.25 1535.662965)">Selected Features of medical dataset</text>
    </g>
   </g>
   <g id="matplotlib.axis_30">
    <g id="ytick_95">
     <g id="line2d_369">
      <path d="M 784.5 1461.4 
L 1074 1461.4 
" clip-path="url(#pcec7f37543)" style="fill: none; stroke: #b0b0b0; stroke-width: 0.8; stroke-linecap: square"/>
     </g>
     <g id="line2d_370">
      <g>
       <path d="M 0 0 
L -3.5 0 
" transform="translate(784.5 1461.4)" style="stroke: #000000; stroke-width: 0.8"/>
      </g>
     </g>
     <g id="text_228">
      <text style="font-size: 12px; font-family: 'DejaVu Sans', sans-serif; text-anchor: end" x="777" y="1465.959063" transform="rotate(-0 777 1465.959063)">0</text>
     </g>
    </g>
    <g id="ytick_96">
     <g id="line2d_371">
      <path d="M 784.5 1417.936223 
L 1074 1417.936223 
" clip-path="url(#pcec7f37543)" style="fill: none; stroke: #b0b0b0; stroke-width: 0.8; stroke-linecap: square"/>
     </g>
     <g id="line2d_372">
      <g>
       <path d="M 0 0 
L -3.5 0 
" transform="translate(784.5 1417.936223)" style="stroke: #000000; stroke-width: 0.8"/>
      </g>
     </g>
     <g id="text_229">
      <text style="font-size: 12px; font-family: 'DejaVu Sans', sans-serif; text-anchor: end" x="777" y="1422.495285" transform="rotate(-0 777 1422.495285)" textLength="14.67" lengthAdjust="spacing">50</text>
     </g>
    </g>
    <g id="ytick_97">
     <g id="line2d_373">
      <path d="M 784.5 1374.472445 
L 1074 1374.472445 
" clip-path="url(#pcec7f37543)" style="fill: none; stroke: #b0b0b0; stroke-width: 0.8; stroke-linecap: square"/>
     </g>
     <g id="line2d_374">
      <g>
       <path d="M 0 0 
L -3.5 0 
" transform="translate(784.5 1374.472445)" style="stroke: #000000; stroke-width: 0.8"/>
      </g>
     </g>
     <g id="text_230">
      <text style="font-size: 12px; font-family: 'DejaVu Sans', sans-serif; text-anchor: end" x="777" y="1379.031508" transform="rotate(-0 777 1379.031508)" textLength="21.70" lengthAdjust="spacing">100</text>
     </g>
    </g>
    <g id="ytick_98">
     <g id="line2d_375">
      <path d="M 784.5 1331.008668 
L 1074 1331.008668 
" clip-path="url(#pcec7f37543)" style="fill: none; stroke: #b0b0b0; stroke-width: 0.8; stroke-linecap: square"/>
     </g>
     <g id="line2d_376">
      <g>
       <path d="M 0 0 
L -3.5 0 
" transform="translate(784.5 1331.008668)" style="stroke: #000000; stroke-width: 0.8"/>
      </g>
     </g>
     <g id="text_231">
      <text style="font-size: 12px; font-family: 'DejaVu Sans', sans-serif; text-anchor: end" x="777" y="1335.567731" transform="rotate(-0 777 1335.567731)" textLength="21.70" lengthAdjust="spacing">150</text>
     </g>
    </g>
    <g id="ytick_99">
     <g id="line2d_377">
      <path d="M 784.5 1287.544891 
L 1074 1287.544891 
" clip-path="url(#pcec7f37543)" style="fill: none; stroke: #b0b0b0; stroke-width: 0.8; stroke-linecap: square"/>
     </g>
     <g id="line2d_378">
      <g>
       <path d="M 0 0 
L -3.5 0 
" transform="translate(784.5 1287.544891)" style="stroke: #000000; stroke-width: 0.8"/>
      </g>
     </g>
     <g id="text_232">
      <text style="font-size: 12px; font-family: 'DejaVu Sans', sans-serif; text-anchor: end" x="777" y="1292.103953" transform="rotate(-0 777 1292.103953)" textLength="21.70" lengthAdjust="spacing">200</text>
     </g>
    </g>
    <g id="ytick_100">
     <g id="line2d_379">
      <path d="M 784.5 1244.081114 
L 1074 1244.081114 
" clip-path="url(#pcec7f37543)" style="fill: none; stroke: #b0b0b0; stroke-width: 0.8; stroke-linecap: square"/>
     </g>
     <g id="line2d_380">
      <g>
       <path d="M 0 0 
L -3.5 0 
" transform="translate(784.5 1244.081114)" style="stroke: #000000; stroke-width: 0.8"/>
      </g>
     </g>
     <g id="text_233">
      <text style="font-size: 12px; font-family: 'DejaVu Sans', sans-serif; text-anchor: end" x="777" y="1248.640176" transform="rotate(-0 777 1248.640176)" textLength="21.70" lengthAdjust="spacing">250</text>
     </g>
    </g>
    <g id="text_234">
     <text style="font-size: 15.7px; font-family: 'DejaVu Sans', sans-serif; text-anchor: middle" x="748.029891" y="1337.45" transform="rotate(-90 748.029891 1337.45)">Training time of medical dataset</text>
    </g>
   </g>
   <g id="patch_163">
    <path d="M 784.5 1461.4 
L 784.5 1213.5 
" style="fill: none; stroke: #000000; stroke-width: 0.8; stroke-linejoin: miter; stroke-linecap: square"/>
   </g>
   <g id="patch_164">
    <path d="M 1074 1461.4 
L 1074 1213.5 
" style="fill: none; stroke: #000000; stroke-width: 0.8; stroke-linejoin: miter; stroke-linecap: square"/>
   </g>
   <g id="patch_165">
    <path d="M 784.5 1461.4 
L 1074 1461.4 
" style="fill: none; stroke: #000000; stroke-width: 0.8; stroke-linejoin: miter; stroke-linecap: square"/>
   </g>
   <g id="patch_166">
    <path d="M 784.5 1213.5 
L 1074 1213.5 
" style="fill: none; stroke: #000000; stroke-width: 0.8; stroke-linejoin: miter; stroke-linecap: square"/>
   </g>
   <g id="text_235">
    <text style="font-size: 18.05px; font-family: 'DejaVu Sans', sans-serif; text-anchor: middle" x="929.25" y="1207.5" transform="rotate(-0 929.25 1207.5)">Classifier : LSPU</text>
   </g>
  </g>
  <g id="axes_16">
   <g id="patch_167">
    <path d="M 1147.5 1461.4 
L 1437 1461.4 
L 1437 1213.5 
L 1147.5 1213.5 
z
" style="fill: #ffffff"/>
   </g>
   <g id="patch_168">
    <path d="M 1160.659091 1461.4 
L 1196.960031 1461.4 
L 1196.960031 1225.304762 
L 1160.659091 1225.304762 
z
" clip-path="url(#p116081255a)" style="fill: #0000ff"/>
   </g>
   <g id="patch_169">
    <path d="M 1206.035266 1461.4 
L 1242.336207 1461.4 
L 1242.336207 1252.124389 
L 1206.035266 1252.124389 
z
" clip-path="url(#p116081255a)" style="fill: #ffa500"/>
   </g>
   <g id="patch_170">
    <path d="M 1251.411442 1461.4 
L 1287.712382 1461.4 
L 1287.712382 1253.527262 
L 1251.411442 1253.527262 
z
" clip-path="url(#p116081255a)" style="fill: #008000"/>
   </g>
   <g id="patch_171">
    <path d="M 1296.787618 1461.4 
L 1333.088558 1461.4 
L 1333.088558 1258.231011 
L 1296.787618 1258.231011 
z
" clip-path="url(#p116081255a)" style="fill: #ff0000"/>
   </g>
   <g id="patch_172">
    <path d="M 1342.163793 1461.4 
L 1378.464734 1461.4 
L 1378.464734 1263.182327 
L 1342.163793 1263.182327 
z
" clip-path="url(#p116081255a)" style="fill: #800080"/>
   </g>
   <g id="patch_173">
    <path d="M 1387.539969 1461.4 
L 1423.840909 1461.4 
L 1423.840909 1285.54577 
L 1387.539969 1285.54577 
z
" clip-path="url(#p116081255a)" style="fill: #a52a2a"/>
   </g>
   <g id="matplotlib.axis_31">
    <g id="xtick_91">
     <g id="line2d_381">
      <path d="M 1178.809561 1461.4 
L 1178.809561 1213.5 
" clip-path="url(#p116081255a)" style="fill: none; stroke: #b0b0b0; stroke-width: 0.8; stroke-linecap: square"/>
     </g>
     <g id="line2d_382">
      <g>
       <path d="M 0 0 
L 0 3.5 
" transform="translate(1178.809561 1461.4)" style="stroke: #000000; stroke-width: 0.8"/>
      </g>
     </g>
     <g id="text_236">
      <text style="font-size: 13.7px; font-family: 'DejaVu Sans', sans-serif" transform="translate(1162.528737 1514.668744) rotate(-45)">Original</text>
     </g>
    </g>
    <g id="xtick_92">
     <g id="line2d_383">
      <path d="M 1224.185737 1461.4 
L 1224.185737 1213.5 
" clip-path="url(#p116081255a)" style="fill: none; stroke: #b0b0b0; stroke-width: 0.8; stroke-linecap: square"/>
     </g>
     <g id="line2d_384">
      <g>
       <path d="M 0 0 
L 0 3.5 
" transform="translate(1224.185737 1461.4)" style="stroke: #000000; stroke-width: 0.8"/>
      </g>
     </g>
     <g id="text_237">
      <text style="font-size: 13.7px; font-family: 'DejaVu Sans', sans-serif" transform="translate(1206.37991 1517.71875) rotate(-45)">Top 80%</text>
     </g>
    </g>
    <g id="xtick_93">
     <g id="line2d_385">
      <path d="M 1269.561912 1461.4 
L 1269.561912 1213.5 
" clip-path="url(#p116081255a)" style="fill: none; stroke: #b0b0b0; stroke-width: 0.8; stroke-linecap: square"/>
     </g>
     <g id="line2d_386">
      <g>
       <path d="M 0 0 
L 0 3.5 
" transform="translate(1269.561912 1461.4)" style="stroke: #000000; stroke-width: 0.8"/>
      </g>
     </g>
     <g id="text_238">
      <text style="font-size: 13.7px; font-family: 'DejaVu Sans', sans-serif" transform="translate(1251.756085 1517.71875) rotate(-45)">Top 60%</text>
     </g>
    </g>
    <g id="xtick_94">
     <g id="line2d_387">
      <path d="M 1314.938088 1461.4 
L 1314.938088 1213.5 
" clip-path="url(#p116081255a)" style="fill: none; stroke: #b0b0b0; stroke-width: 0.8; stroke-linecap: square"/>
     </g>
     <g id="line2d_388">
      <g>
       <path d="M 0 0 
L 0 3.5 
" transform="translate(1314.938088 1461.4)" style="stroke: #000000; stroke-width: 0.8"/>
      </g>
     </g>
     <g id="text_239">
      <text style="font-size: 13.7px; font-family: 'DejaVu Sans', sans-serif" transform="translate(1297.132261 1517.71875) rotate(-45)">Top 50%</text>
     </g>
    </g>
    <g id="xtick_95">
     <g id="line2d_389">
      <path d="M 1360.314263 1461.4 
L 1360.314263 1213.5 
" clip-path="url(#p116081255a)" style="fill: none; stroke: #b0b0b0; stroke-width: 0.8; stroke-linecap: square"/>
     </g>
     <g id="line2d_390">
      <g>
       <path d="M 0 0 
L 0 3.5 
" transform="translate(1360.314263 1461.4)" style="stroke: #000000; stroke-width: 0.8"/>
      </g>
     </g>
     <g id="text_240">
      <text style="font-size: 13.7px; font-family: 'DejaVu Sans', sans-serif" transform="translate(1342.508436 1517.71875) rotate(-45)">Top 40%</text>
     </g>
    </g>
    <g id="xtick_96">
     <g id="line2d_391">
      <path d="M 1405.690439 1461.4 
L 1405.690439 1213.5 
" clip-path="url(#p116081255a)" style="fill: none; stroke: #b0b0b0; stroke-width: 0.8; stroke-linecap: square"/>
     </g>
     <g id="line2d_392">
      <g>
       <path d="M 0 0 
L 0 3.5 
" transform="translate(1405.690439 1461.4)" style="stroke: #000000; stroke-width: 0.8"/>
      </g>
     </g>
     <g id="text_241">
      <text style="font-size: 13.7px; font-family: 'DejaVu Sans', sans-serif" transform="translate(1387.884612 1517.71875) rotate(-45)">Top 20%</text>
     </g>
    </g>
    <g id="text_242">
     <text style="font-size: 15.7px; font-family: 'DejaVu Sans', sans-serif; text-anchor: middle" x="1292.25" y="1535.662965" transform="rotate(-0 1292.25 1535.662965)">Selected Features of medical dataset</text>
    </g>
   </g>
   <g id="matplotlib.axis_32">
    <g id="ytick_101">
     <g id="line2d_393">
      <path d="M 1147.5 1461.4 
L 1437 1461.4 
" clip-path="url(#p116081255a)" style="fill: none; stroke: #b0b0b0; stroke-width: 0.8; stroke-linecap: square"/>
     </g>
     <g id="line2d_394">
      <g>
       <path d="M 0 0 
L -3.5 0 
" transform="translate(1147.5 1461.4)" style="stroke: #000000; stroke-width: 0.8"/>
      </g>
     </g>
     <g id="text_243">
      <text style="font-size: 13.6px; font-family: 'DejaVu Sans', sans-serif; text-anchor: end" x="1140" y="1466.566938" transform="rotate(-0 1140 1466.566938)">0</text>
     </g>
    </g>
    <g id="ytick_102">
     <g id="line2d_395">
      <path d="M 1147.5 1420.139036 
L 1437 1420.139036 
" clip-path="url(#p116081255a)" style="fill: none; stroke: #b0b0b0; stroke-width: 0.8; stroke-linecap: square"/>
     </g>
     <g id="line2d_396">
      <g>
       <path d="M 0 0 
L -3.5 0 
" transform="translate(1147.5 1420.139036)" style="stroke: #000000; stroke-width: 0.8"/>
      </g>
     </g>
     <g id="text_244">
      <text style="font-size: 13.6px; font-family: 'DejaVu Sans', sans-serif; text-anchor: end" x="1140" y="1425.305973" transform="rotate(-0 1140 1425.305973)" textLength="16.71" lengthAdjust="spacing">50</text>
     </g>
    </g>
    <g id="ytick_103">
     <g id="line2d_397">
      <path d="M 1147.5 1378.878071 
L 1437 1378.878071 
" clip-path="url(#p116081255a)" style="fill: none; stroke: #b0b0b0; stroke-width: 0.8; stroke-linecap: square"/>
     </g>
     <g id="line2d_398">
      <g>
       <path d="M 0 0 
L -3.5 0 
" transform="translate(1147.5 1378.878071)" style="stroke: #000000; stroke-width: 0.8"/>
      </g>
     </g>
     <g id="text_245">
      <text style="font-size: 13.6px; font-family: 'DejaVu Sans', sans-serif; text-anchor: end" x="1140" y="1384.045009" transform="rotate(-0 1140 1384.045009)" textLength="24.76" lengthAdjust="spacing">100</text>
     </g>
    </g>
    <g id="ytick_104">
     <g id="line2d_399">
      <path d="M 1147.5 1337.617107 
L 1437 1337.617107 
" clip-path="url(#p116081255a)" style="fill: none; stroke: #b0b0b0; stroke-width: 0.8; stroke-linecap: square"/>
     </g>
     <g id="line2d_400">
      <g>
       <path d="M 0 0 
L -3.5 0 
" transform="translate(1147.5 1337.617107)" style="stroke: #000000; stroke-width: 0.8"/>
      </g>
     </g>
     <g id="text_246">
      <text style="font-size: 13.6px; font-family: 'DejaVu Sans', sans-serif; text-anchor: end" x="1140" y="1342.784044" transform="rotate(-0 1140 1342.784044)" textLength="24.76" lengthAdjust="spacing">150</text>
     </g>
    </g>
    <g id="ytick_105">
     <g id="line2d_401">
      <path d="M 1147.5 1296.356143 
L 1437 1296.356143 
" clip-path="url(#p116081255a)" style="fill: none; stroke: #b0b0b0; stroke-width: 0.8; stroke-linecap: square"/>
     </g>
     <g id="line2d_402">
      <g>
       <path d="M 0 0 
L -3.5 0 
" transform="translate(1147.5 1296.356143)" style="stroke: #000000; stroke-width: 0.8"/>
      </g>
     </g>
     <g id="text_247">
      <text style="font-size: 13.6px; font-family: 'DejaVu Sans', sans-serif; text-anchor: end" x="1140" y="1301.52308" transform="rotate(-0 1140 1301.52308)" textLength="24.76" lengthAdjust="spacing">200</text>
     </g>
    </g>
    <g id="ytick_106">
     <g id="line2d_403">
      <path d="M 1147.5 1255.095178 
L 1437 1255.095178 
" clip-path="url(#p116081255a)" style="fill: none; stroke: #b0b0b0; stroke-width: 0.8; stroke-linecap: square"/>
     </g>
     <g id="line2d_404">
      <g>
       <path d="M 0 0 
L -3.5 0 
" transform="translate(1147.5 1255.095178)" style="stroke: #000000; stroke-width: 0.8"/>
      </g>
     </g>
     <g id="text_248">
      <text style="font-size: 13.6px; font-family: 'DejaVu Sans', sans-serif; text-anchor: end" x="1140" y="1260.262116" transform="rotate(-0 1140 1260.262116)" textLength="24.76" lengthAdjust="spacing">250</text>
     </g>
    </g>
    <g id="ytick_107">
     <g id="line2d_405">
      <path d="M 1147.5 1213.834214 
L 1437 1213.834214 
" clip-path="url(#p116081255a)" style="fill: none; stroke: #b0b0b0; stroke-width: 0.8; stroke-linecap: square"/>
     </g>
     <g id="line2d_406">
      <g>
       <path d="M 0 0 
L -3.5 0 
" transform="translate(1147.5 1213.834214)" style="stroke: #000000; stroke-width: 0.8"/>
      </g>
     </g>
     <g id="text_249">
      <text style="font-size: 13.6px; font-family: 'DejaVu Sans', sans-serif; text-anchor: end" x="1140" y="1219.001151" transform="rotate(-0 1140 1219.001151)" textLength="24.76" lengthAdjust="spacing">300</text>
     </g>
    </g>
    <g id="text_250">
     <text style="font-size: 15.7px; font-family: 'DejaVu Sans', sans-serif; text-anchor: middle" x="1107.975891" y="1337.45" transform="rotate(-90 1107.975891 1337.45)">Training time of medical dataset</text>
    </g>
   </g>
   <g id="patch_174">
    <path d="M 1147.5 1461.4 
L 1147.5 1213.5 
" style="fill: none; stroke: #000000; stroke-width: 0.8; stroke-linejoin: miter; stroke-linecap: square"/>
   </g>
   <g id="patch_175">
    <path d="M 1437 1461.4 
L 1437 1213.5 
" style="fill: none; stroke: #000000; stroke-width: 0.8; stroke-linejoin: miter; stroke-linecap: square"/>
   </g>
   <g id="patch_176">
    <path d="M 1147.5 1461.4 
L 1437 1461.4 
" style="fill: none; stroke: #000000; stroke-width: 0.8; stroke-linejoin: miter; stroke-linecap: square"/>
   </g>
   <g id="patch_177">
    <path d="M 1147.5 1213.5 
L 1437 1213.5 
" style="fill: none; stroke: #000000; stroke-width: 0.8; stroke-linejoin: miter; stroke-linecap: square"/>
   </g>
   <g id="text_251">
    <text style="font-size: 18.05px; font-family: 'DejaVu Sans', sans-serif; text-anchor: middle" x="1292.25" y="1207.5" transform="rotate(-0 1292.25 1207.5)">Classifier : LSPV</text>
   </g>
  </g>
  <g id="axes_17">
   <g id="patch_178">
    <path d="M 64 1943 
L 355 1943 
L 355 1695.5 
L 64 1695.5 
z
" style="fill: #ffffff"/>
   </g>
   <g id="patch_179">
    <path d="M 77.227273 1943 
L 113.716301 1943 
L 113.716301 1746.571429 
L 77.227273 1746.571429 
z
" clip-path="url(#p3701f082db)" style="fill: #0000ff"/>
   </g>
   <g id="patch_180">
    <path d="M 122.838558 1943 
L 159.327586 1943 
L 159.327586 1707.285714 
L 122.838558 1707.285714 
z
" clip-path="url(#p3701f082db)" style="fill: #ffa500"/>
   </g>
   <g id="patch_181">
    <path d="M 168.449843 1943 
L 204.938871 1943 
L 204.938871 1718.510204 
L 168.449843 1718.510204 
z
" clip-path="url(#p3701f082db)" style="fill: #008000"/>
   </g>
   <g id="patch_182">
    <path d="M 214.061129 1943 
L 250.550157 1943 
L 250.550157 1724.122449 
L 214.061129 1724.122449 
z
" clip-path="url(#p3701f082db)" style="fill: #ff0000"/>
   </g>
   <g id="patch_183">
    <path d="M 259.672414 1943 
L 296.161442 1943 
L 296.161442 1724.122449 
L 259.672414 1724.122449 
z
" clip-path="url(#p3701f082db)" style="fill: #800080"/>
   </g>
   <g id="patch_184">
    <path d="M 305.283699 1943 
L 341.772727 1943 
L 341.772727 1735.346939 
L 305.283699 1735.346939 
z
" clip-path="url(#p3701f082db)" style="fill: #a52a2a"/>
   </g>
   <g id="matplotlib.axis_33">
    <g id="xtick_97">
     <g id="line2d_407">
      <path d="M 95.471787 1943 
L 95.471787 1695.5 
" clip-path="url(#p3701f082db)" style="fill: none; stroke: #b0b0b0; stroke-width: 0.8; stroke-linecap: square"/>
     </g>
     <g id="line2d_408">
      <g>
       <path d="M 0 0 
L 0 3.5 
" transform="translate(95.471787 1943)" style="stroke: #000000; stroke-width: 0.8"/>
      </g>
     </g>
     <g id="text_252">
      <text style="font-size: 13.7px; font-family: 'DejaVu Sans', sans-serif" transform="translate(79.190963 1996.268744) rotate(-45)">Original</text>
     </g>
    </g>
    <g id="xtick_98">
     <g id="line2d_409">
      <path d="M 141.083072 1943 
L 141.083072 1695.5 
" clip-path="url(#p3701f082db)" style="fill: none; stroke: #b0b0b0; stroke-width: 0.8; stroke-linecap: square"/>
     </g>
     <g id="line2d_410">
      <g>
       <path d="M 0 0 
L 0 3.5 
" transform="translate(141.083072 1943)" style="stroke: #000000; stroke-width: 0.8"/>
      </g>
     </g>
     <g id="text_253">
      <text style="font-size: 13.7px; font-family: 'DejaVu Sans', sans-serif" transform="translate(123.277245 1999.31875) rotate(-45)">Top 80%</text>
     </g>
    </g>
    <g id="xtick_99">
     <g id="line2d_411">
      <path d="M 186.694357 1943 
L 186.694357 1695.5 
" clip-path="url(#p3701f082db)" style="fill: none; stroke: #b0b0b0; stroke-width: 0.8; stroke-linecap: square"/>
     </g>
     <g id="line2d_412">
      <g>
       <path d="M 0 0 
L 0 3.5 
" transform="translate(186.694357 1943)" style="stroke: #000000; stroke-width: 0.8"/>
      </g>
     </g>
     <g id="text_254">
      <text style="font-size: 13.7px; font-family: 'DejaVu Sans', sans-serif" transform="translate(168.88853 1999.31875) rotate(-45)">Top 60%</text>
     </g>
    </g>
    <g id="xtick_100">
     <g id="line2d_413">
      <path d="M 232.305643 1943 
L 232.305643 1695.5 
" clip-path="url(#p3701f082db)" style="fill: none; stroke: #b0b0b0; stroke-width: 0.8; stroke-linecap: square"/>
     </g>
     <g id="line2d_414">
      <g>
       <path d="M 0 0 
L 0 3.5 
" transform="translate(232.305643 1943)" style="stroke: #000000; stroke-width: 0.8"/>
      </g>
     </g>
     <g id="text_255">
      <text style="font-size: 13.7px; font-family: 'DejaVu Sans', sans-serif" transform="translate(214.499816 1999.31875) rotate(-45)">Top 50%</text>
     </g>
    </g>
    <g id="xtick_101">
     <g id="line2d_415">
      <path d="M 277.916928 1943 
L 277.916928 1695.5 
" clip-path="url(#p3701f082db)" style="fill: none; stroke: #b0b0b0; stroke-width: 0.8; stroke-linecap: square"/>
     </g>
     <g id="line2d_416">
      <g>
       <path d="M 0 0 
L 0 3.5 
" transform="translate(277.916928 1943)" style="stroke: #000000; stroke-width: 0.8"/>
      </g>
     </g>
     <g id="text_256">
      <text style="font-size: 13.7px; font-family: 'DejaVu Sans', sans-serif" transform="translate(260.111101 1999.31875) rotate(-45)">Top 40%</text>
     </g>
    </g>
    <g id="xtick_102">
     <g id="line2d_417">
      <path d="M 323.528213 1943 
L 323.528213 1695.5 
" clip-path="url(#p3701f082db)" style="fill: none; stroke: #b0b0b0; stroke-width: 0.8; stroke-linecap: square"/>
     </g>
     <g id="line2d_418">
      <g>
       <path d="M 0 0 
L 0 3.5 
" transform="translate(323.528213 1943)" style="stroke: #000000; stroke-width: 0.8"/>
      </g>
     </g>
     <g id="text_257">
      <text style="font-size: 13.7px; font-family: 'DejaVu Sans', sans-serif" transform="translate(305.722386 1999.31875) rotate(-45)">Top 20%</text>
     </g>
    </g>
    <g id="text_258">
     <text style="font-size: 15.7px; font-family: 'DejaVu Sans', sans-serif; text-anchor: middle" x="209.5" y="2017.262965" transform="rotate(-0 209.5 2017.262965)">Selected Features of emotions dataset</text>
    </g>
   </g>
   <g id="matplotlib.axis_34">
    <g id="ytick_108">
     <g id="line2d_419">
      <path d="M 64 1943 
L 355 1943 
" clip-path="url(#p3701f082db)" style="fill: none; stroke: #b0b0b0; stroke-width: 0.8; stroke-linecap: square"/>
     </g>
     <g id="line2d_420">
      <g>
       <path d="M 0 0 
L -3.5 0 
" transform="translate(64 1943)" style="stroke: #000000; stroke-width: 0.8"/>
      </g>
     </g>
     <g id="text_259">
      <text style="font-size: 12px; font-family: 'DejaVu Sans', sans-serif; text-anchor: end" x="56.5" y="1947.559062" transform="rotate(-0 56.5 1947.559062)">0</text>
     </g>
    </g>
    <g id="ytick_109">
     <g id="line2d_421">
      <path d="M 64 1914.938776 
L 355 1914.938776 
" clip-path="url(#p3701f082db)" style="fill: none; stroke: #b0b0b0; stroke-width: 0.8; stroke-linecap: square"/>
     </g>
     <g id="line2d_422">
      <g>
       <path d="M 0 0 
L -3.5 0 
" transform="translate(64 1914.938776)" style="stroke: #000000; stroke-width: 0.8"/>
      </g>
     </g>
     <g id="text_260">
      <text style="font-size: 12px; font-family: 'DejaVu Sans', sans-serif; text-anchor: end" x="56.5" y="1919.497838" transform="rotate(-0 56.5 1919.497838)">5</text>
     </g>
    </g>
    <g id="ytick_110">
     <g id="line2d_423">
      <path d="M 64 1886.877551 
L 355 1886.877551 
" clip-path="url(#p3701f082db)" style="fill: none; stroke: #b0b0b0; stroke-width: 0.8; stroke-linecap: square"/>
     </g>
     <g id="line2d_424">
      <g>
       <path d="M 0 0 
L -3.5 0 
" transform="translate(64 1886.877551)" style="stroke: #000000; stroke-width: 0.8"/>
      </g>
     </g>
     <g id="text_261">
      <text style="font-size: 12px; font-family: 'DejaVu Sans', sans-serif; text-anchor: end" x="56.5" y="1891.436614" transform="rotate(-0 56.5 1891.436614)" textLength="14.67" lengthAdjust="spacing">10</text>
     </g>
    </g>
    <g id="ytick_111">
     <g id="line2d_425">
      <path d="M 64 1858.816327 
L 355 1858.816327 
" clip-path="url(#p3701f082db)" style="fill: none; stroke: #b0b0b0; stroke-width: 0.8; stroke-linecap: square"/>
     </g>
     <g id="line2d_426">
      <g>
       <path d="M 0 0 
L -3.5 0 
" transform="translate(64 1858.816327)" style="stroke: #000000; stroke-width: 0.8"/>
      </g>
     </g>
     <g id="text_262">
      <text style="font-size: 12px; font-family: 'DejaVu Sans', sans-serif; text-anchor: end" x="56.5" y="1863.375389" transform="rotate(-0 56.5 1863.375389)" textLength="14.67" lengthAdjust="spacing">15</text>
     </g>
    </g>
    <g id="ytick_112">
     <g id="line2d_427">
      <path d="M 64 1830.755102 
L 355 1830.755102 
" clip-path="url(#p3701f082db)" style="fill: none; stroke: #b0b0b0; stroke-width: 0.8; stroke-linecap: square"/>
     </g>
     <g id="line2d_428">
      <g>
       <path d="M 0 0 
L -3.5 0 
" transform="translate(64 1830.755102)" style="stroke: #000000; stroke-width: 0.8"/>
      </g>
     </g>
     <g id="text_263">
      <text style="font-size: 12px; font-family: 'DejaVu Sans', sans-serif; text-anchor: end" x="56.5" y="1835.314165" transform="rotate(-0 56.5 1835.314165)" textLength="14.67" lengthAdjust="spacing">20</text>
     </g>
    </g>
    <g id="ytick_113">
     <g id="line2d_429">
      <path d="M 64 1802.693878 
L 355 1802.693878 
" clip-path="url(#p3701f082db)" style="fill: none; stroke: #b0b0b0; stroke-width: 0.8; stroke-linecap: square"/>
     </g>
     <g id="line2d_430">
      <g>
       <path d="M 0 0 
L -3.5 0 
" transform="translate(64 1802.693878)" style="stroke: #000000; stroke-width: 0.8"/>
      </g>
     </g>
     <g id="text_264">
      <text style="font-size: 12px; font-family: 'DejaVu Sans', sans-serif; text-anchor: end" x="56.5" y="1807.25294" transform="rotate(-0 56.5 1807.25294)" textLength="14.67" lengthAdjust="spacing">25</text>
     </g>
    </g>
    <g id="ytick_114">
     <g id="line2d_431">
      <path d="M 64 1774.632653 
L 355 1774.632653 
" clip-path="url(#p3701f082db)" style="fill: none; stroke: #b0b0b0; stroke-width: 0.8; stroke-linecap: square"/>
     </g>
     <g id="line2d_432">
      <g>
       <path d="M 0 0 
L -3.5 0 
" transform="translate(64 1774.632653)" style="stroke: #000000; stroke-width: 0.8"/>
      </g>
     </g>
     <g id="text_265">
      <text style="font-size: 12px; font-family: 'DejaVu Sans', sans-serif; text-anchor: end" x="56.5" y="1779.191716" transform="rotate(-0 56.5 1779.191716)" textLength="14.67" lengthAdjust="spacing">30</text>
     </g>
    </g>
    <g id="ytick_115">
     <g id="line2d_433">
      <path d="M 64 1746.571429 
L 355 1746.571429 
" clip-path="url(#p3701f082db)" style="fill: none; stroke: #b0b0b0; stroke-width: 0.8; stroke-linecap: square"/>
     </g>
     <g id="line2d_434">
      <g>
       <path d="M 0 0 
L -3.5 0 
" transform="translate(64 1746.571429)" style="stroke: #000000; stroke-width: 0.8"/>
      </g>
     </g>
     <g id="text_266">
      <text style="font-size: 12px; font-family: 'DejaVu Sans', sans-serif; text-anchor: end" x="56.5" y="1751.130491" transform="rotate(-0 56.5 1751.130491)" textLength="14.67" lengthAdjust="spacing">35</text>
     </g>
    </g>
    <g id="ytick_116">
     <g id="line2d_435">
      <path d="M 64 1718.510204 
L 355 1718.510204 
" clip-path="url(#p3701f082db)" style="fill: none; stroke: #b0b0b0; stroke-width: 0.8; stroke-linecap: square"/>
     </g>
     <g id="line2d_436">
      <g>
       <path d="M 0 0 
L -3.5 0 
" transform="translate(64 1718.510204)" style="stroke: #000000; stroke-width: 0.8"/>
      </g>
     </g>
     <g id="text_267">
      <text style="font-size: 12px; font-family: 'DejaVu Sans', sans-serif; text-anchor: end" x="56.5" y="1723.069267" transform="rotate(-0 56.5 1723.069267)" textLength="14.67" lengthAdjust="spacing">40</text>
     </g>
    </g>
    <g id="text_268">
     <text style="font-size: 15.7px; font-family: 'DejaVu Sans', sans-serif; text-anchor: middle" x="34.564891" y="1819.25" transform="rotate(-90 34.564891 1819.25)">Training time of emotions dataset</text>
    </g>
   </g>
   <g id="patch_185">
    <path d="M 64 1943 
L 64 1695.5 
" style="fill: none; stroke: #000000; stroke-width: 0.8; stroke-linejoin: miter; stroke-linecap: square"/>
   </g>
   <g id="patch_186">
    <path d="M 355 1943 
L 355 1695.5 
" style="fill: none; stroke: #000000; stroke-width: 0.8; stroke-linejoin: miter; stroke-linecap: square"/>
   </g>
   <g id="patch_187">
    <path d="M 64 1943 
L 355 1943 
" style="fill: none; stroke: #000000; stroke-width: 0.8; stroke-linejoin: miter; stroke-linecap: square"/>
   </g>
   <g id="patch_188">
    <path d="M 64 1695.5 
L 355 1695.5 
" style="fill: none; stroke: #000000; stroke-width: 0.8; stroke-linejoin: miter; stroke-linecap: square"/>
   </g>
   <g id="text_269">
    <text style="font-size: 18.05px; font-family: 'DejaVu Sans', sans-serif; text-anchor: middle" x="209.5" y="1689.5" transform="rotate(-0 209.5 1689.5)">Classifier : MLKNN</text>
   </g>
  </g>
  <g id="axes_18">
   <g id="patch_189">
    <path d="M 429 1943 
L 720 1943 
L 720 1695.5 
L 429 1695.5 
z
" style="fill: #ffffff"/>
   </g>
   <g id="patch_190">
    <path d="M 442.227273 1943 
L 478.716301 1943 
L 478.716301 1707.285714 
L 442.227273 1707.285714 
z
" clip-path="url(#p511f4d7b5c)" style="fill: #0000ff"/>
   </g>
   <g id="patch_191">
    <path d="M 487.838558 1943 
L 524.327586 1943 
L 524.327586 1763.408163 
L 487.838558 1763.408163 
z
" clip-path="url(#p511f4d7b5c)" style="fill: #ffa500"/>
   </g>
   <g id="patch_192">
    <path d="M 533.449843 1943 
L 569.938871 1943 
L 569.938871 1752.183673 
L 533.449843 1752.183673 
z
" clip-path="url(#p511f4d7b5c)" style="fill: #008000"/>
   </g>
   <g id="patch_193">
    <path d="M 579.061129 1943 
L 615.550157 1943 
L 615.550157 1774.632653 
L 579.061129 1774.632653 
z
" clip-path="url(#p511f4d7b5c)" style="fill: #ff0000"/>
   </g>
   <g id="patch_194">
    <path d="M 624.672414 1943 
L 661.161442 1943 
L 661.161442 1752.183673 
L 624.672414 1752.183673 
z
" clip-path="url(#p511f4d7b5c)" style="fill: #800080"/>
   </g>
   <g id="patch_195">
    <path d="M 670.283699 1943 
L 706.772727 1943 
L 706.772727 1740.959184 
L 670.283699 1740.959184 
z
" clip-path="url(#p511f4d7b5c)" style="fill: #a52a2a"/>
   </g>
   <g id="matplotlib.axis_35">
    <g id="xtick_103">
     <g id="line2d_437">
      <path d="M 460.471787 1943 
L 460.471787 1695.5 
" clip-path="url(#p511f4d7b5c)" style="fill: none; stroke: #b0b0b0; stroke-width: 0.8; stroke-linecap: square"/>
     </g>
     <g id="line2d_438">
      <g>
       <path d="M 0 0 
L 0 3.5 
" transform="translate(460.471787 1943)" style="stroke: #000000; stroke-width: 0.8"/>
      </g>
     </g>
     <g id="text_270">
      <text style="font-size: 13.7px; font-family: 'DejaVu Sans', sans-serif" transform="translate(444.190963 1996.268744) rotate(-45)">Original</text>
     </g>
    </g>
    <g id="xtick_104">
     <g id="line2d_439">
      <path d="M 506.083072 1943 
L 506.083072 1695.5 
" clip-path="url(#p511f4d7b5c)" style="fill: none; stroke: #b0b0b0; stroke-width: 0.8; stroke-linecap: square"/>
     </g>
     <g id="line2d_440">
      <g>
       <path d="M 0 0 
L 0 3.5 
" transform="translate(506.083072 1943)" style="stroke: #000000; stroke-width: 0.8"/>
      </g>
     </g>
     <g id="text_271">
      <text style="font-size: 13.7px; font-family: 'DejaVu Sans', sans-serif" transform="translate(488.277245 1999.31875) rotate(-45)">Top 80%</text>
     </g>
    </g>
    <g id="xtick_105">
     <g id="line2d_441">
      <path d="M 551.694357 1943 
L 551.694357 1695.5 
" clip-path="url(#p511f4d7b5c)" style="fill: none; stroke: #b0b0b0; stroke-width: 0.8; stroke-linecap: square"/>
     </g>
     <g id="line2d_442">
      <g>
       <path d="M 0 0 
L 0 3.5 
" transform="translate(551.694357 1943)" style="stroke: #000000; stroke-width: 0.8"/>
      </g>
     </g>
     <g id="text_272">
      <text style="font-size: 13.7px; font-family: 'DejaVu Sans', sans-serif" transform="translate(533.88853 1999.31875) rotate(-45)">Top 60%</text>
     </g>
    </g>
    <g id="xtick_106">
     <g id="line2d_443">
      <path d="M 597.305643 1943 
L 597.305643 1695.5 
" clip-path="url(#p511f4d7b5c)" style="fill: none; stroke: #b0b0b0; stroke-width: 0.8; stroke-linecap: square"/>
     </g>
     <g id="line2d_444">
      <g>
       <path d="M 0 0 
L 0 3.5 
" transform="translate(597.305643 1943)" style="stroke: #000000; stroke-width: 0.8"/>
      </g>
     </g>
     <g id="text_273">
      <text style="font-size: 13.7px; font-family: 'DejaVu Sans', sans-serif" transform="translate(579.499816 1999.31875) rotate(-45)">Top 50%</text>
     </g>
    </g>
    <g id="xtick_107">
     <g id="line2d_445">
      <path d="M 642.916928 1943 
L 642.916928 1695.5 
" clip-path="url(#p511f4d7b5c)" style="fill: none; stroke: #b0b0b0; stroke-width: 0.8; stroke-linecap: square"/>
     </g>
     <g id="line2d_446">
      <g>
       <path d="M 0 0 
L 0 3.5 
" transform="translate(642.916928 1943)" style="stroke: #000000; stroke-width: 0.8"/>
      </g>
     </g>
     <g id="text_274">
      <text style="font-size: 13.7px; font-family: 'DejaVu Sans', sans-serif" transform="translate(625.111101 1999.31875) rotate(-45)">Top 40%</text>
     </g>
    </g>
    <g id="xtick_108">
     <g id="line2d_447">
      <path d="M 688.528213 1943 
L 688.528213 1695.5 
" clip-path="url(#p511f4d7b5c)" style="fill: none; stroke: #b0b0b0; stroke-width: 0.8; stroke-linecap: square"/>
     </g>
     <g id="line2d_448">
      <g>
       <path d="M 0 0 
L 0 3.5 
" transform="translate(688.528213 1943)" style="stroke: #000000; stroke-width: 0.8"/>
      </g>
     </g>
     <g id="text_275">
      <text style="font-size: 13.7px; font-family: 'DejaVu Sans', sans-serif" transform="translate(670.722386 1999.31875) rotate(-45)">Top 20%</text>
     </g>
    </g>
    <g id="text_276">
     <text style="font-size: 15.7px; font-family: 'DejaVu Sans', sans-serif; text-anchor: middle" x="574.5" y="2017.262965" transform="rotate(-0 574.5 2017.262965)">Selected Features of emotions dataset</text>
    </g>
   </g>
   <g id="matplotlib.axis_36">
    <g id="ytick_117">
     <g id="line2d_449">
      <path d="M 429 1943 
L 720 1943 
" clip-path="url(#p511f4d7b5c)" style="fill: none; stroke: #b0b0b0; stroke-width: 0.8; stroke-linecap: square"/>
     </g>
     <g id="line2d_450">
      <g>
       <path d="M 0 0 
L -3.5 0 
" transform="translate(429 1943)" style="stroke: #000000; stroke-width: 0.8"/>
      </g>
     </g>
     <g id="text_277">
      <text style="font-size: 12px; font-family: 'DejaVu Sans', sans-serif; text-anchor: end" x="421.5" y="1947.559062" transform="rotate(-0 421.5 1947.559062)" textLength="17.88" lengthAdjust="spacing">0.0</text>
     </g>
    </g>
    <g id="ytick_118">
     <g id="line2d_451">
      <path d="M 429 1914.938776 
L 720 1914.938776 
" clip-path="url(#p511f4d7b5c)" style="fill: none; stroke: #b0b0b0; stroke-width: 0.8; stroke-linecap: square"/>
     </g>
     <g id="line2d_452">
      <g>
       <path d="M 0 0 
L -3.5 0 
" transform="translate(429 1914.938776)" style="stroke: #000000; stroke-width: 0.8"/>
      </g>
     </g>
     <g id="text_278">
      <text style="font-size: 12px; font-family: 'DejaVu Sans', sans-serif; text-anchor: end" x="421.5" y="1919.497838" transform="rotate(-0 421.5 1919.497838)" textLength="17.88" lengthAdjust="spacing">2.5</text>
     </g>
    </g>
    <g id="ytick_119">
     <g id="line2d_453">
      <path d="M 429 1886.877551 
L 720 1886.877551 
" clip-path="url(#p511f4d7b5c)" style="fill: none; stroke: #b0b0b0; stroke-width: 0.8; stroke-linecap: square"/>
     </g>
     <g id="line2d_454">
      <g>
       <path d="M 0 0 
L -3.5 0 
" transform="translate(429 1886.877551)" style="stroke: #000000; stroke-width: 0.8"/>
      </g>
     </g>
     <g id="text_279">
      <text style="font-size: 12px; font-family: 'DejaVu Sans', sans-serif; text-anchor: end" x="421.5" y="1891.436614" transform="rotate(-0 421.5 1891.436614)" textLength="17.88" lengthAdjust="spacing">5.0</text>
     </g>
    </g>
    <g id="ytick_120">
     <g id="line2d_455">
      <path d="M 429 1858.816327 
L 720 1858.816327 
" clip-path="url(#p511f4d7b5c)" style="fill: none; stroke: #b0b0b0; stroke-width: 0.8; stroke-linecap: square"/>
     </g>
     <g id="line2d_456">
      <g>
       <path d="M 0 0 
L -3.5 0 
" transform="translate(429 1858.816327)" style="stroke: #000000; stroke-width: 0.8"/>
      </g>
     </g>
     <g id="text_280">
      <text style="font-size: 12px; font-family: 'DejaVu Sans', sans-serif; text-anchor: end" x="421.5" y="1863.375389" transform="rotate(-0 421.5 1863.375389)" textLength="17.88" lengthAdjust="spacing">7.5</text>
     </g>
    </g>
    <g id="ytick_121">
     <g id="line2d_457">
      <path d="M 429 1830.755102 
L 720 1830.755102 
" clip-path="url(#p511f4d7b5c)" style="fill: none; stroke: #b0b0b0; stroke-width: 0.8; stroke-linecap: square"/>
     </g>
     <g id="line2d_458">
      <g>
       <path d="M 0 0 
L -3.5 0 
" transform="translate(429 1830.755102)" style="stroke: #000000; stroke-width: 0.8"/>
      </g>
     </g>
     <g id="text_281">
      <text style="font-size: 12px; font-family: 'DejaVu Sans', sans-serif; text-anchor: end" x="421.5" y="1835.314165" transform="rotate(-0 421.5 1835.314165)" textLength="24.92" lengthAdjust="spacing">10.0</text>
     </g>
    </g>
    <g id="ytick_122">
     <g id="line2d_459">
      <path d="M 429 1802.693878 
L 720 1802.693878 
" clip-path="url(#p511f4d7b5c)" style="fill: none; stroke: #b0b0b0; stroke-width: 0.8; stroke-linecap: square"/>
     </g>
     <g id="line2d_460">
      <g>
       <path d="M 0 0 
L -3.5 0 
" transform="translate(429 1802.693878)" style="stroke: #000000; stroke-width: 0.8"/>
      </g>
     </g>
     <g id="text_282">
      <text style="font-size: 12px; font-family: 'DejaVu Sans', sans-serif; text-anchor: end" x="421.5" y="1807.25294" transform="rotate(-0 421.5 1807.25294)" textLength="24.92" lengthAdjust="spacing">12.5</text>
     </g>
    </g>
    <g id="ytick_123">
     <g id="line2d_461">
      <path d="M 429 1774.632653 
L 720 1774.632653 
" clip-path="url(#p511f4d7b5c)" style="fill: none; stroke: #b0b0b0; stroke-width: 0.8; stroke-linecap: square"/>
     </g>
     <g id="line2d_462">
      <g>
       <path d="M 0 0 
L -3.5 0 
" transform="translate(429 1774.632653)" style="stroke: #000000; stroke-width: 0.8"/>
      </g>
     </g>
     <g id="text_283">
      <text style="font-size: 12px; font-family: 'DejaVu Sans', sans-serif; text-anchor: end" x="421.5" y="1779.191716" transform="rotate(-0 421.5 1779.191716)" textLength="24.92" lengthAdjust="spacing">15.0</text>
     </g>
    </g>
    <g id="ytick_124">
     <g id="line2d_463">
      <path d="M 429 1746.571429 
L 720 1746.571429 
" clip-path="url(#p511f4d7b5c)" style="fill: none; stroke: #b0b0b0; stroke-width: 0.8; stroke-linecap: square"/>
     </g>
     <g id="line2d_464">
      <g>
       <path d="M 0 0 
L -3.5 0 
" transform="translate(429 1746.571429)" style="stroke: #000000; stroke-width: 0.8"/>
      </g>
     </g>
     <g id="text_284">
      <text style="font-size: 12px; font-family: 'DejaVu Sans', sans-serif; text-anchor: end" x="421.5" y="1751.130491" transform="rotate(-0 421.5 1751.130491)" textLength="24.92" lengthAdjust="spacing">17.5</text>
     </g>
    </g>
    <g id="ytick_125">
     <g id="line2d_465">
      <path d="M 429 1718.510204 
L 720 1718.510204 
" clip-path="url(#p511f4d7b5c)" style="fill: none; stroke: #b0b0b0; stroke-width: 0.8; stroke-linecap: square"/>
     </g>
     <g id="line2d_466">
      <g>
       <path d="M 0 0 
L -3.5 0 
" transform="translate(429 1718.510204)" style="stroke: #000000; stroke-width: 0.8"/>
      </g>
     </g>
     <g id="text_285">
      <text style="font-size: 12px; font-family: 'DejaVu Sans', sans-serif; text-anchor: end" x="421.5" y="1723.069267" transform="rotate(-0 421.5 1723.069267)" textLength="24.92" lengthAdjust="spacing">20.0</text>
     </g>
    </g>
    <g id="text_286">
     <text style="font-size: 15.7px; font-family: 'DejaVu Sans', sans-serif; text-anchor: middle" x="389.316141" y="1819.25" transform="rotate(-90 389.316141 1819.25)">Training time of emotions dataset</text>
    </g>
   </g>
   <g id="patch_196">
    <path d="M 429 1943 
L 429 1695.5 
" style="fill: none; stroke: #000000; stroke-width: 0.8; stroke-linejoin: miter; stroke-linecap: square"/>
   </g>
   <g id="patch_197">
    <path d="M 720 1943 
L 720 1695.5 
" style="fill: none; stroke: #000000; stroke-width: 0.8; stroke-linejoin: miter; stroke-linecap: square"/>
   </g>
   <g id="patch_198">
    <path d="M 429 1943 
L 720 1943 
" style="fill: none; stroke: #000000; stroke-width: 0.8; stroke-linejoin: miter; stroke-linecap: square"/>
   </g>
   <g id="patch_199">
    <path d="M 429 1695.5 
L 720 1695.5 
" style="fill: none; stroke: #000000; stroke-width: 0.8; stroke-linejoin: miter; stroke-linecap: square"/>
   </g>
   <g id="text_287">
    <text style="font-size: 18.05px; font-family: 'DejaVu Sans', sans-serif; text-anchor: middle" x="574.5" y="1689.5" transform="rotate(-0 574.5 1689.5)">Classifier : MLTSVM</text>
   </g>
  </g>
  <g id="axes_19">
   <g id="patch_200">
    <path d="M 793 1943 
L 1084 1943 
L 1084 1695.5 
L 793 1695.5 
z
" style="fill: #ffffff"/>
   </g>
   <g id="patch_201">
    <path d="M 806.227273 1943 
L 842.716301 1943 
L 842.716301 1707.285714 
L 806.227273 1707.285714 
z
" clip-path="url(#p5c9fbdf861)" style="fill: #0000ff"/>
   </g>
   <g id="patch_202">
    <path d="M 851.838558 1943 
L 888.327586 1943 
L 888.327586 1707.285714 
L 851.838558 1707.285714 
z
" clip-path="url(#p5c9fbdf861)" style="fill: #ffa500"/>
   </g>
   <g id="patch_203">
    <path d="M 897.449843 1943 
L 933.938871 1943 
L 933.938871 1825.142857 
L 897.449843 1825.142857 
z
" clip-path="url(#p5c9fbdf861)" style="fill: #008000"/>
   </g>
   <g id="patch_204">
    <path d="M 943.061129 1943 
L 979.550157 1943 
L 979.550157 1825.142857 
L 943.061129 1825.142857 
z
" clip-path="url(#p5c9fbdf861)" style="fill: #ff0000"/>
   </g>
   <g id="patch_205">
    <path d="M 988.672414 1943 
L 1025.161442 1943 
L 1025.161442 1825.142857 
L 988.672414 1825.142857 
z
" clip-path="url(#p5c9fbdf861)" style="fill: #800080"/>
   </g>
   <g id="patch_206">
    <path d="M 1034.283699 1943 
L 1070.772727 1943 
L 1070.772727 1825.142857 
L 1034.283699 1825.142857 
z
" clip-path="url(#p5c9fbdf861)" style="fill: #a52a2a"/>
   </g>
   <g id="matplotlib.axis_37">
    <g id="xtick_109">
     <g id="line2d_467">
      <path d="M 824.471787 1943 
L 824.471787 1695.5 
" clip-path="url(#p5c9fbdf861)" style="fill: none; stroke: #b0b0b0; stroke-width: 0.8; stroke-linecap: square"/>
     </g>
     <g id="line2d_468">
      <g>
       <path d="M 0 0 
L 0 3.5 
" transform="translate(824.471787 1943)" style="stroke: #000000; stroke-width: 0.8"/>
      </g>
     </g>
     <g id="text_288">
      <text style="font-size: 13.7px; font-family: 'DejaVu Sans', sans-serif" transform="translate(808.190963 1996.268744) rotate(-45)">Original</text>
     </g>
    </g>
    <g id="xtick_110">
     <g id="line2d_469">
      <path d="M 870.083072 1943 
L 870.083072 1695.5 
" clip-path="url(#p5c9fbdf861)" style="fill: none; stroke: #b0b0b0; stroke-width: 0.8; stroke-linecap: square"/>
     </g>
     <g id="line2d_470">
      <g>
       <path d="M 0 0 
L 0 3.5 
" transform="translate(870.083072 1943)" style="stroke: #000000; stroke-width: 0.8"/>
      </g>
     </g>
     <g id="text_289">
      <text style="font-size: 13.7px; font-family: 'DejaVu Sans', sans-serif" transform="translate(852.277245 1999.31875) rotate(-45)">Top 80%</text>
     </g>
    </g>
    <g id="xtick_111">
     <g id="line2d_471">
      <path d="M 915.694357 1943 
L 915.694357 1695.5 
" clip-path="url(#p5c9fbdf861)" style="fill: none; stroke: #b0b0b0; stroke-width: 0.8; stroke-linecap: square"/>
     </g>
     <g id="line2d_472">
      <g>
       <path d="M 0 0 
L 0 3.5 
" transform="translate(915.694357 1943)" style="stroke: #000000; stroke-width: 0.8"/>
      </g>
     </g>
     <g id="text_290">
      <text style="font-size: 13.7px; font-family: 'DejaVu Sans', sans-serif" transform="translate(897.88853 1999.31875) rotate(-45)">Top 60%</text>
     </g>
    </g>
    <g id="xtick_112">
     <g id="line2d_473">
      <path d="M 961.305643 1943 
L 961.305643 1695.5 
" clip-path="url(#p5c9fbdf861)" style="fill: none; stroke: #b0b0b0; stroke-width: 0.8; stroke-linecap: square"/>
     </g>
     <g id="line2d_474">
      <g>
       <path d="M 0 0 
L 0 3.5 
" transform="translate(961.305643 1943)" style="stroke: #000000; stroke-width: 0.8"/>
      </g>
     </g>
     <g id="text_291">
      <text style="font-size: 13.7px; font-family: 'DejaVu Sans', sans-serif" transform="translate(943.499816 1999.31875) rotate(-45)">Top 50%</text>
     </g>
    </g>
    <g id="xtick_113">
     <g id="line2d_475">
      <path d="M 1006.916928 1943 
L 1006.916928 1695.5 
" clip-path="url(#p5c9fbdf861)" style="fill: none; stroke: #b0b0b0; stroke-width: 0.8; stroke-linecap: square"/>
     </g>
     <g id="line2d_476">
      <g>
       <path d="M 0 0 
L 0 3.5 
" transform="translate(1006.916928 1943)" style="stroke: #000000; stroke-width: 0.8"/>
      </g>
     </g>
     <g id="text_292">
      <text style="font-size: 13.7px; font-family: 'DejaVu Sans', sans-serif" transform="translate(989.111101 1999.31875) rotate(-45)">Top 40%</text>
     </g>
    </g>
    <g id="xtick_114">
     <g id="line2d_477">
      <path d="M 1052.528213 1943 
L 1052.528213 1695.5 
" clip-path="url(#p5c9fbdf861)" style="fill: none; stroke: #b0b0b0; stroke-width: 0.8; stroke-linecap: square"/>
     </g>
     <g id="line2d_478">
      <g>
       <path d="M 0 0 
L 0 3.5 
" transform="translate(1052.528213 1943)" style="stroke: #000000; stroke-width: 0.8"/>
      </g>
     </g>
     <g id="text_293">
      <text style="font-size: 13.7px; font-family: 'DejaVu Sans', sans-serif" transform="translate(1034.722386 1999.31875) rotate(-45)">Top 20%</text>
     </g>
    </g>
    <g id="text_294">
     <text style="font-size: 15.7px; font-family: 'DejaVu Sans', sans-serif; text-anchor: middle" x="938.5" y="2017.262965" transform="rotate(-0 938.5 2017.262965)">Selected Features of emotions dataset</text>
    </g>
   </g>
   <g id="matplotlib.axis_38">
    <g id="ytick_126">
     <g id="line2d_479">
      <path d="M 793 1943 
L 1084 1943 
" clip-path="url(#p5c9fbdf861)" style="fill: none; stroke: #b0b0b0; stroke-width: 0.8; stroke-linecap: square"/>
     </g>
     <g id="line2d_480">
      <g>
       <path d="M 0 0 
L -3.5 0 
" transform="translate(793 1943)" style="stroke: #000000; stroke-width: 0.8"/>
      </g>
     </g>
     <g id="text_295">
      <text style="font-size: 12px; font-family: 'DejaVu Sans', sans-serif; text-anchor: end" x="785.5" y="1947.559062" transform="rotate(-0 785.5 1947.559062)" textLength="24.92" lengthAdjust="spacing">0.00</text>
     </g>
    </g>
    <g id="ytick_127">
     <g id="line2d_481">
      <path d="M 793 1913.535714 
L 1084 1913.535714 
" clip-path="url(#p5c9fbdf861)" style="fill: none; stroke: #b0b0b0; stroke-width: 0.8; stroke-linecap: square"/>
     </g>
     <g id="line2d_482">
      <g>
       <path d="M 0 0 
L -3.5 0 
" transform="translate(793 1913.535714)" style="stroke: #000000; stroke-width: 0.8"/>
      </g>
     </g>
     <g id="text_296">
      <text style="font-size: 12px; font-family: 'DejaVu Sans', sans-serif; text-anchor: end" x="785.5" y="1918.094777" transform="rotate(-0 785.5 1918.094777)" textLength="24.92" lengthAdjust="spacing">0.25</text>
     </g>
    </g>
    <g id="ytick_128">
     <g id="line2d_483">
      <path d="M 793 1884.071429 
L 1084 1884.071429 
" clip-path="url(#p5c9fbdf861)" style="fill: none; stroke: #b0b0b0; stroke-width: 0.8; stroke-linecap: square"/>
     </g>
     <g id="line2d_484">
      <g>
       <path d="M 0 0 
L -3.5 0 
" transform="translate(793 1884.071429)" style="stroke: #000000; stroke-width: 0.8"/>
      </g>
     </g>
     <g id="text_297">
      <text style="font-size: 12px; font-family: 'DejaVu Sans', sans-serif; text-anchor: end" x="785.5" y="1888.630491" transform="rotate(-0 785.5 1888.630491)" textLength="24.92" lengthAdjust="spacing">0.50</text>
     </g>
    </g>
    <g id="ytick_129">
     <g id="line2d_485">
      <path d="M 793 1854.607143 
L 1084 1854.607143 
" clip-path="url(#p5c9fbdf861)" style="fill: none; stroke: #b0b0b0; stroke-width: 0.8; stroke-linecap: square"/>
     </g>
     <g id="line2d_486">
      <g>
       <path d="M 0 0 
L -3.5 0 
" transform="translate(793 1854.607143)" style="stroke: #000000; stroke-width: 0.8"/>
      </g>
     </g>
     <g id="text_298">
      <text style="font-size: 12px; font-family: 'DejaVu Sans', sans-serif; text-anchor: end" x="785.5" y="1859.166205" transform="rotate(-0 785.5 1859.166205)" textLength="24.92" lengthAdjust="spacing">0.75</text>
     </g>
    </g>
    <g id="ytick_130">
     <g id="line2d_487">
      <path d="M 793 1825.142857 
L 1084 1825.142857 
" clip-path="url(#p5c9fbdf861)" style="fill: none; stroke: #b0b0b0; stroke-width: 0.8; stroke-linecap: square"/>
     </g>
     <g id="line2d_488">
      <g>
       <path d="M 0 0 
L -3.5 0 
" transform="translate(793 1825.142857)" style="stroke: #000000; stroke-width: 0.8"/>
      </g>
     </g>
     <g id="text_299">
      <text style="font-size: 12px; font-family: 'DejaVu Sans', sans-serif; text-anchor: end" x="785.5" y="1829.70192" transform="rotate(-0 785.5 1829.70192)" textLength="24.92" lengthAdjust="spacing">1.00</text>
     </g>
    </g>
    <g id="ytick_131">
     <g id="line2d_489">
      <path d="M 793 1795.678571 
L 1084 1795.678571 
" clip-path="url(#p5c9fbdf861)" style="fill: none; stroke: #b0b0b0; stroke-width: 0.8; stroke-linecap: square"/>
     </g>
     <g id="line2d_490">
      <g>
       <path d="M 0 0 
L -3.5 0 
" transform="translate(793 1795.678571)" style="stroke: #000000; stroke-width: 0.8"/>
      </g>
     </g>
     <g id="text_300">
      <text style="font-size: 12px; font-family: 'DejaVu Sans', sans-serif; text-anchor: end" x="785.5" y="1800.237634" transform="rotate(-0 785.5 1800.237634)" textLength="24.92" lengthAdjust="spacing">1.25</text>
     </g>
    </g>
    <g id="ytick_132">
     <g id="line2d_491">
      <path d="M 793 1766.214286 
L 1084 1766.214286 
" clip-path="url(#p5c9fbdf861)" style="fill: none; stroke: #b0b0b0; stroke-width: 0.8; stroke-linecap: square"/>
     </g>
     <g id="line2d_492">
      <g>
       <path d="M 0 0 
L -3.5 0 
" transform="translate(793 1766.214286)" style="stroke: #000000; stroke-width: 0.8"/>
      </g>
     </g>
     <g id="text_301">
      <text style="font-size: 12px; font-family: 'DejaVu Sans', sans-serif; text-anchor: end" x="785.5" y="1770.773348" transform="rotate(-0 785.5 1770.773348)" textLength="24.92" lengthAdjust="spacing">1.50</text>
     </g>
    </g>
    <g id="ytick_133">
     <g id="line2d_493">
      <path d="M 793 1736.75 
L 1084 1736.75 
" clip-path="url(#p5c9fbdf861)" style="fill: none; stroke: #b0b0b0; stroke-width: 0.8; stroke-linecap: square"/>
     </g>
     <g id="line2d_494">
      <g>
       <path d="M 0 0 
L -3.5 0 
" transform="translate(793 1736.75)" style="stroke: #000000; stroke-width: 0.8"/>
      </g>
     </g>
     <g id="text_302">
      <text style="font-size: 12px; font-family: 'DejaVu Sans', sans-serif; text-anchor: end" x="785.5" y="1741.309062" transform="rotate(-0 785.5 1741.309062)" textLength="24.92" lengthAdjust="spacing">1.75</text>
     </g>
    </g>
    <g id="ytick_134">
     <g id="line2d_495">
      <path d="M 793 1707.285714 
L 1084 1707.285714 
" clip-path="url(#p5c9fbdf861)" style="fill: none; stroke: #b0b0b0; stroke-width: 0.8; stroke-linecap: square"/>
     </g>
     <g id="line2d_496">
      <g>
       <path d="M 0 0 
L -3.5 0 
" transform="translate(793 1707.285714)" style="stroke: #000000; stroke-width: 0.8"/>
      </g>
     </g>
     <g id="text_303">
      <text style="font-size: 12px; font-family: 'DejaVu Sans', sans-serif; text-anchor: end" x="785.5" y="1711.844777" transform="rotate(-0 785.5 1711.844777)" textLength="24.92" lengthAdjust="spacing">2.00</text>
     </g>
    </g>
    <g id="text_304">
     <text style="font-size: 15.7px; font-family: 'DejaVu Sans', sans-serif; text-anchor: middle" x="753.316141" y="1819.25" transform="rotate(-90 753.316141 1819.25)">Training time of emotions dataset</text>
    </g>
   </g>
   <g id="patch_207">
    <path d="M 793 1943 
L 793 1695.5 
" style="fill: none; stroke: #000000; stroke-width: 0.8; stroke-linejoin: miter; stroke-linecap: square"/>
   </g>
   <g id="patch_208">
    <path d="M 1084 1943 
L 1084 1695.5 
" style="fill: none; stroke: #000000; stroke-width: 0.8; stroke-linejoin: miter; stroke-linecap: square"/>
   </g>
   <g id="patch_209">
    <path d="M 793 1943 
L 1084 1943 
" style="fill: none; stroke: #000000; stroke-width: 0.8; stroke-linejoin: miter; stroke-linecap: square"/>
   </g>
   <g id="patch_210">
    <path d="M 793 1695.5 
L 1084 1695.5 
" style="fill: none; stroke: #000000; stroke-width: 0.8; stroke-linejoin: miter; stroke-linecap: square"/>
   </g>
   <g id="text_305">
    <text style="font-size: 18.05px; font-family: 'DejaVu Sans', sans-serif; text-anchor: middle" x="938.5" y="1689.5" transform="rotate(-0 938.5 1689.5)">Classifier : BRKNNa</text>
   </g>
  </g>
  <g id="axes_20">
   <g id="patch_211">
    <path d="M 1158 1943 
L 1449 1943 
L 1449 1695.5 
L 1158 1695.5 
z
" style="fill: #ffffff"/>
   </g>
   <g id="patch_212">
    <path d="M 1171.227273 1943 
L 1207.716301 1943 
L 1207.716301 1707.285714 
L 1171.227273 1707.285714 
z
" clip-path="url(#pd69478e0a8)" style="fill: #0000ff"/>
   </g>
   <g id="patch_213">
    <path d="M 1216.838558 1943 
L 1253.327586 1943 
L 1253.327586 1707.285714 
L 1216.838558 1707.285714 
z
" clip-path="url(#pd69478e0a8)" style="fill: #ffa500"/>
   </g>
   <g id="patch_214">
    <path d="M 1262.449843 1943 
L 1298.938871 1943 
L 1298.938871 1707.285714 
L 1262.449843 1707.285714 
z
" clip-path="url(#pd69478e0a8)" style="fill: #008000"/>
   </g>
   <g id="patch_215">
    <path d="M 1308.061129 1943 
L 1344.550157 1943 
L 1344.550157 1707.285714 
L 1308.061129 1707.285714 
z
" clip-path="url(#pd69478e0a8)" style="fill: #ff0000"/>
   </g>
   <g id="patch_216">
    <path d="M 1353.672414 1943 
L 1390.161442 1943 
L 1390.161442 1707.285714 
L 1353.672414 1707.285714 
z
" clip-path="url(#pd69478e0a8)" style="fill: #800080"/>
   </g>
   <g id="patch_217">
    <path d="M 1399.283699 1943 
L 1435.772727 1943 
L 1435.772727 1707.285714 
L 1399.283699 1707.285714 
z
" clip-path="url(#pd69478e0a8)" style="fill: #a52a2a"/>
   </g>
   <g id="matplotlib.axis_39">
    <g id="xtick_115">
     <g id="line2d_497">
      <path d="M 1189.471787 1943 
L 1189.471787 1695.5 
" clip-path="url(#pd69478e0a8)" style="fill: none; stroke: #b0b0b0; stroke-width: 0.8; stroke-linecap: square"/>
     </g>
     <g id="line2d_498">
      <g>
       <path d="M 0 0 
L 0 3.5 
" transform="translate(1189.471787 1943)" style="stroke: #000000; stroke-width: 0.8"/>
      </g>
     </g>
     <g id="text_306">
      <text style="font-size: 13.7px; font-family: 'DejaVu Sans', sans-serif" transform="translate(1173.190963 1996.268744) rotate(-45)">Original</text>
     </g>
    </g>
    <g id="xtick_116">
     <g id="line2d_499">
      <path d="M 1235.083072 1943 
L 1235.083072 1695.5 
" clip-path="url(#pd69478e0a8)" style="fill: none; stroke: #b0b0b0; stroke-width: 0.8; stroke-linecap: square"/>
     </g>
     <g id="line2d_500">
      <g>
       <path d="M 0 0 
L 0 3.5 
" transform="translate(1235.083072 1943)" style="stroke: #000000; stroke-width: 0.8"/>
      </g>
     </g>
     <g id="text_307">
      <text style="font-size: 13.7px; font-family: 'DejaVu Sans', sans-serif" transform="translate(1217.277245 1999.31875) rotate(-45)">Top 80%</text>
     </g>
    </g>
    <g id="xtick_117">
     <g id="line2d_501">
      <path d="M 1280.694357 1943 
L 1280.694357 1695.5 
" clip-path="url(#pd69478e0a8)" style="fill: none; stroke: #b0b0b0; stroke-width: 0.8; stroke-linecap: square"/>
     </g>
     <g id="line2d_502">
      <g>
       <path d="M 0 0 
L 0 3.5 
" transform="translate(1280.694357 1943)" style="stroke: #000000; stroke-width: 0.8"/>
      </g>
     </g>
     <g id="text_308">
      <text style="font-size: 13.7px; font-family: 'DejaVu Sans', sans-serif" transform="translate(1262.88853 1999.31875) rotate(-45)">Top 60%</text>
     </g>
    </g>
    <g id="xtick_118">
     <g id="line2d_503">
      <path d="M 1326.305643 1943 
L 1326.305643 1695.5 
" clip-path="url(#pd69478e0a8)" style="fill: none; stroke: #b0b0b0; stroke-width: 0.8; stroke-linecap: square"/>
     </g>
     <g id="line2d_504">
      <g>
       <path d="M 0 0 
L 0 3.5 
" transform="translate(1326.305643 1943)" style="stroke: #000000; stroke-width: 0.8"/>
      </g>
     </g>
     <g id="text_309">
      <text style="font-size: 13.7px; font-family: 'DejaVu Sans', sans-serif" transform="translate(1308.499816 1999.31875) rotate(-45)">Top 50%</text>
     </g>
    </g>
    <g id="xtick_119">
     <g id="line2d_505">
      <path d="M 1371.916928 1943 
L 1371.916928 1695.5 
" clip-path="url(#pd69478e0a8)" style="fill: none; stroke: #b0b0b0; stroke-width: 0.8; stroke-linecap: square"/>
     </g>
     <g id="line2d_506">
      <g>
       <path d="M 0 0 
L 0 3.5 
" transform="translate(1371.916928 1943)" style="stroke: #000000; stroke-width: 0.8"/>
      </g>
     </g>
     <g id="text_310">
      <text style="font-size: 13.7px; font-family: 'DejaVu Sans', sans-serif" transform="translate(1354.111101 1999.31875) rotate(-45)">Top 40%</text>
     </g>
    </g>
    <g id="xtick_120">
     <g id="line2d_507">
      <path d="M 1417.528213 1943 
L 1417.528213 1695.5 
" clip-path="url(#pd69478e0a8)" style="fill: none; stroke: #b0b0b0; stroke-width: 0.8; stroke-linecap: square"/>
     </g>
     <g id="line2d_508">
      <g>
       <path d="M 0 0 
L 0 3.5 
" transform="translate(1417.528213 1943)" style="stroke: #000000; stroke-width: 0.8"/>
      </g>
     </g>
     <g id="text_311">
      <text style="font-size: 13.7px; font-family: 'DejaVu Sans', sans-serif" transform="translate(1399.722386 1999.31875) rotate(-45)">Top 20%</text>
     </g>
    </g>
    <g id="text_312">
     <text style="font-size: 15.7px; font-family: 'DejaVu Sans', sans-serif; text-anchor: middle" x="1303.5" y="2017.262965" transform="rotate(-0 1303.5 2017.262965)">Selected Features of emotions dataset</text>
    </g>
   </g>
   <g id="matplotlib.axis_40">
    <g id="ytick_135">
     <g id="line2d_509">
      <path d="M 1158 1943 
L 1449 1943 
" clip-path="url(#pd69478e0a8)" style="fill: none; stroke: #b0b0b0; stroke-width: 0.8; stroke-linecap: square"/>
     </g>
     <g id="line2d_510">
      <g>
       <path d="M 0 0 
L -3.5 0 
" transform="translate(1158 1943)" style="stroke: #000000; stroke-width: 0.8"/>
      </g>
     </g>
     <g id="text_313">
      <text style="font-size: 12px; font-family: 'DejaVu Sans', sans-serif; text-anchor: end" x="1150.5" y="1947.559062" transform="rotate(-0 1150.5 1947.559062)" textLength="17.88" lengthAdjust="spacing">0.0</text>
     </g>
    </g>
    <g id="ytick_136">
     <g id="line2d_511">
      <path d="M 1158 1895.857143 
L 1449 1895.857143 
" clip-path="url(#pd69478e0a8)" style="fill: none; stroke: #b0b0b0; stroke-width: 0.8; stroke-linecap: square"/>
     </g>
     <g id="line2d_512">
      <g>
       <path d="M 0 0 
L -3.5 0 
" transform="translate(1158 1895.857143)" style="stroke: #000000; stroke-width: 0.8"/>
      </g>
     </g>
     <g id="text_314">
      <text style="font-size: 12px; font-family: 'DejaVu Sans', sans-serif; text-anchor: end" x="1150.5" y="1900.416205" transform="rotate(-0 1150.5 1900.416205)" textLength="17.88" lengthAdjust="spacing">0.2</text>
     </g>
    </g>
    <g id="ytick_137">
     <g id="line2d_513">
      <path d="M 1158 1848.714286 
L 1449 1848.714286 
" clip-path="url(#pd69478e0a8)" style="fill: none; stroke: #b0b0b0; stroke-width: 0.8; stroke-linecap: square"/>
     </g>
     <g id="line2d_514">
      <g>
       <path d="M 0 0 
L -3.5 0 
" transform="translate(1158 1848.714286)" style="stroke: #000000; stroke-width: 0.8"/>
      </g>
     </g>
     <g id="text_315">
      <text style="font-size: 12px; font-family: 'DejaVu Sans', sans-serif; text-anchor: end" x="1150.5" y="1853.273348" transform="rotate(-0 1150.5 1853.273348)" textLength="17.88" lengthAdjust="spacing">0.4</text>
     </g>
    </g>
    <g id="ytick_138">
     <g id="line2d_515">
      <path d="M 1158 1801.571429 
L 1449 1801.571429 
" clip-path="url(#pd69478e0a8)" style="fill: none; stroke: #b0b0b0; stroke-width: 0.8; stroke-linecap: square"/>
     </g>
     <g id="line2d_516">
      <g>
       <path d="M 0 0 
L -3.5 0 
" transform="translate(1158 1801.571429)" style="stroke: #000000; stroke-width: 0.8"/>
      </g>
     </g>
     <g id="text_316">
      <text style="font-size: 12px; font-family: 'DejaVu Sans', sans-serif; text-anchor: end" x="1150.5" y="1806.130491" transform="rotate(-0 1150.5 1806.130491)" textLength="17.88" lengthAdjust="spacing">0.6</text>
     </g>
    </g>
    <g id="ytick_139">
     <g id="line2d_517">
      <path d="M 1158 1754.428571 
L 1449 1754.428571 
" clip-path="url(#pd69478e0a8)" style="fill: none; stroke: #b0b0b0; stroke-width: 0.8; stroke-linecap: square"/>
     </g>
     <g id="line2d_518">
      <g>
       <path d="M 0 0 
L -3.5 0 
" transform="translate(1158 1754.428571)" style="stroke: #000000; stroke-width: 0.8"/>
      </g>
     </g>
     <g id="text_317">
      <text style="font-size: 12px; font-family: 'DejaVu Sans', sans-serif; text-anchor: end" x="1150.5" y="1758.987634" transform="rotate(-0 1150.5 1758.987634)" textLength="17.88" lengthAdjust="spacing">0.8</text>
     </g>
    </g>
    <g id="ytick_140">
     <g id="line2d_519">
      <path d="M 1158 1707.285714 
L 1449 1707.285714 
" clip-path="url(#pd69478e0a8)" style="fill: none; stroke: #b0b0b0; stroke-width: 0.8; stroke-linecap: square"/>
     </g>
     <g id="line2d_520">
      <g>
       <path d="M 0 0 
L -3.5 0 
" transform="translate(1158 1707.285714)" style="stroke: #000000; stroke-width: 0.8"/>
      </g>
     </g>
     <g id="text_318">
      <text style="font-size: 12px; font-family: 'DejaVu Sans', sans-serif; text-anchor: end" x="1150.5" y="1711.844777" transform="rotate(-0 1150.5 1711.844777)" textLength="17.88" lengthAdjust="spacing">1.0</text>
     </g>
    </g>
    <g id="text_319">
     <text style="font-size: 15.7px; font-family: 'DejaVu Sans', sans-serif; text-anchor: middle" x="1125.351141" y="1819.25" transform="rotate(-90 1125.351141 1819.25)">Training time of emotions dataset</text>
    </g>
   </g>
   <g id="patch_218">
    <path d="M 1158 1943 
L 1158 1695.5 
" style="fill: none; stroke: #000000; stroke-width: 0.8; stroke-linejoin: miter; stroke-linecap: square"/>
   </g>
   <g id="patch_219">
    <path d="M 1449 1943 
L 1449 1695.5 
" style="fill: none; stroke: #000000; stroke-width: 0.8; stroke-linejoin: miter; stroke-linecap: square"/>
   </g>
   <g id="patch_220">
    <path d="M 1158 1943 
L 1449 1943 
" style="fill: none; stroke: #000000; stroke-width: 0.8; stroke-linejoin: miter; stroke-linecap: square"/>
   </g>
   <g id="patch_221">
    <path d="M 1158 1695.5 
L 1449 1695.5 
" style="fill: none; stroke: #000000; stroke-width: 0.8; stroke-linejoin: miter; stroke-linecap: square"/>
   </g>
   <g id="text_320">
    <text style="font-size: 18.05px; font-family: 'DejaVu Sans', sans-serif; text-anchor: middle" x="1303.5" y="1689.5" transform="rotate(-0 1303.5 1689.5)">Classifier : BR</text>
   </g>
  </g>
  <g id="axes_21">
   <g id="patch_222">
    <path d="M 64 2300.5 
L 355 2300.5 
L 355 2053 
L 64 2053 
z
" style="fill: #ffffff"/>
   </g>
   <g id="patch_223">
    <path d="M 77.227273 2300.5 
L 113.716301 2300.5 
L 113.716301 2064.785714 
L 77.227273 2064.785714 
z
" clip-path="url(#pfc04a13d2e)" style="fill: #0000ff"/>
   </g>
   <g id="patch_224">
    <path d="M 122.838558 2300.5 
L 159.327586 2300.5 
L 159.327586 2064.785714 
L 122.838558 2064.785714 
z
" clip-path="url(#pfc04a13d2e)" style="fill: #ffa500"/>
   </g>
   <g id="patch_225">
    <path d="M 168.449843 2300.5 
L 204.938871 2300.5 
L 204.938871 2064.785714 
L 168.449843 2064.785714 
z
" clip-path="url(#pfc04a13d2e)" style="fill: #008000"/>
   </g>
   <g id="patch_226">
    <path d="M 214.061129 2300.5 
L 250.550157 2300.5 
L 250.550157 2064.785714 
L 214.061129 2064.785714 
z
" clip-path="url(#pfc04a13d2e)" style="fill: #ff0000"/>
   </g>
   <g id="patch_227">
    <path d="M 259.672414 2300.5 
L 296.161442 2300.5 
L 296.161442 2064.785714 
L 259.672414 2064.785714 
z
" clip-path="url(#pfc04a13d2e)" style="fill: #800080"/>
   </g>
   <g id="patch_228">
    <path d="M 305.283699 2300.5 
L 341.772727 2300.5 
L 341.772727 2064.785714 
L 305.283699 2064.785714 
z
" clip-path="url(#pfc04a13d2e)" style="fill: #a52a2a"/>
   </g>
   <g id="matplotlib.axis_41">
    <g id="xtick_121">
     <g id="line2d_521">
      <path d="M 95.471787 2300.5 
L 95.471787 2053 
" clip-path="url(#pfc04a13d2e)" style="fill: none; stroke: #b0b0b0; stroke-width: 0.8; stroke-linecap: square"/>
     </g>
     <g id="line2d_522">
      <g>
       <path d="M 0 0 
L 0 3.5 
" transform="translate(95.471787 2300.5)" style="stroke: #000000; stroke-width: 0.8"/>
      </g>
     </g>
     <g id="text_321">
      <text style="font-size: 13.7px; font-family: 'DejaVu Sans', sans-serif" transform="translate(79.190963 2353.768744) rotate(-45)">Original</text>
     </g>
    </g>
    <g id="xtick_122">
     <g id="line2d_523">
      <path d="M 141.083072 2300.5 
L 141.083072 2053 
" clip-path="url(#pfc04a13d2e)" style="fill: none; stroke: #b0b0b0; stroke-width: 0.8; stroke-linecap: square"/>
     </g>
     <g id="line2d_524">
      <g>
       <path d="M 0 0 
L 0 3.5 
" transform="translate(141.083072 2300.5)" style="stroke: #000000; stroke-width: 0.8"/>
      </g>
     </g>
     <g id="text_322">
      <text style="font-size: 13.7px; font-family: 'DejaVu Sans', sans-serif" transform="translate(123.277245 2356.81875) rotate(-45)">Top 80%</text>
     </g>
    </g>
    <g id="xtick_123">
     <g id="line2d_525">
      <path d="M 186.694357 2300.5 
L 186.694357 2053 
" clip-path="url(#pfc04a13d2e)" style="fill: none; stroke: #b0b0b0; stroke-width: 0.8; stroke-linecap: square"/>
     </g>
     <g id="line2d_526">
      <g>
       <path d="M 0 0 
L 0 3.5 
" transform="translate(186.694357 2300.5)" style="stroke: #000000; stroke-width: 0.8"/>
      </g>
     </g>
     <g id="text_323">
      <text style="font-size: 13.7px; font-family: 'DejaVu Sans', sans-serif" transform="translate(168.88853 2356.81875) rotate(-45)">Top 60%</text>
     </g>
    </g>
    <g id="xtick_124">
     <g id="line2d_527">
      <path d="M 232.305643 2300.5 
L 232.305643 2053 
" clip-path="url(#pfc04a13d2e)" style="fill: none; stroke: #b0b0b0; stroke-width: 0.8; stroke-linecap: square"/>
     </g>
     <g id="line2d_528">
      <g>
       <path d="M 0 0 
L 0 3.5 
" transform="translate(232.305643 2300.5)" style="stroke: #000000; stroke-width: 0.8"/>
      </g>
     </g>
     <g id="text_324">
      <text style="font-size: 13.7px; font-family: 'DejaVu Sans', sans-serif" transform="translate(214.499816 2356.81875) rotate(-45)">Top 50%</text>
     </g>
    </g>
    <g id="xtick_125">
     <g id="line2d_529">
      <path d="M 277.916928 2300.5 
L 277.916928 2053 
" clip-path="url(#pfc04a13d2e)" style="fill: none; stroke: #b0b0b0; stroke-width: 0.8; stroke-linecap: square"/>
     </g>
     <g id="line2d_530">
      <g>
       <path d="M 0 0 
L 0 3.5 
" transform="translate(277.916928 2300.5)" style="stroke: #000000; stroke-width: 0.8"/>
      </g>
     </g>
     <g id="text_325">
      <text style="font-size: 13.7px; font-family: 'DejaVu Sans', sans-serif" transform="translate(260.111101 2356.81875) rotate(-45)">Top 40%</text>
     </g>
    </g>
    <g id="xtick_126">
     <g id="line2d_531">
      <path d="M 323.528213 2300.5 
L 323.528213 2053 
" clip-path="url(#pfc04a13d2e)" style="fill: none; stroke: #b0b0b0; stroke-width: 0.8; stroke-linecap: square"/>
     </g>
     <g id="line2d_532">
      <g>
       <path d="M 0 0 
L 0 3.5 
" transform="translate(323.528213 2300.5)" style="stroke: #000000; stroke-width: 0.8"/>
      </g>
     </g>
     <g id="text_326">
      <text style="font-size: 13.7px; font-family: 'DejaVu Sans', sans-serif" transform="translate(305.722386 2356.81875) rotate(-45)">Top 20%</text>
     </g>
    </g>
    <g id="text_327">
     <text style="font-size: 15.7px; font-family: 'DejaVu Sans', sans-serif; text-anchor: middle" x="209.5" y="2374.762965" transform="rotate(-0 209.5 2374.762965)">Selected Features of emotions dataset</text>
    </g>
   </g>
   <g id="matplotlib.axis_42">
    <g id="ytick_141">
     <g id="line2d_533">
      <path d="M 64 2300.5 
L 355 2300.5 
" clip-path="url(#pfc04a13d2e)" style="fill: none; stroke: #b0b0b0; stroke-width: 0.8; stroke-linecap: square"/>
     </g>
     <g id="line2d_534">
      <g>
       <path d="M 0 0 
L -3.5 0 
" transform="translate(64 2300.5)" style="stroke: #000000; stroke-width: 0.8"/>
      </g>
     </g>
     <g id="text_328">
      <text style="font-size: 12px; font-family: 'DejaVu Sans', sans-serif; text-anchor: end" x="56.5" y="2305.059062" transform="rotate(-0 56.5 2305.059062)" textLength="17.88" lengthAdjust="spacing">0.0</text>
     </g>
    </g>
    <g id="ytick_142">
     <g id="line2d_535">
      <path d="M 64 2253.357143 
L 355 2253.357143 
" clip-path="url(#pfc04a13d2e)" style="fill: none; stroke: #b0b0b0; stroke-width: 0.8; stroke-linecap: square"/>
     </g>
     <g id="line2d_536">
      <g>
       <path d="M 0 0 
L -3.5 0 
" transform="translate(64 2253.357143)" style="stroke: #000000; stroke-width: 0.8"/>
      </g>
     </g>
     <g id="text_329">
      <text style="font-size: 12px; font-family: 'DejaVu Sans', sans-serif; text-anchor: end" x="56.5" y="2257.916205" transform="rotate(-0 56.5 2257.916205)" textLength="17.88" lengthAdjust="spacing">0.2</text>
     </g>
    </g>
    <g id="ytick_143">
     <g id="line2d_537">
      <path d="M 64 2206.214286 
L 355 2206.214286 
" clip-path="url(#pfc04a13d2e)" style="fill: none; stroke: #b0b0b0; stroke-width: 0.8; stroke-linecap: square"/>
     </g>
     <g id="line2d_538">
      <g>
       <path d="M 0 0 
L -3.5 0 
" transform="translate(64 2206.214286)" style="stroke: #000000; stroke-width: 0.8"/>
      </g>
     </g>
     <g id="text_330">
      <text style="font-size: 12px; font-family: 'DejaVu Sans', sans-serif; text-anchor: end" x="56.5" y="2210.773348" transform="rotate(-0 56.5 2210.773348)" textLength="17.88" lengthAdjust="spacing">0.4</text>
     </g>
    </g>
    <g id="ytick_144">
     <g id="line2d_539">
      <path d="M 64 2159.071429 
L 355 2159.071429 
" clip-path="url(#pfc04a13d2e)" style="fill: none; stroke: #b0b0b0; stroke-width: 0.8; stroke-linecap: square"/>
     </g>
     <g id="line2d_540">
      <g>
       <path d="M 0 0 
L -3.5 0 
" transform="translate(64 2159.071429)" style="stroke: #000000; stroke-width: 0.8"/>
      </g>
     </g>
     <g id="text_331">
      <text style="font-size: 12px; font-family: 'DejaVu Sans', sans-serif; text-anchor: end" x="56.5" y="2163.630491" transform="rotate(-0 56.5 2163.630491)" textLength="17.88" lengthAdjust="spacing">0.6</text>
     </g>
    </g>
    <g id="ytick_145">
     <g id="line2d_541">
      <path d="M 64 2111.928571 
L 355 2111.928571 
" clip-path="url(#pfc04a13d2e)" style="fill: none; stroke: #b0b0b0; stroke-width: 0.8; stroke-linecap: square"/>
     </g>
     <g id="line2d_542">
      <g>
       <path d="M 0 0 
L -3.5 0 
" transform="translate(64 2111.928571)" style="stroke: #000000; stroke-width: 0.8"/>
      </g>
     </g>
     <g id="text_332">
      <text style="font-size: 12px; font-family: 'DejaVu Sans', sans-serif; text-anchor: end" x="56.5" y="2116.487634" transform="rotate(-0 56.5 2116.487634)" textLength="17.88" lengthAdjust="spacing">0.8</text>
     </g>
    </g>
    <g id="ytick_146">
     <g id="line2d_543">
      <path d="M 64 2064.785714 
L 355 2064.785714 
" clip-path="url(#pfc04a13d2e)" style="fill: none; stroke: #b0b0b0; stroke-width: 0.8; stroke-linecap: square"/>
     </g>
     <g id="line2d_544">
      <g>
       <path d="M 0 0 
L -3.5 0 
" transform="translate(64 2064.785714)" style="stroke: #000000; stroke-width: 0.8"/>
      </g>
     </g>
     <g id="text_333">
      <text style="font-size: 12px; font-family: 'DejaVu Sans', sans-serif; text-anchor: end" x="56.5" y="2069.344777" transform="rotate(-0 56.5 2069.344777)" textLength="17.88" lengthAdjust="spacing">1.0</text>
     </g>
    </g>
    <g id="text_334">
     <text style="font-size: 15.7px; font-family: 'DejaVu Sans', sans-serif; text-anchor: middle" x="31.351141" y="2176.75" transform="rotate(-90 31.351141 2176.75)">Training time of emotions dataset</text>
    </g>
   </g>
   <g id="patch_229">
    <path d="M 64 2300.5 
L 64 2053 
" style="fill: none; stroke: #000000; stroke-width: 0.8; stroke-linejoin: miter; stroke-linecap: square"/>
   </g>
   <g id="patch_230">
    <path d="M 355 2300.5 
L 355 2053 
" style="fill: none; stroke: #000000; stroke-width: 0.8; stroke-linejoin: miter; stroke-linecap: square"/>
   </g>
   <g id="patch_231">
    <path d="M 64 2300.5 
L 355 2300.5 
" style="fill: none; stroke: #000000; stroke-width: 0.8; stroke-linejoin: miter; stroke-linecap: square"/>
   </g>
   <g id="patch_232">
    <path d="M 64 2053 
L 355 2053 
" style="fill: none; stroke: #000000; stroke-width: 0.8; stroke-linejoin: miter; stroke-linecap: square"/>
   </g>
   <g id="text_335">
    <text style="font-size: 18.05px; font-family: 'DejaVu Sans', sans-serif; text-anchor: middle" x="209.5" y="2047" transform="rotate(-0 209.5 2047)">Classifier : CC</text>
   </g>
  </g>
  <g id="axes_22">
   <g id="patch_233">
    <path d="M 428.5 2300.5 
L 720 2300.5 
L 720 2053 
L 428.5 2053 
z
" style="fill: #ffffff"/>
   </g>
   <g id="patch_234">
    <path d="M 441.75 2176.75 
L 478.301724 2176.75 
L 478.301724 2176.75 
L 441.75 2176.75 
z
" clip-path="url(#pebff73ca99)" style="fill: #0000ff"/>
   </g>
   <g id="patch_235">
    <path d="M 487.439655 2176.75 
L 523.991379 2176.75 
L 523.991379 2176.75 
L 487.439655 2176.75 
z
" clip-path="url(#pebff73ca99)" style="fill: #ffa500"/>
   </g>
   <g id="patch_236">
    <path d="M 533.12931 2176.75 
L 569.681034 2176.75 
L 569.681034 2176.75 
L 533.12931 2176.75 
z
" clip-path="url(#pebff73ca99)" style="fill: #008000"/>
   </g>
   <g id="patch_237">
    <path d="M 578.818966 2176.75 
L 615.37069 2176.75 
L 615.37069 2176.75 
L 578.818966 2176.75 
z
" clip-path="url(#pebff73ca99)" style="fill: #ff0000"/>
   </g>
   <g id="patch_238">
    <path d="M 624.508621 2176.75 
L 661.060345 2176.75 
L 661.060345 2176.75 
L 624.508621 2176.75 
z
" clip-path="url(#pebff73ca99)" style="fill: #800080"/>
   </g>
   <g id="patch_239">
    <path d="M 670.198276 2176.75 
L 706.75 2176.75 
L 706.75 2176.75 
L 670.198276 2176.75 
z
" clip-path="url(#pebff73ca99)" style="fill: #a52a2a"/>
   </g>
   <g id="matplotlib.axis_43">
    <g id="xtick_127">
     <g id="line2d_545">
      <path d="M 460.025862 2300.5 
L 460.025862 2053 
" clip-path="url(#pebff73ca99)" style="fill: none; stroke: #b0b0b0; stroke-width: 0.8; stroke-linecap: square"/>
     </g>
     <g id="line2d_546">
      <g>
       <path d="M 0 0 
L 0 3.5 
" transform="translate(460.025862 2300.5)" style="stroke: #000000; stroke-width: 0.8"/>
      </g>
     </g>
     <g id="text_336">
      <text style="font-size: 13.7px; font-family: 'DejaVu Sans', sans-serif" transform="translate(443.745038 2353.768744) rotate(-45)">Original</text>
     </g>
    </g>
    <g id="xtick_128">
     <g id="line2d_547">
      <path d="M 505.715517 2300.5 
L 505.715517 2053 
" clip-path="url(#pebff73ca99)" style="fill: none; stroke: #b0b0b0; stroke-width: 0.8; stroke-linecap: square"/>
     </g>
     <g id="line2d_548">
      <g>
       <path d="M 0 0 
L 0 3.5 
" transform="translate(505.715517 2300.5)" style="stroke: #000000; stroke-width: 0.8"/>
      </g>
     </g>
     <g id="text_337">
      <text style="font-size: 13.7px; font-family: 'DejaVu Sans', sans-serif" transform="translate(487.90969 2356.81875) rotate(-45)">Top 80%</text>
     </g>
    </g>
    <g id="xtick_129">
     <g id="line2d_549">
      <path d="M 551.405172 2300.5 
L 551.405172 2053 
" clip-path="url(#pebff73ca99)" style="fill: none; stroke: #b0b0b0; stroke-width: 0.8; stroke-linecap: square"/>
     </g>
     <g id="line2d_550">
      <g>
       <path d="M 0 0 
L 0 3.5 
" transform="translate(551.405172 2300.5)" style="stroke: #000000; stroke-width: 0.8"/>
      </g>
     </g>
     <g id="text_338">
      <text style="font-size: 13.7px; font-family: 'DejaVu Sans', sans-serif" transform="translate(533.599345 2356.81875) rotate(-45)">Top 60%</text>
     </g>
    </g>
    <g id="xtick_130">
     <g id="line2d_551">
      <path d="M 597.094828 2300.5 
L 597.094828 2053 
" clip-path="url(#pebff73ca99)" style="fill: none; stroke: #b0b0b0; stroke-width: 0.8; stroke-linecap: square"/>
     </g>
     <g id="line2d_552">
      <g>
       <path d="M 0 0 
L 0 3.5 
" transform="translate(597.094828 2300.5)" style="stroke: #000000; stroke-width: 0.8"/>
      </g>
     </g>
     <g id="text_339">
      <text style="font-size: 13.7px; font-family: 'DejaVu Sans', sans-serif" transform="translate(579.289 2356.81875) rotate(-45)">Top 50%</text>
     </g>
    </g>
    <g id="xtick_131">
     <g id="line2d_553">
      <path d="M 642.784483 2300.5 
L 642.784483 2053 
" clip-path="url(#pebff73ca99)" style="fill: none; stroke: #b0b0b0; stroke-width: 0.8; stroke-linecap: square"/>
     </g>
     <g id="line2d_554">
      <g>
       <path d="M 0 0 
L 0 3.5 
" transform="translate(642.784483 2300.5)" style="stroke: #000000; stroke-width: 0.8"/>
      </g>
     </g>
     <g id="text_340">
      <text style="font-size: 13.7px; font-family: 'DejaVu Sans', sans-serif" transform="translate(624.978656 2356.81875) rotate(-45)">Top 40%</text>
     </g>
    </g>
    <g id="xtick_132">
     <g id="line2d_555">
      <path d="M 688.474138 2300.5 
L 688.474138 2053 
" clip-path="url(#pebff73ca99)" style="fill: none; stroke: #b0b0b0; stroke-width: 0.8; stroke-linecap: square"/>
     </g>
     <g id="line2d_556">
      <g>
       <path d="M 0 0 
L 0 3.5 
" transform="translate(688.474138 2300.5)" style="stroke: #000000; stroke-width: 0.8"/>
      </g>
     </g>
     <g id="text_341">
      <text style="font-size: 13.7px; font-family: 'DejaVu Sans', sans-serif" transform="translate(670.668311 2356.81875) rotate(-45)">Top 20%</text>
     </g>
    </g>
    <g id="text_342">
     <text style="font-size: 15.7px; font-family: 'DejaVu Sans', sans-serif; text-anchor: middle" x="574.25" y="2374.762965" transform="rotate(-0 574.25 2374.762965)">Selected Features of emotions dataset</text>
    </g>
   </g>
   <g id="matplotlib.axis_44">
    <g id="ytick_147">
     <g id="line2d_557">
      <path d="M 428.5 2266.75 
L 720 2266.75 
" clip-path="url(#pebff73ca99)" style="fill: none; stroke: #b0b0b0; stroke-width: 0.8; stroke-linecap: square"/>
     </g>
     <g id="line2d_558">
      <g>
       <path d="M 0 0 
L -3.5 0 
" transform="translate(428.5 2266.75)" style="stroke: #000000; stroke-width: 0.8"/>
      </g>
     </g>
     <g id="text_343">
      <text style="font-size: 12px; font-family: 'DejaVu Sans', sans-serif; text-anchor: end" x="421" y="2271.309062" transform="rotate(-0 421 2271.309062)" textLength="34.37" lengthAdjust="spacing">−0.04</text>
     </g>
    </g>
    <g id="ytick_148">
     <g id="line2d_559">
      <path d="M 428.5 2221.75 
L 720 2221.75 
" clip-path="url(#pebff73ca99)" style="fill: none; stroke: #b0b0b0; stroke-width: 0.8; stroke-linecap: square"/>
     </g>
     <g id="line2d_560">
      <g>
       <path d="M 0 0 
L -3.5 0 
" transform="translate(428.5 2221.75)" style="stroke: #000000; stroke-width: 0.8"/>
      </g>
     </g>
     <g id="text_344">
      <text style="font-size: 12px; font-family: 'DejaVu Sans', sans-serif; text-anchor: end" x="421" y="2226.309062" transform="rotate(-0 421 2226.309062)" textLength="34.37" lengthAdjust="spacing">−0.02</text>
     </g>
    </g>
    <g id="ytick_149">
     <g id="line2d_561">
      <path d="M 428.5 2176.75 
L 720 2176.75 
" clip-path="url(#pebff73ca99)" style="fill: none; stroke: #b0b0b0; stroke-width: 0.8; stroke-linecap: square"/>
     </g>
     <g id="line2d_562">
      <g>
       <path d="M 0 0 
L -3.5 0 
" transform="translate(428.5 2176.75)" style="stroke: #000000; stroke-width: 0.8"/>
      </g>
     </g>
     <g id="text_345">
      <text style="font-size: 12px; font-family: 'DejaVu Sans', sans-serif; text-anchor: end" x="421" y="2181.309062" transform="rotate(-0 421 2181.309062)" textLength="24.92" lengthAdjust="spacing">0.00</text>
     </g>
    </g>
    <g id="ytick_150">
     <g id="line2d_563">
      <path d="M 428.5 2131.75 
L 720 2131.75 
" clip-path="url(#pebff73ca99)" style="fill: none; stroke: #b0b0b0; stroke-width: 0.8; stroke-linecap: square"/>
     </g>
     <g id="line2d_564">
      <g>
       <path d="M 0 0 
L -3.5 0 
" transform="translate(428.5 2131.75)" style="stroke: #000000; stroke-width: 0.8"/>
      </g>
     </g>
     <g id="text_346">
      <text style="font-size: 12px; font-family: 'DejaVu Sans', sans-serif; text-anchor: end" x="421" y="2136.309062" transform="rotate(-0 421 2136.309062)" textLength="24.92" lengthAdjust="spacing">0.02</text>
     </g>
    </g>
    <g id="ytick_151">
     <g id="line2d_565">
      <path d="M 428.5 2086.75 
L 720 2086.75 
" clip-path="url(#pebff73ca99)" style="fill: none; stroke: #b0b0b0; stroke-width: 0.8; stroke-linecap: square"/>
     </g>
     <g id="line2d_566">
      <g>
       <path d="M 0 0 
L -3.5 0 
" transform="translate(428.5 2086.75)" style="stroke: #000000; stroke-width: 0.8"/>
      </g>
     </g>
     <g id="text_347">
      <text style="font-size: 12px; font-family: 'DejaVu Sans', sans-serif; text-anchor: end" x="421" y="2091.309062" transform="rotate(-0 421 2091.309062)" textLength="24.92" lengthAdjust="spacing">0.04</text>
     </g>
    </g>
    <g id="text_348">
     <text style="font-size: 15.7px; font-family: 'DejaVu Sans', sans-serif; text-anchor: middle" x="379.360516" y="2176.75" transform="rotate(-90 379.360516 2176.75)">Training time of emotions dataset</text>
    </g>
   </g>
   <g id="patch_240">
    <path d="M 428.5 2300.5 
L 428.5 2053 
" style="fill: none; stroke: #000000; stroke-width: 0.8; stroke-linejoin: miter; stroke-linecap: square"/>
   </g>
   <g id="patch_241">
    <path d="M 720 2300.5 
L 720 2053 
" style="fill: none; stroke: #000000; stroke-width: 0.8; stroke-linejoin: miter; stroke-linecap: square"/>
   </g>
   <g id="patch_242">
    <path d="M 428.5 2300.5 
L 720 2300.5 
" style="fill: none; stroke: #000000; stroke-width: 0.8; stroke-linejoin: miter; stroke-linecap: square"/>
   </g>
   <g id="patch_243">
    <path d="M 428.5 2053 
L 720 2053 
" style="fill: none; stroke: #000000; stroke-width: 0.8; stroke-linejoin: miter; stroke-linecap: square"/>
   </g>
   <g id="text_349">
    <text style="font-size: 18.05px; font-family: 'DejaVu Sans', sans-serif; text-anchor: middle" x="574.25" y="2047" transform="rotate(-0 574.25 2047)">Classifier : LP</text>
   </g>
  </g>
  <g id="axes_23">
   <g id="patch_244">
    <path d="M 793 2300.5 
L 1084 2300.5 
L 1084 2053 
L 793 2053 
z
" style="fill: #ffffff"/>
   </g>
   <g id="patch_245">
    <path d="M 806.227273 2300.5 
L 842.716301 2300.5 
L 842.716301 2064.785714 
L 806.227273 2064.785714 
z
" clip-path="url(#p42b80a282e)" style="fill: #0000ff"/>
   </g>
   <g id="patch_246">
    <path d="M 851.838558 2300.5 
L 888.327586 2300.5 
L 888.327586 2082.033101 
L 851.838558 2082.033101 
z
" clip-path="url(#p42b80a282e)" style="fill: #ffa500"/>
   </g>
   <g id="patch_247">
    <path d="M 897.449843 2300.5 
L 933.938871 2300.5 
L 933.938871 2087.78223 
L 897.449843 2087.78223 
z
" clip-path="url(#p42b80a282e)" style="fill: #008000"/>
   </g>
   <g id="patch_248">
    <path d="M 943.061129 2300.5 
L 979.550157 2300.5 
L 979.550157 2087.78223 
L 943.061129 2087.78223 
z
" clip-path="url(#p42b80a282e)" style="fill: #ff0000"/>
   </g>
   <g id="patch_249">
    <path d="M 988.672414 2300.5 
L 1025.161442 2300.5 
L 1025.161442 2099.280488 
L 988.672414 2099.280488 
z
" clip-path="url(#p42b80a282e)" style="fill: #800080"/>
   </g>
   <g id="patch_250">
    <path d="M 1034.283699 2300.5 
L 1070.772727 2300.5 
L 1070.772727 2128.026132 
L 1034.283699 2128.026132 
z
" clip-path="url(#p42b80a282e)" style="fill: #a52a2a"/>
   </g>
   <g id="matplotlib.axis_45">
    <g id="xtick_133">
     <g id="line2d_567">
      <path d="M 824.471787 2300.5 
L 824.471787 2053 
" clip-path="url(#p42b80a282e)" style="fill: none; stroke: #b0b0b0; stroke-width: 0.8; stroke-linecap: square"/>
     </g>
     <g id="line2d_568">
      <g>
       <path d="M 0 0 
L 0 3.5 
" transform="translate(824.471787 2300.5)" style="stroke: #000000; stroke-width: 0.8"/>
      </g>
     </g>
     <g id="text_350">
      <text style="font-size: 13.7px; font-family: 'DejaVu Sans', sans-serif" transform="translate(808.190963 2353.768744) rotate(-45)">Original</text>
     </g>
    </g>
    <g id="xtick_134">
     <g id="line2d_569">
      <path d="M 870.083072 2300.5 
L 870.083072 2053 
" clip-path="url(#p42b80a282e)" style="fill: none; stroke: #b0b0b0; stroke-width: 0.8; stroke-linecap: square"/>
     </g>
     <g id="line2d_570">
      <g>
       <path d="M 0 0 
L 0 3.5 
" transform="translate(870.083072 2300.5)" style="stroke: #000000; stroke-width: 0.8"/>
      </g>
     </g>
     <g id="text_351">
      <text style="font-size: 13.7px; font-family: 'DejaVu Sans', sans-serif" transform="translate(852.277245 2356.81875) rotate(-45)">Top 80%</text>
     </g>
    </g>
    <g id="xtick_135">
     <g id="line2d_571">
      <path d="M 915.694357 2300.5 
L 915.694357 2053 
" clip-path="url(#p42b80a282e)" style="fill: none; stroke: #b0b0b0; stroke-width: 0.8; stroke-linecap: square"/>
     </g>
     <g id="line2d_572">
      <g>
       <path d="M 0 0 
L 0 3.5 
" transform="translate(915.694357 2300.5)" style="stroke: #000000; stroke-width: 0.8"/>
      </g>
     </g>
     <g id="text_352">
      <text style="font-size: 13.7px; font-family: 'DejaVu Sans', sans-serif" transform="translate(897.88853 2356.81875) rotate(-45)">Top 60%</text>
     </g>
    </g>
    <g id="xtick_136">
     <g id="line2d_573">
      <path d="M 961.305643 2300.5 
L 961.305643 2053 
" clip-path="url(#p42b80a282e)" style="fill: none; stroke: #b0b0b0; stroke-width: 0.8; stroke-linecap: square"/>
     </g>
     <g id="line2d_574">
      <g>
       <path d="M 0 0 
L 0 3.5 
" transform="translate(961.305643 2300.5)" style="stroke: #000000; stroke-width: 0.8"/>
      </g>
     </g>
     <g id="text_353">
      <text style="font-size: 13.7px; font-family: 'DejaVu Sans', sans-serif" transform="translate(943.499816 2356.81875) rotate(-45)">Top 50%</text>
     </g>
    </g>
    <g id="xtick_137">
     <g id="line2d_575">
      <path d="M 1006.916928 2300.5 
L 1006.916928 2053 
" clip-path="url(#p42b80a282e)" style="fill: none; stroke: #b0b0b0; stroke-width: 0.8; stroke-linecap: square"/>
     </g>
     <g id="line2d_576">
      <g>
       <path d="M 0 0 
L 0 3.5 
" transform="translate(1006.916928 2300.5)" style="stroke: #000000; stroke-width: 0.8"/>
      </g>
     </g>
     <g id="text_354">
      <text style="font-size: 13.7px; font-family: 'DejaVu Sans', sans-serif" transform="translate(989.111101 2356.81875) rotate(-45)">Top 40%</text>
     </g>
    </g>
    <g id="xtick_138">
     <g id="line2d_577">
      <path d="M 1052.528213 2300.5 
L 1052.528213 2053 
" clip-path="url(#p42b80a282e)" style="fill: none; stroke: #b0b0b0; stroke-width: 0.8; stroke-linecap: square"/>
     </g>
     <g id="line2d_578">
      <g>
       <path d="M 0 0 
L 0 3.5 
" transform="translate(1052.528213 2300.5)" style="stroke: #000000; stroke-width: 0.8"/>
      </g>
     </g>
     <g id="text_355">
      <text style="font-size: 13.7px; font-family: 'DejaVu Sans', sans-serif" transform="translate(1034.722386 2356.81875) rotate(-45)">Top 20%</text>
     </g>
    </g>
    <g id="text_356">
     <text style="font-size: 15.7px; font-family: 'DejaVu Sans', sans-serif; text-anchor: middle" x="938.5" y="2374.762965" transform="rotate(-0 938.5 2374.762965)">Selected Features of emotions dataset</text>
    </g>
   </g>
   <g id="matplotlib.axis_46">
    <g id="ytick_152">
     <g id="line2d_579">
      <path d="M 793 2300.5 
L 1084 2300.5 
" clip-path="url(#p42b80a282e)" style="fill: none; stroke: #b0b0b0; stroke-width: 0.8; stroke-linecap: square"/>
     </g>
     <g id="line2d_580">
      <g>
       <path d="M 0 0 
L -3.5 0 
" transform="translate(793 2300.5)" style="stroke: #000000; stroke-width: 0.8"/>
      </g>
     </g>
     <g id="text_357">
      <text style="font-size: 12px; font-family: 'DejaVu Sans', sans-serif; text-anchor: end" x="785.5" y="2305.059062" transform="rotate(-0 785.5 2305.059062)">0</text>
     </g>
    </g>
    <g id="ytick_153">
     <g id="line2d_581">
      <path d="M 793 2271.754355 
L 1084 2271.754355 
" clip-path="url(#p42b80a282e)" style="fill: none; stroke: #b0b0b0; stroke-width: 0.8; stroke-linecap: square"/>
     </g>
     <g id="line2d_582">
      <g>
       <path d="M 0 0 
L -3.5 0 
" transform="translate(793 2271.754355)" style="stroke: #000000; stroke-width: 0.8"/>
      </g>
     </g>
     <g id="text_358">
      <text style="font-size: 12px; font-family: 'DejaVu Sans', sans-serif; text-anchor: end" x="785.5" y="2276.313418" transform="rotate(-0 785.5 2276.313418)">5</text>
     </g>
    </g>
    <g id="ytick_154">
     <g id="line2d_583">
      <path d="M 793 2243.008711 
L 1084 2243.008711 
" clip-path="url(#p42b80a282e)" style="fill: none; stroke: #b0b0b0; stroke-width: 0.8; stroke-linecap: square"/>
     </g>
     <g id="line2d_584">
      <g>
       <path d="M 0 0 
L -3.5 0 
" transform="translate(793 2243.008711)" style="stroke: #000000; stroke-width: 0.8"/>
      </g>
     </g>
     <g id="text_359">
      <text style="font-size: 12px; font-family: 'DejaVu Sans', sans-serif; text-anchor: end" x="785.5" y="2247.567773" transform="rotate(-0 785.5 2247.567773)" textLength="14.67" lengthAdjust="spacing">10</text>
     </g>
    </g>
    <g id="ytick_155">
     <g id="line2d_585">
      <path d="M 793 2214.263066 
L 1084 2214.263066 
" clip-path="url(#p42b80a282e)" style="fill: none; stroke: #b0b0b0; stroke-width: 0.8; stroke-linecap: square"/>
     </g>
     <g id="line2d_586">
      <g>
       <path d="M 0 0 
L -3.5 0 
" transform="translate(793 2214.263066)" style="stroke: #000000; stroke-width: 0.8"/>
      </g>
     </g>
     <g id="text_360">
      <text style="font-size: 12px; font-family: 'DejaVu Sans', sans-serif; text-anchor: end" x="785.5" y="2218.822129" transform="rotate(-0 785.5 2218.822129)" textLength="14.67" lengthAdjust="spacing">15</text>
     </g>
    </g>
    <g id="ytick_156">
     <g id="line2d_587">
      <path d="M 793 2185.517422 
L 1084 2185.517422 
" clip-path="url(#p42b80a282e)" style="fill: none; stroke: #b0b0b0; stroke-width: 0.8; stroke-linecap: square"/>
     </g>
     <g id="line2d_588">
      <g>
       <path d="M 0 0 
L -3.5 0 
" transform="translate(793 2185.517422)" style="stroke: #000000; stroke-width: 0.8"/>
      </g>
     </g>
     <g id="text_361">
      <text style="font-size: 12px; font-family: 'DejaVu Sans', sans-serif; text-anchor: end" x="785.5" y="2190.076484" transform="rotate(-0 785.5 2190.076484)" textLength="14.67" lengthAdjust="spacing">20</text>
     </g>
    </g>
    <g id="ytick_157">
     <g id="line2d_589">
      <path d="M 793 2156.771777 
L 1084 2156.771777 
" clip-path="url(#p42b80a282e)" style="fill: none; stroke: #b0b0b0; stroke-width: 0.8; stroke-linecap: square"/>
     </g>
     <g id="line2d_590">
      <g>
       <path d="M 0 0 
L -3.5 0 
" transform="translate(793 2156.771777)" style="stroke: #000000; stroke-width: 0.8"/>
      </g>
     </g>
     <g id="text_362">
      <text style="font-size: 12px; font-family: 'DejaVu Sans', sans-serif; text-anchor: end" x="785.5" y="2161.33084" transform="rotate(-0 785.5 2161.33084)" textLength="14.67" lengthAdjust="spacing">25</text>
     </g>
    </g>
    <g id="ytick_158">
     <g id="line2d_591">
      <path d="M 793 2128.026132 
L 1084 2128.026132 
" clip-path="url(#p42b80a282e)" style="fill: none; stroke: #b0b0b0; stroke-width: 0.8; stroke-linecap: square"/>
     </g>
     <g id="line2d_592">
      <g>
       <path d="M 0 0 
L -3.5 0 
" transform="translate(793 2128.026132)" style="stroke: #000000; stroke-width: 0.8"/>
      </g>
     </g>
     <g id="text_363">
      <text style="font-size: 12px; font-family: 'DejaVu Sans', sans-serif; text-anchor: end" x="785.5" y="2132.585195" transform="rotate(-0 785.5 2132.585195)" textLength="14.67" lengthAdjust="spacing">30</text>
     </g>
    </g>
    <g id="ytick_159">
     <g id="line2d_593">
      <path d="M 793 2099.280488 
L 1084 2099.280488 
" clip-path="url(#p42b80a282e)" style="fill: none; stroke: #b0b0b0; stroke-width: 0.8; stroke-linecap: square"/>
     </g>
     <g id="line2d_594">
      <g>
       <path d="M 0 0 
L -3.5 0 
" transform="translate(793 2099.280488)" style="stroke: #000000; stroke-width: 0.8"/>
      </g>
     </g>
     <g id="text_364">
      <text style="font-size: 12px; font-family: 'DejaVu Sans', sans-serif; text-anchor: end" x="785.5" y="2103.83955" transform="rotate(-0 785.5 2103.83955)" textLength="14.67" lengthAdjust="spacing">35</text>
     </g>
    </g>
    <g id="ytick_160">
     <g id="line2d_595">
      <path d="M 793 2070.534843 
L 1084 2070.534843 
" clip-path="url(#p42b80a282e)" style="fill: none; stroke: #b0b0b0; stroke-width: 0.8; stroke-linecap: square"/>
     </g>
     <g id="line2d_596">
      <g>
       <path d="M 0 0 
L -3.5 0 
" transform="translate(793 2070.534843)" style="stroke: #000000; stroke-width: 0.8"/>
      </g>
     </g>
     <g id="text_365">
      <text style="font-size: 12px; font-family: 'DejaVu Sans', sans-serif; text-anchor: end" x="785.5" y="2075.093906" transform="rotate(-0 785.5 2075.093906)" textLength="14.67" lengthAdjust="spacing">40</text>
     </g>
    </g>
    <g id="text_366">
     <text style="font-size: 15.7px; font-family: 'DejaVu Sans', sans-serif; text-anchor: middle" x="763.564891" y="2176.75" transform="rotate(-90 763.564891 2176.75)">Training time of emotions dataset</text>
    </g>
   </g>
   <g id="patch_251">
    <path d="M 793 2300.5 
L 793 2053 
" style="fill: none; stroke: #000000; stroke-width: 0.8; stroke-linejoin: miter; stroke-linecap: square"/>
   </g>
   <g id="patch_252">
    <path d="M 1084 2300.5 
L 1084 2053 
" style="fill: none; stroke: #000000; stroke-width: 0.8; stroke-linejoin: miter; stroke-linecap: square"/>
   </g>
   <g id="patch_253">
    <path d="M 793 2300.5 
L 1084 2300.5 
" style="fill: none; stroke: #000000; stroke-width: 0.8; stroke-linejoin: miter; stroke-linecap: square"/>
   </g>
   <g id="patch_254">
    <path d="M 793 2053 
L 1084 2053 
" style="fill: none; stroke: #000000; stroke-width: 0.8; stroke-linejoin: miter; stroke-linecap: square"/>
   </g>
   <g id="text_367">
    <text style="font-size: 18.05px; font-family: 'DejaVu Sans', sans-serif; text-anchor: middle" x="938.5" y="2047" transform="rotate(-0 938.5 2047)">Classifier : LSPU</text>
   </g>
  </g>
  <g id="axes_24">
   <g id="patch_255">
    <path d="M 1158 2300.5 
L 1449 2300.5 
L 1449 2053 
L 1158 2053 
z
" style="fill: #ffffff"/>
   </g>
   <g id="patch_256">
    <path d="M 1171.227273 2300.5 
L 1207.716301 2300.5 
L 1207.716301 2064.785714 
L 1171.227273 2064.785714 
z
" clip-path="url(#p0df7e3cd50)" style="fill: #0000ff"/>
   </g>
   <g id="patch_257">
    <path d="M 1216.838558 2300.5 
L 1253.327586 2300.5 
L 1253.327586 2076.010204 
L 1216.838558 2076.010204 
z
" clip-path="url(#p0df7e3cd50)" style="fill: #ffa500"/>
   </g>
   <g id="patch_258">
    <path d="M 1262.449843 2300.5 
L 1298.938871 2300.5 
L 1298.938871 2087.234694 
L 1262.449843 2087.234694 
z
" clip-path="url(#p0df7e3cd50)" style="fill: #008000"/>
   </g>
   <g id="patch_259">
    <path d="M 1308.061129 2300.5 
L 1344.550157 2300.5 
L 1344.550157 2087.234694 
L 1308.061129 2087.234694 
z
" clip-path="url(#p0df7e3cd50)" style="fill: #ff0000"/>
   </g>
   <g id="patch_260">
    <path d="M 1353.672414 2300.5 
L 1390.161442 2300.5 
L 1390.161442 2098.459184 
L 1353.672414 2098.459184 
z
" clip-path="url(#p0df7e3cd50)" style="fill: #800080"/>
   </g>
   <g id="patch_261">
    <path d="M 1399.283699 2300.5 
L 1435.772727 2300.5 
L 1435.772727 2132.132653 
L 1399.283699 2132.132653 
z
" clip-path="url(#p0df7e3cd50)" style="fill: #a52a2a"/>
   </g>
   <g id="matplotlib.axis_47">
    <g id="xtick_139">
     <g id="line2d_597">
      <path d="M 1189.471787 2300.5 
L 1189.471787 2053 
" clip-path="url(#p0df7e3cd50)" style="fill: none; stroke: #b0b0b0; stroke-width: 0.8; stroke-linecap: square"/>
     </g>
     <g id="line2d_598">
      <g>
       <path d="M 0 0 
L 0 3.5 
" transform="translate(1189.471787 2300.5)" style="stroke: #000000; stroke-width: 0.8"/>
      </g>
     </g>
     <g id="text_368">
      <text style="font-size: 13.7px; font-family: 'DejaVu Sans', sans-serif" transform="translate(1173.190963 2353.768744) rotate(-45)">Original</text>
     </g>
    </g>
    <g id="xtick_140">
     <g id="line2d_599">
      <path d="M 1235.083072 2300.5 
L 1235.083072 2053 
" clip-path="url(#p0df7e3cd50)" style="fill: none; stroke: #b0b0b0; stroke-width: 0.8; stroke-linecap: square"/>
     </g>
     <g id="line2d_600">
      <g>
       <path d="M 0 0 
L 0 3.5 
" transform="translate(1235.083072 2300.5)" style="stroke: #000000; stroke-width: 0.8"/>
      </g>
     </g>
     <g id="text_369">
      <text style="font-size: 13.7px; font-family: 'DejaVu Sans', sans-serif" transform="translate(1217.277245 2356.81875) rotate(-45)">Top 80%</text>
     </g>
    </g>
    <g id="xtick_141">
     <g id="line2d_601">
      <path d="M 1280.694357 2300.5 
L 1280.694357 2053 
" clip-path="url(#p0df7e3cd50)" style="fill: none; stroke: #b0b0b0; stroke-width: 0.8; stroke-linecap: square"/>
     </g>
     <g id="line2d_602">
      <g>
       <path d="M 0 0 
L 0 3.5 
" transform="translate(1280.694357 2300.5)" style="stroke: #000000; stroke-width: 0.8"/>
      </g>
     </g>
     <g id="text_370">
      <text style="font-size: 13.7px; font-family: 'DejaVu Sans', sans-serif" transform="translate(1262.88853 2356.81875) rotate(-45)">Top 60%</text>
     </g>
    </g>
    <g id="xtick_142">
     <g id="line2d_603">
      <path d="M 1326.305643 2300.5 
L 1326.305643 2053 
" clip-path="url(#p0df7e3cd50)" style="fill: none; stroke: #b0b0b0; stroke-width: 0.8; stroke-linecap: square"/>
     </g>
     <g id="line2d_604">
      <g>
       <path d="M 0 0 
L 0 3.5 
" transform="translate(1326.305643 2300.5)" style="stroke: #000000; stroke-width: 0.8"/>
      </g>
     </g>
     <g id="text_371">
      <text style="font-size: 13.7px; font-family: 'DejaVu Sans', sans-serif" transform="translate(1308.499816 2356.81875) rotate(-45)">Top 50%</text>
     </g>
    </g>
    <g id="xtick_143">
     <g id="line2d_605">
      <path d="M 1371.916928 2300.5 
L 1371.916928 2053 
" clip-path="url(#p0df7e3cd50)" style="fill: none; stroke: #b0b0b0; stroke-width: 0.8; stroke-linecap: square"/>
     </g>
     <g id="line2d_606">
      <g>
       <path d="M 0 0 
L 0 3.5 
" transform="translate(1371.916928 2300.5)" style="stroke: #000000; stroke-width: 0.8"/>
      </g>
     </g>
     <g id="text_372">
      <text style="font-size: 13.7px; font-family: 'DejaVu Sans', sans-serif" transform="translate(1354.111101 2356.81875) rotate(-45)">Top 40%</text>
     </g>
    </g>
    <g id="xtick_144">
     <g id="line2d_607">
      <path d="M 1417.528213 2300.5 
L 1417.528213 2053 
" clip-path="url(#p0df7e3cd50)" style="fill: none; stroke: #b0b0b0; stroke-width: 0.8; stroke-linecap: square"/>
     </g>
     <g id="line2d_608">
      <g>
       <path d="M 0 0 
L 0 3.5 
" transform="translate(1417.528213 2300.5)" style="stroke: #000000; stroke-width: 0.8"/>
      </g>
     </g>
     <g id="text_373">
      <text style="font-size: 13.7px; font-family: 'DejaVu Sans', sans-serif" transform="translate(1399.722386 2356.81875) rotate(-45)">Top 20%</text>
     </g>
    </g>
    <g id="text_374">
     <text style="font-size: 15.7px; font-family: 'DejaVu Sans', sans-serif; text-anchor: middle" x="1303.5" y="2374.762965" transform="rotate(-0 1303.5 2374.762965)">Selected Features of emotions dataset</text>
    </g>
   </g>
   <g id="matplotlib.axis_48">
    <g id="ytick_161">
     <g id="line2d_609">
      <path d="M 1158 2300.5 
L 1449 2300.5 
" clip-path="url(#p0df7e3cd50)" style="fill: none; stroke: #b0b0b0; stroke-width: 0.8; stroke-linecap: square"/>
     </g>
     <g id="line2d_610">
      <g>
       <path d="M 0 0 
L -3.5 0 
" transform="translate(1158 2300.5)" style="stroke: #000000; stroke-width: 0.8"/>
      </g>
     </g>
     <g id="text_375">
      <text style="font-size: 13.6px; font-family: 'DejaVu Sans', sans-serif; text-anchor: end" x="1150.5" y="2305.666938" transform="rotate(-0 1150.5 2305.666938)">0</text>
     </g>
    </g>
    <g id="ytick_162">
     <g id="line2d_611">
      <path d="M 1158 2272.438776 
L 1449 2272.438776 
" clip-path="url(#p0df7e3cd50)" style="fill: none; stroke: #b0b0b0; stroke-width: 0.8; stroke-linecap: square"/>
     </g>
     <g id="line2d_612">
      <g>
       <path d="M 0 0 
L -3.5 0 
" transform="translate(1158 2272.438776)" style="stroke: #000000; stroke-width: 0.8"/>
      </g>
     </g>
     <g id="text_376">
      <text style="font-size: 13.6px; font-family: 'DejaVu Sans', sans-serif; text-anchor: end" x="1150.5" y="2277.605713" transform="rotate(-0 1150.5 2277.605713)">5</text>
     </g>
    </g>
    <g id="ytick_163">
     <g id="line2d_613">
      <path d="M 1158 2244.377551 
L 1449 2244.377551 
" clip-path="url(#p0df7e3cd50)" style="fill: none; stroke: #b0b0b0; stroke-width: 0.8; stroke-linecap: square"/>
     </g>
     <g id="line2d_614">
      <g>
       <path d="M 0 0 
L -3.5 0 
" transform="translate(1158 2244.377551)" style="stroke: #000000; stroke-width: 0.8"/>
      </g>
     </g>
     <g id="text_377">
      <text style="font-size: 13.6px; font-family: 'DejaVu Sans', sans-serif; text-anchor: end" x="1150.5" y="2249.544489" transform="rotate(-0 1150.5 2249.544489)" textLength="16.71" lengthAdjust="spacing">10</text>
     </g>
    </g>
    <g id="ytick_164">
     <g id="line2d_615">
      <path d="M 1158 2216.316327 
L 1449 2216.316327 
" clip-path="url(#p0df7e3cd50)" style="fill: none; stroke: #b0b0b0; stroke-width: 0.8; stroke-linecap: square"/>
     </g>
     <g id="line2d_616">
      <g>
       <path d="M 0 0 
L -3.5 0 
" transform="translate(1158 2216.316327)" style="stroke: #000000; stroke-width: 0.8"/>
      </g>
     </g>
     <g id="text_378">
      <text style="font-size: 13.6px; font-family: 'DejaVu Sans', sans-serif; text-anchor: end" x="1150.5" y="2221.483264" transform="rotate(-0 1150.5 2221.483264)" textLength="16.71" lengthAdjust="spacing">15</text>
     </g>
    </g>
    <g id="ytick_165">
     <g id="line2d_617">
      <path d="M 1158 2188.255102 
L 1449 2188.255102 
" clip-path="url(#p0df7e3cd50)" style="fill: none; stroke: #b0b0b0; stroke-width: 0.8; stroke-linecap: square"/>
     </g>
     <g id="line2d_618">
      <g>
       <path d="M 0 0 
L -3.5 0 
" transform="translate(1158 2188.255102)" style="stroke: #000000; stroke-width: 0.8"/>
      </g>
     </g>
     <g id="text_379">
      <text style="font-size: 13.6px; font-family: 'DejaVu Sans', sans-serif; text-anchor: end" x="1150.5" y="2193.42204" transform="rotate(-0 1150.5 2193.42204)" textLength="16.71" lengthAdjust="spacing">20</text>
     </g>
    </g>
    <g id="ytick_166">
     <g id="line2d_619">
      <path d="M 1158 2160.193878 
L 1449 2160.193878 
" clip-path="url(#p0df7e3cd50)" style="fill: none; stroke: #b0b0b0; stroke-width: 0.8; stroke-linecap: square"/>
     </g>
     <g id="line2d_620">
      <g>
       <path d="M 0 0 
L -3.5 0 
" transform="translate(1158 2160.193878)" style="stroke: #000000; stroke-width: 0.8"/>
      </g>
     </g>
     <g id="text_380">
      <text style="font-size: 13.6px; font-family: 'DejaVu Sans', sans-serif; text-anchor: end" x="1150.5" y="2165.360815" transform="rotate(-0 1150.5 2165.360815)" textLength="16.71" lengthAdjust="spacing">25</text>
     </g>
    </g>
    <g id="ytick_167">
     <g id="line2d_621">
      <path d="M 1158 2132.132653 
L 1449 2132.132653 
" clip-path="url(#p0df7e3cd50)" style="fill: none; stroke: #b0b0b0; stroke-width: 0.8; stroke-linecap: square"/>
     </g>
     <g id="line2d_622">
      <g>
       <path d="M 0 0 
L -3.5 0 
" transform="translate(1158 2132.132653)" style="stroke: #000000; stroke-width: 0.8"/>
      </g>
     </g>
     <g id="text_381">
      <text style="font-size: 13.6px; font-family: 'DejaVu Sans', sans-serif; text-anchor: end" x="1150.5" y="2137.299591" transform="rotate(-0 1150.5 2137.299591)" textLength="16.71" lengthAdjust="spacing">30</text>
     </g>
    </g>
    <g id="ytick_168">
     <g id="line2d_623">
      <path d="M 1158 2104.071429 
L 1449 2104.071429 
" clip-path="url(#p0df7e3cd50)" style="fill: none; stroke: #b0b0b0; stroke-width: 0.8; stroke-linecap: square"/>
     </g>
     <g id="line2d_624">
      <g>
       <path d="M 0 0 
L -3.5 0 
" transform="translate(1158 2104.071429)" style="stroke: #000000; stroke-width: 0.8"/>
      </g>
     </g>
     <g id="text_382">
      <text style="font-size: 13.6px; font-family: 'DejaVu Sans', sans-serif; text-anchor: end" x="1150.5" y="2109.238366" transform="rotate(-0 1150.5 2109.238366)" textLength="16.71" lengthAdjust="spacing">35</text>
     </g>
    </g>
    <g id="ytick_169">
     <g id="line2d_625">
      <path d="M 1158 2076.010204 
L 1449 2076.010204 
" clip-path="url(#p0df7e3cd50)" style="fill: none; stroke: #b0b0b0; stroke-width: 0.8; stroke-linecap: square"/>
     </g>
     <g id="line2d_626">
      <g>
       <path d="M 0 0 
L -3.5 0 
" transform="translate(1158 2076.010204)" style="stroke: #000000; stroke-width: 0.8"/>
      </g>
     </g>
     <g id="text_383">
      <text style="font-size: 13.6px; font-family: 'DejaVu Sans', sans-serif; text-anchor: end" x="1150.5" y="2081.177142" transform="rotate(-0 1150.5 2081.177142)" textLength="16.71" lengthAdjust="spacing">40</text>
     </g>
    </g>
    <g id="text_384">
     <text style="font-size: 15.7px; font-family: 'DejaVu Sans', sans-serif; text-anchor: middle" x="1126.528891" y="2176.75" transform="rotate(-90 1126.528891 2176.75)">Training time of emotions dataset</text>
    </g>
   </g>
   <g id="patch_262">
    <path d="M 1158 2300.5 
L 1158 2053 
" style="fill: none; stroke: #000000; stroke-width: 0.8; stroke-linejoin: miter; stroke-linecap: square"/>
   </g>
   <g id="patch_263">
    <path d="M 1449 2300.5 
L 1449 2053 
" style="fill: none; stroke: #000000; stroke-width: 0.8; stroke-linejoin: miter; stroke-linecap: square"/>
   </g>
   <g id="patch_264">
    <path d="M 1158 2300.5 
L 1449 2300.5 
" style="fill: none; stroke: #000000; stroke-width: 0.8; stroke-linejoin: miter; stroke-linecap: square"/>
   </g>
   <g id="patch_265">
    <path d="M 1158 2053 
L 1449 2053 
" style="fill: none; stroke: #000000; stroke-width: 0.8; stroke-linejoin: miter; stroke-linecap: square"/>
   </g>
   <g id="text_385">
    <text style="font-size: 18.05px; font-family: 'DejaVu Sans', sans-serif; text-anchor: middle" x="1303.5" y="2047" transform="rotate(-0 1303.5 2047)">Classifier : LSPV</text>
   </g>
  </g>
 </g>
 <defs>
  <clipPath id="p2f9ace0a03">
   <rect x="55.5" y="27" width="296.5" height="250.5"/>
  </clipPath>
  <clipPath id="p5b43a1395b">
   <rect x="417" y="27" width="296.5" height="250.5"/>
  </clipPath>
  <clipPath id="p67e2372275">
   <rect x="779" y="27" width="296.5" height="250.5"/>
  </clipPath>
  <clipPath id="pfdc6907113">
   <rect x="1140.5" y="27" width="296.5" height="250.5"/>
  </clipPath>
  <clipPath id="pc8a797bce1">
   <rect x="55.5" y="384.5" width="296.5" height="250.5"/>
  </clipPath>
  <clipPath id="pc3d3b605e2">
   <rect x="417" y="384.5" width="296.5" height="250.5"/>
  </clipPath>
  <clipPath id="p0c5371c3d8">
   <rect x="779" y="384.5" width="296.5" height="250.5"/>
  </clipPath>
  <clipPath id="pc8f1f481cc">
   <rect x="1140.5" y="384.5" width="296.5" height="250.5"/>
  </clipPath>
  <clipPath id="p3e0d250ede">
   <rect x="57.6" y="856.3" width="289.3" height="247.6"/>
  </clipPath>
  <clipPath id="pe4eb801323">
   <rect x="421.5" y="856.3" width="289" height="247.6"/>
  </clipPath>
  <clipPath id="p4f16533582">
   <rect x="784.5" y="856.3" width="289.5" height="247.6"/>
  </clipPath>
  <clipPath id="p056c0e5ac6">
   <rect x="1147.5" y="856.3" width="289.5" height="247.6"/>
  </clipPath>
  <clipPath id="pebd58f57df">
   <rect x="57.6" y="1213.5" width="289.3" height="247.9"/>
  </clipPath>
  <clipPath id="p08f7154b19">
   <rect x="421.5" y="1213.5" width="289" height="247.9"/>
  </clipPath>
  <clipPath id="pcec7f37543">
   <rect x="784.5" y="1213.5" width="289.5" height="247.9"/>
  </clipPath>
  <clipPath id="p116081255a">
   <rect x="1147.5" y="1213.5" width="289.5" height="247.9"/>
  </clipPath>
  <clipPath id="p3701f082db">
   <rect x="64" y="1695.5" width="291" height="247.5"/>
  </clipPath>
  <clipPath id="p511f4d7b5c">
   <rect x="429" y="1695.5" width="291" height="247.5"/>
  </clipPath>
  <clipPath id="p5c9fbdf861">
   <rect x="793" y="1695.5" width="291" height="247.5"/>
  </clipPath>
  <clipPath id="pd69478e0a8">
   <rect x="1158" y="1695.5" width="291" height="247.5"/>
  </clipPath>
  <clipPath id="pfc04a13d2e">
   <rect x="64" y="2053" width="291" height="247.5"/>
  </clipPath>
  <clipPath id="pebff73ca99">
   <rect x="428.5" y="2053" width="291.5" height="247.5"/>
  </clipPath>
  <clipPath id="p42b80a282e">
   <rect x="793" y="2053" width="291" height="247.5"/>
  </clipPath>
  <clipPath id="p0df7e3cd50">
   <rect x="1158" y="2053" width="291" height="247.5"/>
  </clipPath>
 </defs>
<g id="captions"><text x="454.96" y="768.30" textLength="42.87" lengthAdjust="spacingAndGlyphs" style="font-family:'Liberation Serif',serif;font-size:35.5px;fill:#000">(a)</text><text x="511.03" y="768.30" textLength="130.77" lengthAdjust="spacingAndGlyphs" style="font-family:'Liberation Serif',serif;font-size:35.5px;fill:#000">Training</text><text x="653.61" y="768.30" textLength="69.35" lengthAdjust="spacingAndGlyphs" style="font-family:'Liberation Serif',serif;font-size:35.5px;fill:#000">time</text><text x="733.51" y="768.30" textLength="31.02" lengthAdjust="spacingAndGlyphs" style="font-family:'Liberation Serif',serif;font-size:35.5px;fill:#000">of</text><text x="773.21" y="768.30" textLength="82.51" lengthAdjust="spacingAndGlyphs" style="font-family:'Liberation Serif',serif;font-size:35.5px;fill:#000">scene</text><text x="866.07" y="768.30" textLength="123.95" lengthAdjust="spacingAndGlyphs" style="font-family:'Liberation Serif',serif;font-size:35.5px;fill:#000">dataset.</text><text x="436.44" y="1597.20" textLength="45.56" lengthAdjust="spacingAndGlyphs" style="font-family:'Liberation Serif',serif;font-size:35.5px;fill:#000">(b)</text><text x="494.63" y="1597.20" textLength="130.46" lengthAdjust="spacingAndGlyphs" style="font-family:'Liberation Serif',serif;font-size:35.5px;fill:#000">Training</text><text x="637.41" y="1597.20" textLength="69.55" lengthAdjust="spacingAndGlyphs" style="font-family:'Liberation Serif',serif;font-size:35.5px;fill:#000">time</text><text x="716.58" y="1597.20" textLength="31.65" lengthAdjust="spacingAndGlyphs" style="font-family:'Liberation Serif',serif;font-size:35.5px;fill:#000">of</text><text x="758.15" y="1597.20" textLength="117.99" lengthAdjust="spacingAndGlyphs" style="font-family:'Liberation Serif',serif;font-size:35.5px;fill:#000">medical</text><text x="887.17" y="1597.20" textLength="123.22" lengthAdjust="spacingAndGlyphs" style="font-family:'Liberation Serif',serif;font-size:35.5px;fill:#000">dataset.</text><text x="438.59" y="2435.80" textLength="42.11" lengthAdjust="spacingAndGlyphs" style="font-family:'Liberation Serif',serif;font-size:35.5px;fill:#000">(c)</text><text x="493.43" y="2435.80" textLength="130.66" lengthAdjust="spacingAndGlyphs" style="font-family:'Liberation Serif',serif;font-size:35.5px;fill:#000">Training</text><text x="636.41" y="2435.80" textLength="69.55" lengthAdjust="spacingAndGlyphs" style="font-family:'Liberation Serif',serif;font-size:35.5px;fill:#000">time</text><text x="715.74" y="2435.80" textLength="30.39" lengthAdjust="spacingAndGlyphs" style="font-family:'Liberation Serif',serif;font-size:35.5px;fill:#000">of</text><text x="755.98" y="2435.80" textLength="139.20" lengthAdjust="spacingAndGlyphs" style="font-family:'Liberation Serif',serif;font-size:35.5px;fill:#000">emotions</text><text x="905.98" y="2435.80" textLength="122.50" lengthAdjust="spacingAndGlyphs" style="font-family:'Liberation Serif',serif;font-size:35.5px;fill:#000">dataset.</text></g>
</svg>

</body></html>
